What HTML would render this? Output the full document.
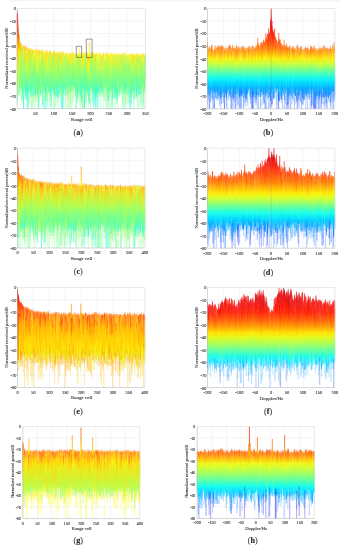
<!DOCTYPE html><html><head><meta charset="utf-8"><style>html,body{margin:0;padding:0;background:#fff;}body{width:343px;height:550px;overflow:hidden;}svg{display:block;}text{font-family:"Liberation Serif",serif;fill:#404040;stroke:#404040;stroke-width:0.12px;}</style></head><body>
<svg width="343" height="550" viewBox="0 0 343 550">
<defs><filter id="bl" x="-5%" y="-5%" width="110%" height="110%"><feGaussianBlur stdDeviation="0.3"/></filter>
<linearGradient id="ga" gradientUnits="userSpaceOnUse" x1="0" y1="0" x2="0" y2="320"><stop offset="0%" stop-color="#d10000"/><stop offset="5%" stop-color="#ea0000"/><stop offset="10%" stop-color="#ff0300"/><stop offset="15%" stop-color="#ff1c00"/><stop offset="20%" stop-color="#ff3400"/><stop offset="25%" stop-color="#ff4c00"/><stop offset="30%" stop-color="#ff7900"/><stop offset="35%" stop-color="#ffa600"/><stop offset="40%" stop-color="#ffcc00"/><stop offset="45%" stop-color="#ffeb00"/><stop offset="50%" stop-color="#ffff00"/><stop offset="55%" stop-color="#ecff13"/><stop offset="60%" stop-color="#daff25"/><stop offset="65%" stop-color="#c7ff38"/><stop offset="70%" stop-color="#b3ff4c"/><stop offset="75%" stop-color="#9eff61"/><stop offset="80%" stop-color="#8aff75"/><stop offset="85%" stop-color="#75ff8a"/><stop offset="90%" stop-color="#65ff9a"/><stop offset="95%" stop-color="#59ffa6"/><stop offset="100%" stop-color="#4dffb2"/></linearGradient>
<linearGradient id="wa" gradientUnits="userSpaceOnUse" x1="0" y1="0" x2="0" y2="320"><stop offset="0%" stop-color="#a80000"/><stop offset="5%" stop-color="#c10000"/><stop offset="10%" stop-color="#d90000"/><stop offset="15%" stop-color="#f20000"/><stop offset="20%" stop-color="#ff0b00"/><stop offset="25%" stop-color="#ff2400"/><stop offset="30%" stop-color="#ff5100"/><stop offset="35%" stop-color="#ff7d00"/><stop offset="40%" stop-color="#ffa300"/><stop offset="45%" stop-color="#ffc200"/><stop offset="50%" stop-color="#ffd600"/><stop offset="55%" stop-color="#ffe900"/><stop offset="60%" stop-color="#fffb00"/><stop offset="65%" stop-color="#f0ff0f"/><stop offset="70%" stop-color="#dbff24"/><stop offset="75%" stop-color="#c7ff38"/><stop offset="80%" stop-color="#b3ff4c"/><stop offset="85%" stop-color="#9eff61"/><stop offset="90%" stop-color="#8eff71"/><stop offset="95%" stop-color="#82ff7d"/><stop offset="100%" stop-color="#75ff8a"/></linearGradient>
<linearGradient id="ca" gradientUnits="userSpaceOnUse" x1="0" y1="0" x2="0" y2="320"><stop offset="0%" stop-color="#ff3800"/><stop offset="5%" stop-color="#ff5100"/><stop offset="10%" stop-color="#ff6900"/><stop offset="15%" stop-color="#ff8200"/><stop offset="20%" stop-color="#ff9a00"/><stop offset="25%" stop-color="#ffb200"/><stop offset="30%" stop-color="#ffdf00"/><stop offset="35%" stop-color="#f2ff0d"/><stop offset="40%" stop-color="#ccff33"/><stop offset="45%" stop-color="#adff52"/><stop offset="50%" stop-color="#99ff66"/><stop offset="55%" stop-color="#86ff79"/><stop offset="60%" stop-color="#74ff8b"/><stop offset="65%" stop-color="#61ff9e"/><stop offset="70%" stop-color="#4dffb2"/><stop offset="75%" stop-color="#38ffc7"/><stop offset="80%" stop-color="#24ffdb"/><stop offset="85%" stop-color="#0ffff0"/><stop offset="90%" stop-color="#00feff"/><stop offset="95%" stop-color="#00f2ff"/><stop offset="100%" stop-color="#00e5ff"/></linearGradient>
<linearGradient id="da" gradientUnits="userSpaceOnUse" x1="0" y1="0" x2="0" y2="320"><stop offset="0%" stop-color="#b20000"/><stop offset="5%" stop-color="#cb0000"/><stop offset="10%" stop-color="#e30000"/><stop offset="15%" stop-color="#fc0000"/><stop offset="20%" stop-color="#ff1500"/><stop offset="25%" stop-color="#ff2e00"/><stop offset="30%" stop-color="#ff5b00"/><stop offset="35%" stop-color="#ff8800"/><stop offset="40%" stop-color="#ffad00"/><stop offset="45%" stop-color="#ffcc00"/><stop offset="50%" stop-color="#ffe000"/><stop offset="55%" stop-color="#fff400"/><stop offset="60%" stop-color="#f9ff06"/><stop offset="65%" stop-color="#e5ff1a"/><stop offset="70%" stop-color="#d1ff2e"/><stop offset="75%" stop-color="#bdff42"/><stop offset="80%" stop-color="#a8ff57"/><stop offset="85%" stop-color="#94ff6b"/><stop offset="90%" stop-color="#84ff7b"/><stop offset="95%" stop-color="#77ff88"/><stop offset="100%" stop-color="#6bff94"/></linearGradient>
<linearGradient id="sa" gradientUnits="userSpaceOnUse" x1="0" y1="0" x2="0" y2="320"><stop offset="0%" stop-color="#f00000"/><stop offset="5%" stop-color="#ff0900"/><stop offset="10%" stop-color="#ff2200"/><stop offset="15%" stop-color="#ff3a00"/><stop offset="20%" stop-color="#ff5300"/><stop offset="25%" stop-color="#ff6b00"/><stop offset="30%" stop-color="#ff9800"/><stop offset="35%" stop-color="#ffc500"/><stop offset="40%" stop-color="#ffeb00"/><stop offset="45%" stop-color="#f5ff0a"/><stop offset="50%" stop-color="#e0ff1f"/><stop offset="55%" stop-color="#cdff32"/><stop offset="60%" stop-color="#bbff44"/><stop offset="65%" stop-color="#a8ff57"/><stop offset="70%" stop-color="#94ff6b"/><stop offset="75%" stop-color="#80ff80"/><stop offset="80%" stop-color="#6bff94"/><stop offset="85%" stop-color="#57ffa8"/><stop offset="90%" stop-color="#46ffb9"/><stop offset="95%" stop-color="#3affc5"/><stop offset="100%" stop-color="#2effd1"/></linearGradient>
<linearGradient id="gb" gradientUnits="userSpaceOnUse" x1="0" y1="0" x2="0" y2="320"><stop offset="0%" stop-color="#9e0000"/><stop offset="5%" stop-color="#b10000"/><stop offset="10%" stop-color="#c40000"/><stop offset="15%" stop-color="#d70000"/><stop offset="20%" stop-color="#ee0000"/><stop offset="25%" stop-color="#ff0f00"/><stop offset="30%" stop-color="#ff3000"/><stop offset="35%" stop-color="#ff5300"/><stop offset="40%" stop-color="#ff7700"/><stop offset="45%" stop-color="#ffaf00"/><stop offset="50%" stop-color="#ffef00"/><stop offset="55%" stop-color="#cfff30"/><stop offset="60%" stop-color="#8fff70"/><stop offset="65%" stop-color="#50ffaf"/><stop offset="70%" stop-color="#10ffef"/><stop offset="75%" stop-color="#00deff"/><stop offset="80%" stop-color="#00b3ff"/><stop offset="85%" stop-color="#008eff"/><stop offset="90%" stop-color="#006aff"/><stop offset="95%" stop-color="#004fff"/><stop offset="100%" stop-color="#0038ff"/></linearGradient>
<linearGradient id="wb" gradientUnits="userSpaceOnUse" x1="0" y1="0" x2="0" y2="320"><stop offset="0%" stop-color="#800000"/><stop offset="5%" stop-color="#930000"/><stop offset="10%" stop-color="#a60000"/><stop offset="15%" stop-color="#b90000"/><stop offset="20%" stop-color="#cf0000"/><stop offset="25%" stop-color="#f00000"/><stop offset="30%" stop-color="#ff1100"/><stop offset="35%" stop-color="#ff3400"/><stop offset="40%" stop-color="#ff5800"/><stop offset="45%" stop-color="#ff9100"/><stop offset="50%" stop-color="#ffd000"/><stop offset="55%" stop-color="#eeff11"/><stop offset="60%" stop-color="#aeff51"/><stop offset="65%" stop-color="#6eff91"/><stop offset="70%" stop-color="#2fffd0"/><stop offset="75%" stop-color="#00fdff"/><stop offset="80%" stop-color="#00d2ff"/><stop offset="85%" stop-color="#00acff"/><stop offset="90%" stop-color="#0088ff"/><stop offset="95%" stop-color="#006eff"/><stop offset="100%" stop-color="#0057ff"/></linearGradient>
<linearGradient id="cb" gradientUnits="userSpaceOnUse" x1="0" y1="0" x2="0" y2="320"><stop offset="0%" stop-color="#bd0000"/><stop offset="5%" stop-color="#d00000"/><stop offset="10%" stop-color="#e30000"/><stop offset="15%" stop-color="#f60000"/><stop offset="20%" stop-color="#ff0d00"/><stop offset="25%" stop-color="#ff2e00"/><stop offset="30%" stop-color="#ff4f00"/><stop offset="35%" stop-color="#ff7100"/><stop offset="40%" stop-color="#ff9500"/><stop offset="45%" stop-color="#ffce00"/><stop offset="50%" stop-color="#f0ff0f"/><stop offset="55%" stop-color="#b1ff4e"/><stop offset="60%" stop-color="#71ff8e"/><stop offset="65%" stop-color="#31ffce"/><stop offset="70%" stop-color="#00f0ff"/><stop offset="75%" stop-color="#00c0ff"/><stop offset="80%" stop-color="#0095ff"/><stop offset="85%" stop-color="#006fff"/><stop offset="90%" stop-color="#004bff"/><stop offset="95%" stop-color="#0031ff"/><stop offset="100%" stop-color="#001aff"/></linearGradient>
<linearGradient id="sb" gradientUnits="userSpaceOnUse" x1="0" y1="0" x2="0" y2="320"><stop offset="0%" stop-color="#bd0000"/><stop offset="5%" stop-color="#d00000"/><stop offset="10%" stop-color="#e30000"/><stop offset="15%" stop-color="#f60000"/><stop offset="20%" stop-color="#ff0d00"/><stop offset="25%" stop-color="#ff2e00"/><stop offset="30%" stop-color="#ff4f00"/><stop offset="35%" stop-color="#ff7100"/><stop offset="40%" stop-color="#ff9500"/><stop offset="45%" stop-color="#ffce00"/><stop offset="50%" stop-color="#f0ff0f"/><stop offset="55%" stop-color="#b1ff4e"/><stop offset="60%" stop-color="#71ff8e"/><stop offset="65%" stop-color="#31ffce"/><stop offset="70%" stop-color="#00f0ff"/><stop offset="75%" stop-color="#00c0ff"/><stop offset="80%" stop-color="#0095ff"/><stop offset="85%" stop-color="#006fff"/><stop offset="90%" stop-color="#004bff"/><stop offset="95%" stop-color="#0031ff"/><stop offset="100%" stop-color="#001aff"/></linearGradient>
<linearGradient id="gc" gradientUnits="userSpaceOnUse" x1="0" y1="0" x2="0" y2="320"><stop offset="0%" stop-color="#d10000"/><stop offset="5%" stop-color="#f20000"/><stop offset="10%" stop-color="#ff1300"/><stop offset="15%" stop-color="#ff3400"/><stop offset="20%" stop-color="#ff5300"/><stop offset="25%" stop-color="#ff6e00"/><stop offset="30%" stop-color="#ff8a00"/><stop offset="35%" stop-color="#ffa500"/><stop offset="40%" stop-color="#ffc300"/><stop offset="45%" stop-color="#ffe000"/><stop offset="50%" stop-color="#fff500"/><stop offset="55%" stop-color="#f1ff0e"/><stop offset="60%" stop-color="#d5ff2a"/><stop offset="65%" stop-color="#bdff42"/><stop offset="70%" stop-color="#a8ff57"/><stop offset="75%" stop-color="#94ff6b"/><stop offset="80%" stop-color="#84ff7b"/><stop offset="85%" stop-color="#73ff8c"/><stop offset="90%" stop-color="#65ff9a"/><stop offset="95%" stop-color="#59ffa6"/><stop offset="100%" stop-color="#4dffb2"/></linearGradient>
<linearGradient id="wc" gradientUnits="userSpaceOnUse" x1="0" y1="0" x2="0" y2="320"><stop offset="0%" stop-color="#a80000"/><stop offset="5%" stop-color="#c90000"/><stop offset="10%" stop-color="#ea0000"/><stop offset="15%" stop-color="#ff0b00"/><stop offset="20%" stop-color="#ff2a00"/><stop offset="25%" stop-color="#ff4600"/><stop offset="30%" stop-color="#ff6100"/><stop offset="35%" stop-color="#ff7c00"/><stop offset="40%" stop-color="#ff9a00"/><stop offset="45%" stop-color="#ffb800"/><stop offset="50%" stop-color="#ffcc00"/><stop offset="55%" stop-color="#ffe400"/><stop offset="60%" stop-color="#feff01"/><stop offset="65%" stop-color="#e5ff1a"/><stop offset="70%" stop-color="#d1ff2e"/><stop offset="75%" stop-color="#bdff42"/><stop offset="80%" stop-color="#acff53"/><stop offset="85%" stop-color="#9cff63"/><stop offset="90%" stop-color="#8eff71"/><stop offset="95%" stop-color="#82ff7d"/><stop offset="100%" stop-color="#75ff8a"/></linearGradient>
<linearGradient id="cc" gradientUnits="userSpaceOnUse" x1="0" y1="0" x2="0" y2="320"><stop offset="0%" stop-color="#ff2e00"/><stop offset="5%" stop-color="#ff4f00"/><stop offset="10%" stop-color="#ff6f00"/><stop offset="15%" stop-color="#ff9000"/><stop offset="20%" stop-color="#ffaf00"/><stop offset="25%" stop-color="#ffca00"/><stop offset="30%" stop-color="#ffe500"/><stop offset="35%" stop-color="#fdff02"/><stop offset="40%" stop-color="#dfff20"/><stop offset="45%" stop-color="#c2ff3d"/><stop offset="50%" stop-color="#adff52"/><stop offset="55%" stop-color="#95ff6a"/><stop offset="60%" stop-color="#79ff86"/><stop offset="65%" stop-color="#61ff9e"/><stop offset="70%" stop-color="#4dffb2"/><stop offset="75%" stop-color="#38ffc7"/><stop offset="80%" stop-color="#28ffd7"/><stop offset="85%" stop-color="#17ffe8"/><stop offset="90%" stop-color="#09fff6"/><stop offset="95%" stop-color="#00fcff"/><stop offset="100%" stop-color="#00f0ff"/></linearGradient>
<linearGradient id="dc" gradientUnits="userSpaceOnUse" x1="0" y1="0" x2="0" y2="320"><stop offset="0%" stop-color="#b20000"/><stop offset="5%" stop-color="#d30000"/><stop offset="10%" stop-color="#f40000"/><stop offset="15%" stop-color="#ff1500"/><stop offset="20%" stop-color="#ff3500"/><stop offset="25%" stop-color="#ff5000"/><stop offset="30%" stop-color="#ff6b00"/><stop offset="35%" stop-color="#ff8600"/><stop offset="40%" stop-color="#ffa400"/><stop offset="45%" stop-color="#ffc200"/><stop offset="50%" stop-color="#ffd600"/><stop offset="55%" stop-color="#ffee00"/><stop offset="60%" stop-color="#f4ff0b"/><stop offset="65%" stop-color="#dbff24"/><stop offset="70%" stop-color="#c7ff38"/><stop offset="75%" stop-color="#b3ff4c"/><stop offset="80%" stop-color="#a2ff5d"/><stop offset="85%" stop-color="#92ff6d"/><stop offset="90%" stop-color="#84ff7b"/><stop offset="95%" stop-color="#77ff88"/><stop offset="100%" stop-color="#6bff94"/></linearGradient>
<linearGradient id="sc" gradientUnits="userSpaceOnUse" x1="0" y1="0" x2="0" y2="320"><stop offset="0%" stop-color="#ff0f00"/><stop offset="5%" stop-color="#ff3000"/><stop offset="10%" stop-color="#ff5100"/><stop offset="15%" stop-color="#ff7100"/><stop offset="20%" stop-color="#ff9000"/><stop offset="25%" stop-color="#ffac00"/><stop offset="30%" stop-color="#ffc700"/><stop offset="35%" stop-color="#ffe200"/><stop offset="40%" stop-color="#feff01"/><stop offset="45%" stop-color="#e0ff1f"/><stop offset="50%" stop-color="#ccff33"/><stop offset="55%" stop-color="#b4ff4b"/><stop offset="60%" stop-color="#98ff67"/><stop offset="65%" stop-color="#7fff80"/><stop offset="70%" stop-color="#6bff94"/><stop offset="75%" stop-color="#57ffa8"/><stop offset="80%" stop-color="#46ffb9"/><stop offset="85%" stop-color="#36ffc9"/><stop offset="90%" stop-color="#28ffd7"/><stop offset="95%" stop-color="#1cffe3"/><stop offset="100%" stop-color="#0ffff0"/></linearGradient>
<linearGradient id="gd" gradientUnits="userSpaceOnUse" x1="0" y1="0" x2="0" y2="320"><stop offset="0%" stop-color="#9e0000"/><stop offset="5%" stop-color="#bd0000"/><stop offset="10%" stop-color="#db0000"/><stop offset="15%" stop-color="#fa0000"/><stop offset="20%" stop-color="#ff1c00"/><stop offset="25%" stop-color="#ff3c00"/><stop offset="30%" stop-color="#ff5e00"/><stop offset="35%" stop-color="#ff8000"/><stop offset="40%" stop-color="#ffb300"/><stop offset="45%" stop-color="#ffe500"/><stop offset="50%" stop-color="#dfff20"/><stop offset="55%" stop-color="#9fff60"/><stop offset="60%" stop-color="#60ff9f"/><stop offset="65%" stop-color="#20ffdf"/><stop offset="70%" stop-color="#00e9ff"/><stop offset="75%" stop-color="#00beff"/><stop offset="80%" stop-color="#009aff"/><stop offset="85%" stop-color="#007dff"/><stop offset="90%" stop-color="#006aff"/><stop offset="95%" stop-color="#005bff"/><stop offset="100%" stop-color="#004dff"/></linearGradient>
<linearGradient id="wd" gradientUnits="userSpaceOnUse" x1="0" y1="0" x2="0" y2="320"><stop offset="0%" stop-color="#800000"/><stop offset="5%" stop-color="#9e0000"/><stop offset="10%" stop-color="#bd0000"/><stop offset="15%" stop-color="#db0000"/><stop offset="20%" stop-color="#fc0000"/><stop offset="25%" stop-color="#ff1e00"/><stop offset="30%" stop-color="#ff3f00"/><stop offset="35%" stop-color="#ff6100"/><stop offset="40%" stop-color="#ff9400"/><stop offset="45%" stop-color="#ffc700"/><stop offset="50%" stop-color="#feff01"/><stop offset="55%" stop-color="#beff41"/><stop offset="60%" stop-color="#7eff81"/><stop offset="65%" stop-color="#3effc1"/><stop offset="70%" stop-color="#09fff6"/><stop offset="75%" stop-color="#00ddff"/><stop offset="80%" stop-color="#00b8ff"/><stop offset="85%" stop-color="#009bff"/><stop offset="90%" stop-color="#0089ff"/><stop offset="95%" stop-color="#007aff"/><stop offset="100%" stop-color="#006bff"/></linearGradient>
<linearGradient id="cd" gradientUnits="userSpaceOnUse" x1="0" y1="0" x2="0" y2="320"><stop offset="0%" stop-color="#bd0000"/><stop offset="5%" stop-color="#db0000"/><stop offset="10%" stop-color="#fa0000"/><stop offset="15%" stop-color="#ff1a00"/><stop offset="20%" stop-color="#ff3a00"/><stop offset="25%" stop-color="#ff5b00"/><stop offset="30%" stop-color="#ff7c00"/><stop offset="35%" stop-color="#ff9e00"/><stop offset="40%" stop-color="#ffd100"/><stop offset="45%" stop-color="#faff05"/><stop offset="50%" stop-color="#c1ff3e"/><stop offset="55%" stop-color="#81ff7e"/><stop offset="60%" stop-color="#41ffbe"/><stop offset="65%" stop-color="#01fffe"/><stop offset="70%" stop-color="#00cbff"/><stop offset="75%" stop-color="#009fff"/><stop offset="80%" stop-color="#007bff"/><stop offset="85%" stop-color="#005eff"/><stop offset="90%" stop-color="#004cff"/><stop offset="95%" stop-color="#003dff"/><stop offset="100%" stop-color="#002eff"/></linearGradient>
<linearGradient id="sd" gradientUnits="userSpaceOnUse" x1="0" y1="0" x2="0" y2="320"><stop offset="0%" stop-color="#bd0000"/><stop offset="5%" stop-color="#db0000"/><stop offset="10%" stop-color="#fa0000"/><stop offset="15%" stop-color="#ff1a00"/><stop offset="20%" stop-color="#ff3a00"/><stop offset="25%" stop-color="#ff5b00"/><stop offset="30%" stop-color="#ff7c00"/><stop offset="35%" stop-color="#ff9e00"/><stop offset="40%" stop-color="#ffd100"/><stop offset="45%" stop-color="#faff05"/><stop offset="50%" stop-color="#c1ff3e"/><stop offset="55%" stop-color="#81ff7e"/><stop offset="60%" stop-color="#41ffbe"/><stop offset="65%" stop-color="#01fffe"/><stop offset="70%" stop-color="#00cbff"/><stop offset="75%" stop-color="#009fff"/><stop offset="80%" stop-color="#007bff"/><stop offset="85%" stop-color="#005eff"/><stop offset="90%" stop-color="#004cff"/><stop offset="95%" stop-color="#003dff"/><stop offset="100%" stop-color="#002eff"/></linearGradient>
<linearGradient id="ge" gradientUnits="userSpaceOnUse" x1="0" y1="0" x2="0" y2="320"><stop offset="0%" stop-color="#db0000"/><stop offset="5%" stop-color="#f80000"/><stop offset="10%" stop-color="#ff1500"/><stop offset="15%" stop-color="#ff3300"/><stop offset="20%" stop-color="#ff5200"/><stop offset="25%" stop-color="#ff7000"/><stop offset="30%" stop-color="#ff8b00"/><stop offset="35%" stop-color="#ffa200"/><stop offset="40%" stop-color="#ffb300"/><stop offset="45%" stop-color="#ffbd00"/><stop offset="50%" stop-color="#ffc700"/><stop offset="55%" stop-color="#ffd000"/><stop offset="60%" stop-color="#ffd900"/><stop offset="65%" stop-color="#ffe300"/><stop offset="70%" stop-color="#ffee00"/><stop offset="75%" stop-color="#fffa00"/><stop offset="80%" stop-color="#feff01"/><stop offset="85%" stop-color="#f8ff07"/><stop offset="90%" stop-color="#f2ff0d"/><stop offset="95%" stop-color="#ecff13"/><stop offset="100%" stop-color="#e5ff1a"/></linearGradient>
<linearGradient id="we" gradientUnits="userSpaceOnUse" x1="0" y1="0" x2="0" y2="320"><stop offset="0%" stop-color="#800000"/><stop offset="5%" stop-color="#9c0000"/><stop offset="10%" stop-color="#b90000"/><stop offset="15%" stop-color="#d60000"/><stop offset="20%" stop-color="#f50000"/><stop offset="25%" stop-color="#ff1400"/><stop offset="30%" stop-color="#ff3000"/><stop offset="35%" stop-color="#ff4600"/><stop offset="40%" stop-color="#ff5700"/><stop offset="45%" stop-color="#ff6100"/><stop offset="50%" stop-color="#ff6b00"/><stop offset="55%" stop-color="#ff7400"/><stop offset="60%" stop-color="#ff7d00"/><stop offset="65%" stop-color="#ff8700"/><stop offset="70%" stop-color="#ff9200"/><stop offset="75%" stop-color="#ff9e00"/><stop offset="80%" stop-color="#ffa400"/><stop offset="85%" stop-color="#ffaa00"/><stop offset="90%" stop-color="#ffb000"/><stop offset="95%" stop-color="#ffb700"/><stop offset="100%" stop-color="#ffbd00"/></linearGradient>
<linearGradient id="ce" gradientUnits="userSpaceOnUse" x1="0" y1="0" x2="0" y2="320"><stop offset="0%" stop-color="#ff0500"/><stop offset="5%" stop-color="#ff2200"/><stop offset="10%" stop-color="#ff3e00"/><stop offset="15%" stop-color="#ff5c00"/><stop offset="20%" stop-color="#ff7a00"/><stop offset="25%" stop-color="#ff9900"/><stop offset="30%" stop-color="#ffb400"/><stop offset="35%" stop-color="#ffca00"/><stop offset="40%" stop-color="#ffdb00"/><stop offset="45%" stop-color="#ffe600"/><stop offset="50%" stop-color="#fff000"/><stop offset="55%" stop-color="#fff800"/><stop offset="60%" stop-color="#fcff03"/><stop offset="65%" stop-color="#f2ff0d"/><stop offset="70%" stop-color="#e7ff18"/><stop offset="75%" stop-color="#dbff24"/><stop offset="80%" stop-color="#d5ff2a"/><stop offset="85%" stop-color="#cfff30"/><stop offset="90%" stop-color="#c9ff36"/><stop offset="95%" stop-color="#c3ff3c"/><stop offset="100%" stop-color="#bdff42"/></linearGradient>
<linearGradient id="de" gradientUnits="userSpaceOnUse" x1="0" y1="0" x2="0" y2="320"><stop offset="0%" stop-color="#8a0000"/><stop offset="5%" stop-color="#a60000"/><stop offset="10%" stop-color="#c30000"/><stop offset="15%" stop-color="#e00000"/><stop offset="20%" stop-color="#ff0000"/><stop offset="25%" stop-color="#ff1f00"/><stop offset="30%" stop-color="#ff3a00"/><stop offset="35%" stop-color="#ff5000"/><stop offset="40%" stop-color="#ff6100"/><stop offset="45%" stop-color="#ff6b00"/><stop offset="50%" stop-color="#ff7500"/><stop offset="55%" stop-color="#ff7e00"/><stop offset="60%" stop-color="#ff8700"/><stop offset="65%" stop-color="#ff9100"/><stop offset="70%" stop-color="#ff9d00"/><stop offset="75%" stop-color="#ffa800"/><stop offset="80%" stop-color="#ffae00"/><stop offset="85%" stop-color="#ffb500"/><stop offset="90%" stop-color="#ffbb00"/><stop offset="95%" stop-color="#ffc100"/><stop offset="100%" stop-color="#ffc700"/></linearGradient>
<linearGradient id="se" gradientUnits="userSpaceOnUse" x1="0" y1="0" x2="0" y2="320"><stop offset="0%" stop-color="#ff1900"/><stop offset="5%" stop-color="#ff3600"/><stop offset="10%" stop-color="#ff5300"/><stop offset="15%" stop-color="#ff7000"/><stop offset="20%" stop-color="#ff8f00"/><stop offset="25%" stop-color="#ffad00"/><stop offset="30%" stop-color="#ffc900"/><stop offset="35%" stop-color="#ffdf00"/><stop offset="40%" stop-color="#fff000"/><stop offset="45%" stop-color="#fffa00"/><stop offset="50%" stop-color="#faff05"/><stop offset="55%" stop-color="#f1ff0e"/><stop offset="60%" stop-color="#e8ff17"/><stop offset="65%" stop-color="#deff21"/><stop offset="70%" stop-color="#d3ff2c"/><stop offset="75%" stop-color="#c7ff38"/><stop offset="80%" stop-color="#c1ff3e"/><stop offset="85%" stop-color="#bbff44"/><stop offset="90%" stop-color="#b5ff4a"/><stop offset="95%" stop-color="#aeff51"/><stop offset="100%" stop-color="#a8ff57"/></linearGradient>
<linearGradient id="gf" gradientUnits="userSpaceOnUse" x1="0" y1="0" x2="0" y2="320"><stop offset="0%" stop-color="#c70000"/><stop offset="5%" stop-color="#d70000"/><stop offset="10%" stop-color="#e80000"/><stop offset="15%" stop-color="#f60000"/><stop offset="20%" stop-color="#ff0500"/><stop offset="25%" stop-color="#ff1a00"/><stop offset="30%" stop-color="#ff4200"/><stop offset="35%" stop-color="#ff6b00"/><stop offset="40%" stop-color="#ff9c00"/><stop offset="45%" stop-color="#ffd500"/><stop offset="50%" stop-color="#f2ff0d"/><stop offset="55%" stop-color="#bfff40"/><stop offset="60%" stop-color="#8cff73"/><stop offset="65%" stop-color="#50ffaf"/><stop offset="70%" stop-color="#10ffef"/><stop offset="75%" stop-color="#00deff"/><stop offset="80%" stop-color="#00b2ff"/><stop offset="85%" stop-color="#0099ff"/><stop offset="90%" stop-color="#0080ff"/><stop offset="95%" stop-color="#0066ff"/><stop offset="100%" stop-color="#004dff"/></linearGradient>
<linearGradient id="wf" gradientUnits="userSpaceOnUse" x1="0" y1="0" x2="0" y2="320"><stop offset="0%" stop-color="#a80000"/><stop offset="5%" stop-color="#b90000"/><stop offset="10%" stop-color="#c90000"/><stop offset="15%" stop-color="#d70000"/><stop offset="20%" stop-color="#e50000"/><stop offset="25%" stop-color="#fa0000"/><stop offset="30%" stop-color="#ff2400"/><stop offset="35%" stop-color="#ff4c00"/><stop offset="40%" stop-color="#ff7d00"/><stop offset="45%" stop-color="#ffb600"/><stop offset="50%" stop-color="#ffed00"/><stop offset="55%" stop-color="#deff21"/><stop offset="60%" stop-color="#abff54"/><stop offset="65%" stop-color="#6eff91"/><stop offset="70%" stop-color="#2fffd0"/><stop offset="75%" stop-color="#00fdff"/><stop offset="80%" stop-color="#00d1ff"/><stop offset="85%" stop-color="#00b8ff"/><stop offset="90%" stop-color="#009eff"/><stop offset="95%" stop-color="#0085ff"/><stop offset="100%" stop-color="#006bff"/></linearGradient>
<linearGradient id="cf" gradientUnits="userSpaceOnUse" x1="0" y1="0" x2="0" y2="320"><stop offset="0%" stop-color="#e50000"/><stop offset="5%" stop-color="#f60000"/><stop offset="10%" stop-color="#ff0700"/><stop offset="15%" stop-color="#ff1500"/><stop offset="20%" stop-color="#ff2400"/><stop offset="25%" stop-color="#ff3800"/><stop offset="30%" stop-color="#ff6100"/><stop offset="35%" stop-color="#ff8a00"/><stop offset="40%" stop-color="#ffba00"/><stop offset="45%" stop-color="#fff300"/><stop offset="50%" stop-color="#d4ff2b"/><stop offset="55%" stop-color="#a1ff5e"/><stop offset="60%" stop-color="#6eff91"/><stop offset="65%" stop-color="#31ffce"/><stop offset="70%" stop-color="#00f0ff"/><stop offset="75%" stop-color="#00c0ff"/><stop offset="80%" stop-color="#0094ff"/><stop offset="85%" stop-color="#007aff"/><stop offset="90%" stop-color="#0061ff"/><stop offset="95%" stop-color="#0047ff"/><stop offset="100%" stop-color="#002eff"/></linearGradient>
<linearGradient id="sf" gradientUnits="userSpaceOnUse" x1="0" y1="0" x2="0" y2="320"><stop offset="0%" stop-color="#e50000"/><stop offset="5%" stop-color="#f60000"/><stop offset="10%" stop-color="#ff0700"/><stop offset="15%" stop-color="#ff1500"/><stop offset="20%" stop-color="#ff2400"/><stop offset="25%" stop-color="#ff3800"/><stop offset="30%" stop-color="#ff6100"/><stop offset="35%" stop-color="#ff8a00"/><stop offset="40%" stop-color="#ffba00"/><stop offset="45%" stop-color="#fff300"/><stop offset="50%" stop-color="#d4ff2b"/><stop offset="55%" stop-color="#a1ff5e"/><stop offset="60%" stop-color="#6eff91"/><stop offset="65%" stop-color="#31ffce"/><stop offset="70%" stop-color="#00f0ff"/><stop offset="75%" stop-color="#00c0ff"/><stop offset="80%" stop-color="#0094ff"/><stop offset="85%" stop-color="#007aff"/><stop offset="90%" stop-color="#0061ff"/><stop offset="95%" stop-color="#0047ff"/><stop offset="100%" stop-color="#002eff"/></linearGradient>
<linearGradient id="gg" gradientUnits="userSpaceOnUse" x1="0" y1="0" x2="0" y2="320"><stop offset="0%" stop-color="#c70000"/><stop offset="5%" stop-color="#e80000"/><stop offset="10%" stop-color="#ff0900"/><stop offset="15%" stop-color="#ff2c00"/><stop offset="20%" stop-color="#ff5100"/><stop offset="25%" stop-color="#ff7600"/><stop offset="30%" stop-color="#ff9a00"/><stop offset="35%" stop-color="#ffbd00"/><stop offset="40%" stop-color="#ffd400"/><stop offset="45%" stop-color="#ffe900"/><stop offset="50%" stop-color="#fff700"/><stop offset="55%" stop-color="#faff05"/><stop offset="60%" stop-color="#e5ff1a"/><stop offset="65%" stop-color="#d1ff2e"/><stop offset="70%" stop-color="#bdff42"/><stop offset="75%" stop-color="#b9ff46"/><stop offset="80%" stop-color="#b6ff49"/><stop offset="85%" stop-color="#b3ff4c"/><stop offset="90%" stop-color="#afff50"/><stop offset="95%" stop-color="#acff53"/><stop offset="100%" stop-color="#a8ff57"/></linearGradient>
<linearGradient id="wg" gradientUnits="userSpaceOnUse" x1="0" y1="0" x2="0" y2="320"><stop offset="0%" stop-color="#8a0000"/><stop offset="5%" stop-color="#aa0000"/><stop offset="10%" stop-color="#cb0000"/><stop offset="15%" stop-color="#ee0000"/><stop offset="20%" stop-color="#ff1400"/><stop offset="25%" stop-color="#ff3900"/><stop offset="30%" stop-color="#ff5d00"/><stop offset="35%" stop-color="#ff8000"/><stop offset="40%" stop-color="#ff9700"/><stop offset="45%" stop-color="#ffac00"/><stop offset="50%" stop-color="#ffb900"/><stop offset="55%" stop-color="#ffc700"/><stop offset="60%" stop-color="#ffdb00"/><stop offset="65%" stop-color="#fff000"/><stop offset="70%" stop-color="#faff05"/><stop offset="75%" stop-color="#f7ff08"/><stop offset="80%" stop-color="#f3ff0c"/><stop offset="85%" stop-color="#f0ff0f"/><stop offset="90%" stop-color="#ecff13"/><stop offset="95%" stop-color="#e9ff16"/><stop offset="100%" stop-color="#e6ff19"/></linearGradient>
<linearGradient id="cg" gradientUnits="userSpaceOnUse" x1="0" y1="0" x2="0" y2="320"><stop offset="0%" stop-color="#fa0000"/><stop offset="5%" stop-color="#ff1c00"/><stop offset="10%" stop-color="#ff3c00"/><stop offset="15%" stop-color="#ff5f00"/><stop offset="20%" stop-color="#ff8400"/><stop offset="25%" stop-color="#ffa900"/><stop offset="30%" stop-color="#ffcd00"/><stop offset="35%" stop-color="#fff000"/><stop offset="40%" stop-color="#f7ff08"/><stop offset="45%" stop-color="#e2ff1d"/><stop offset="50%" stop-color="#d4ff2b"/><stop offset="55%" stop-color="#c7ff38"/><stop offset="60%" stop-color="#b2ff4d"/><stop offset="65%" stop-color="#9eff61"/><stop offset="70%" stop-color="#8aff75"/><stop offset="75%" stop-color="#86ff79"/><stop offset="80%" stop-color="#83ff7c"/><stop offset="85%" stop-color="#80ff80"/><stop offset="90%" stop-color="#7cff83"/><stop offset="95%" stop-color="#79ff86"/><stop offset="100%" stop-color="#75ff8a"/></linearGradient>
<linearGradient id="dg" gradientUnits="userSpaceOnUse" x1="0" y1="0" x2="0" y2="320"><stop offset="0%" stop-color="#800000"/><stop offset="5%" stop-color="#960000"/><stop offset="10%" stop-color="#b70000"/><stop offset="15%" stop-color="#d90000"/><stop offset="20%" stop-color="#ff0000"/><stop offset="25%" stop-color="#ff2500"/><stop offset="30%" stop-color="#ff4800"/><stop offset="35%" stop-color="#ff6b00"/><stop offset="40%" stop-color="#ff8200"/><stop offset="45%" stop-color="#ff9700"/><stop offset="50%" stop-color="#ffa500"/><stop offset="55%" stop-color="#ffb300"/><stop offset="60%" stop-color="#ffc700"/><stop offset="65%" stop-color="#ffdb00"/><stop offset="70%" stop-color="#fff000"/><stop offset="75%" stop-color="#fff300"/><stop offset="80%" stop-color="#fff700"/><stop offset="85%" stop-color="#fffa00"/><stop offset="90%" stop-color="#fffd00"/><stop offset="95%" stop-color="#fdff02"/><stop offset="100%" stop-color="#faff05"/></linearGradient>
<linearGradient id="sg" gradientUnits="userSpaceOnUse" x1="0" y1="0" x2="0" y2="320"><stop offset="0%" stop-color="#ff2e00"/><stop offset="5%" stop-color="#ff4f00"/><stop offset="10%" stop-color="#ff6f00"/><stop offset="15%" stop-color="#ff9200"/><stop offset="20%" stop-color="#ffb700"/><stop offset="25%" stop-color="#ffdc00"/><stop offset="30%" stop-color="#feff01"/><stop offset="35%" stop-color="#dbff24"/><stop offset="40%" stop-color="#c4ff3b"/><stop offset="45%" stop-color="#afff50"/><stop offset="50%" stop-color="#a2ff5e"/><stop offset="55%" stop-color="#94ff6b"/><stop offset="60%" stop-color="#80ff80"/><stop offset="65%" stop-color="#6bff94"/><stop offset="70%" stop-color="#57ffa8"/><stop offset="75%" stop-color="#53ffac"/><stop offset="80%" stop-color="#50ffaf"/><stop offset="85%" stop-color="#4dffb2"/><stop offset="90%" stop-color="#49ffb6"/><stop offset="95%" stop-color="#46ffb9"/><stop offset="100%" stop-color="#42ffbd"/></linearGradient>
<linearGradient id="gh" gradientUnits="userSpaceOnUse" x1="0" y1="0" x2="0" y2="320"><stop offset="0%" stop-color="#b30000"/><stop offset="5%" stop-color="#d30000"/><stop offset="10%" stop-color="#f40000"/><stop offset="15%" stop-color="#ff1600"/><stop offset="20%" stop-color="#ff3700"/><stop offset="25%" stop-color="#ff5900"/><stop offset="30%" stop-color="#ff7800"/><stop offset="35%" stop-color="#ffb600"/><stop offset="40%" stop-color="#ffff00"/><stop offset="45%" stop-color="#d8ff27"/><stop offset="50%" stop-color="#b1ff4e"/><stop offset="55%" stop-color="#89ff76"/><stop offset="60%" stop-color="#55ffaa"/><stop offset="65%" stop-color="#1cffe3"/><stop offset="70%" stop-color="#00e9ff"/><stop offset="75%" stop-color="#00bdff"/><stop offset="80%" stop-color="#0097ff"/><stop offset="85%" stop-color="#0073ff"/><stop offset="90%" stop-color="#0057ff"/><stop offset="95%" stop-color="#0042ff"/><stop offset="100%" stop-color="#002eff"/></linearGradient>
<linearGradient id="wh" gradientUnits="userSpaceOnUse" x1="0" y1="0" x2="0" y2="320"><stop offset="0%" stop-color="#940000"/><stop offset="5%" stop-color="#b50000"/><stop offset="10%" stop-color="#d50000"/><stop offset="15%" stop-color="#f60000"/><stop offset="20%" stop-color="#ff1900"/><stop offset="25%" stop-color="#ff3a00"/><stop offset="30%" stop-color="#ff5900"/><stop offset="35%" stop-color="#ff9800"/><stop offset="40%" stop-color="#ffe000"/><stop offset="45%" stop-color="#f6ff09"/><stop offset="50%" stop-color="#cfff30"/><stop offset="55%" stop-color="#a8ff57"/><stop offset="60%" stop-color="#74ff8b"/><stop offset="65%" stop-color="#3bffc4"/><stop offset="70%" stop-color="#09fff6"/><stop offset="75%" stop-color="#00dcff"/><stop offset="80%" stop-color="#00b6ff"/><stop offset="85%" stop-color="#0092ff"/><stop offset="90%" stop-color="#0075ff"/><stop offset="95%" stop-color="#0061ff"/><stop offset="100%" stop-color="#004dff"/></linearGradient>
<linearGradient id="ch" gradientUnits="userSpaceOnUse" x1="0" y1="0" x2="0" y2="320"><stop offset="0%" stop-color="#d10000"/><stop offset="5%" stop-color="#f20000"/><stop offset="10%" stop-color="#ff1300"/><stop offset="15%" stop-color="#ff3400"/><stop offset="20%" stop-color="#ff5600"/><stop offset="25%" stop-color="#ff7700"/><stop offset="30%" stop-color="#ff9600"/><stop offset="35%" stop-color="#ffd500"/><stop offset="40%" stop-color="#e0ff1f"/><stop offset="45%" stop-color="#b9ff46"/><stop offset="50%" stop-color="#92ff6d"/><stop offset="55%" stop-color="#6bff94"/><stop offset="60%" stop-color="#36ffc9"/><stop offset="65%" stop-color="#00fdff"/><stop offset="70%" stop-color="#00cbff"/><stop offset="75%" stop-color="#009fff"/><stop offset="80%" stop-color="#0079ff"/><stop offset="85%" stop-color="#0054ff"/><stop offset="90%" stop-color="#0038ff"/><stop offset="95%" stop-color="#0024ff"/><stop offset="100%" stop-color="#000fff"/></linearGradient>
<linearGradient id="sh" gradientUnits="userSpaceOnUse" x1="0" y1="0" x2="0" y2="320"><stop offset="0%" stop-color="#f00000"/><stop offset="5%" stop-color="#ff1100"/><stop offset="10%" stop-color="#ff3200"/><stop offset="15%" stop-color="#ff5300"/><stop offset="20%" stop-color="#ff7400"/><stop offset="25%" stop-color="#ff9600"/><stop offset="30%" stop-color="#ffb500"/><stop offset="35%" stop-color="#fff300"/><stop offset="40%" stop-color="#c2ff3d"/><stop offset="45%" stop-color="#9bff64"/><stop offset="50%" stop-color="#73ff8c"/><stop offset="55%" stop-color="#4cffb3"/><stop offset="60%" stop-color="#18ffe7"/><stop offset="65%" stop-color="#00deff"/><stop offset="70%" stop-color="#00acff"/><stop offset="75%" stop-color="#0080ff"/><stop offset="80%" stop-color="#005aff"/><stop offset="85%" stop-color="#0036ff"/><stop offset="90%" stop-color="#001aff"/><stop offset="95%" stop-color="#0005ff"/><stop offset="100%" stop-color="#0000f0"/></linearGradient>
</defs>
<path d="M35.51 8.4V108.6M53.83 8.4V108.6M72.14 8.4V108.6M90.46 8.4V108.6M108.77 8.4V108.6M127.09 8.4V108.6M17.2 96.08H145.4M17.2 83.55H145.4M17.2 71.03H145.4M17.2 58.5H145.4M17.2 45.97H145.4M17.2 33.45H145.4M17.2 20.92H145.4" stroke="#ebebeb" stroke-width="0.5" fill="none"/>
<g filter="url(#bl)"><g transform="translate(17.2 8.4) scale(0.62843 0.31312)">
<path d="M0 11L1 56L2 78L3 81L4 98L5 111L6 108L7 110L8 119L9 117L10 116L11 118L12 121L13 119L14 118L15 124L16 124L17 124L18 127L19 126L20 131L21 125L22 129L23 129L24 129L25 131L26 128L27 133L28 134L29 127L30 131L31 130L32 127L33 135L34 132L35 130L36 134L37 131L38 137L39 132L40 128L41 132L42 134L43 135L44 139L45 137L46 135L47 130L48 134L49 142L50 137L51 139L52 132L53 132L54 141L55 140L56 138L57 138L58 135L59 137L60 133L61 142L62 140L63 136L64 142L65 137L66 135L67 141L68 143L69 134L70 143L71 138L72 136L73 134L74 140L75 143L76 141L77 144L78 139L79 140L80 140L81 146L82 145L83 141L84 142L85 141L86 144L87 136L88 137L89 142L90 140L91 145L92 144L93 143L94 144L95 144L96 145L97 146L98 139L99 144L100 139L101 142L102 145L103 146L104 145L105 136L106 142L107 140L108 148L109 139L110 141L111 142L112 137L113 146L114 144L115 140L116 143L117 138L118 144L119 141L120 136L121 139L122 144L123 144L124 142L125 144L126 142L127 139L128 142L129 143L130 146L131 139L132 138L133 144L134 147L135 146L136 145L137 138L138 145L139 145L140 140L141 143L142 137L143 146L144 145L145 146L146 145L147 142L148 146L149 141L150 140L151 143L152 144L153 142L154 144L155 144L156 142L157 145L158 143L159 145L160 142L161 146L162 143L163 144L164 145L165 144L166 142L167 148L168 139L169 143L170 144L171 137L172 141L173 146L174 146L175 145L176 147L177 146L178 143L179 145L180 143L181 146L182 143L183 141L184 147L185 145L186 146L187 145L188 146L189 144L190 145L191 139L192 145L193 147L194 146L195 146L196 144L197 147L198 140L199 147L200 144L201 140L202 145L203 144L204 144L204 252L0 252Z" fill="url(#ga)" opacity="0.5"/>
<path d="M0 279v26m1-46v22m1-9v12m1-15v8m1-23v24m1-13v9m1-20v54m1-48v31m1-29v14m1-6v21m1-18v33m1-42v51m1-50v7m1 10v9m1-26v3m2 3v49m1-47v40m1-37v23m1-34v38m1-41v46m1-37v7m1 5v37m1-71v71m1-39v39m1-63v59m1-34v6m1-7v39m1-48v4m1 3v20m1-27v5m1-20v46m1-25v19m1-32v15m1 12v21m1-49v56m1-60v25m1-10v9m1-18v15m1-15v11m1-13v56m1-50v45m1-50v43m1-41v29m1-34v58m1-46v23m1-14v2m1-26v22m1-23v38m1-26v50m1-50v4m1-5v30m1-23v36m1-43v11m1 11v6m1-42v18m1-10v1m1 2v3m1 7v44m1-40v40m1-58v58m1-51v42m1-32v4m1-21v49m1-55v5m1 23v34m1-49v12m1-25v26m1-9v6m1-11v12m1-20v45m1-13v26m1-50v52m1-63v11m1 7v25m1-44v5m1 2v17m1-2v42m1-57v57m1-40v2m1-22v28m1-17v49m1-60v36m1-19v43m1-54v2m1 14v21m1-37v54m1-64v11m1-4v5m1 0v25m1-22v16m1-26v8m1-10v13m1 9v39m1-45v45m1-48v2m1 11v19m1-36v17m1-23v30m1-32v48m1-30v21m1-39v60m1-21v6m1-31v46m1-62v62m1-55v55m1-57v6m1 10v41m1-46v20m1-33v3m1 4v38m1-35v2m1 0v7m1-17v9m1 31v17m1-54v40m1-43v42m1-51v66m1-64v4m1 19v27m1-40v4m1 2v48m1-52v4m1 13v8m1-19v21m1-1v26m1-61v20m1-3v22m1-25v47m1-53v13m1 0v37m1-48v12m1-14v10m1-21v22m1-9v14m1-16v9m1-1v2m1-2v45m1-53v31m1-29v28m1-41v2m1-4v66m1-51v10m1-11v26m1-33v26m1 9v24m1-50v19m1-30v61m1-55v20m1-9v44m1-55v9m1-13v45m1-19v33m1-58v19m1-18v25m1 1v1m1-3v33m1-44v33m1-29v18m1-4v15m1-35v46m1-54v7m1 0v12m1-17v9m1-16v16m1-9v8m1-10v6m1-14v62m1-58v43m1-33v4m1-13v57m1-50v48m1-62v64m1-44v31m1-49v17m1-12v14m1 2v23m1-26v25m1-49v18m1 7v43m1-61v30m1-11v8m1-19v14m1-10v7m1-18v23m1-5v42m1-29v29m1-55v10m1-28v13m1 23v11m1-11v1m1-19v55m1-52v52m1-59v20m1-25v10m1 6v10m1-7v31m1-44v13m1-1v46m1-65v45m1-43v61m1-46v45m1-65v17m1 0v7m1-15v1" stroke="url(#da)" stroke-width="0.45" fill="none" vector-effect="non-scaling-stroke" opacity="0.8"/>
<path d="M0 15v264m4-176v151m1-138v149m5-144v152m1-150v141m3-141v142m3-136v144m5-139v149m3-148v122m2-120v144m3-145v136m2-140v146m13-136v132m3-136v120m1-111v123m3-133v139m12-129v109m9-117v118m1-113v131m2-129v117m3-118v135m3-130v110m3-114v136m1-133v117m1-125v115m4-106v111m2-113v133m1-132v126m6-131v134m3-128v124m1-125v109m2-111v116m8-114v154m7-159v128m3-125v127m5-127v120m1-116v129m2-137v124m7-118v120m1-124v111m3-106v118m8-120v113m6-112v127m1-129v133m3-129v115m3-116v111m14-114v105m6-100v108m2-109v140m2-140v96m1-98v134m3-133v118m3-117v121m1-123v126m3-123v103" stroke="url(#ga)" stroke-width="0.62" fill="none" vector-effect="non-scaling-stroke" opacity="0.75"/>
<path d="M3 86v183m3-156v141m10-125v142m3-140v134m2-135v141m3-138v148m5-149v147m2-144v122m2-117v125m3-126v121m1-124v139m1-133v124m3-129v133m1-131v126m4-125v143m9-139v111m2-112v123m3-128v124m2-118v135m27-132v121m6-119v123m4-124v112m6-119v124m4-121v117m1-115v122m6-120v115m4-122v125m6-119v112m1-115v132m1-129v126m10-123v117m4-125v127m2-119v111m2-111v120m1-124v113m1-109v115m1-119v130m1-131v120m2-117v139m4-141v141m4-140v127m12-129v111m1-105v125m6-126v127m1-129v111m2-111v119m16-122v129m2-126v109m1-112v127" stroke="url(#ga)" stroke-width="0.62" fill="none" vector-effect="non-scaling-stroke" opacity="0.95"/>
<path d="M1 61v198m1-176v189m6-148v138m5-139v159m5-150v144m2-140v126m14-125v155m1-158v130m4-127v129m5-123v119m3-127v124m4-115v125m2-133v133m1-123v145m4-151v136m1-135v139m2-133v122m4-127v142m3-136v125m1-134v129m1-120v112m1-117v149m4-144v108m3-112v119m2-118v115m3-114v131m1-130v119m6-121v126m12-121v149m10-157v131m1-123v113m2-118v121m3-117v107m4-108v120m1-119v136m10-136v107m3-106v125m1-132v132m25-127v125m3-124v119m2-115v105m2-111v125m12-121v127m2-132v125m2-121v128m2-129v116m6-114v110m1-110v105m3-104v110m7-113v112" stroke="url(#wa)" stroke-width="0.62" fill="none" vector-effect="non-scaling-stroke" opacity="0.85"/>
<path d="M7 115v145m2-138v148m3-145v140m3-136v160m8-155v115m3-116v149m2-144v134m12-139v131m3-124v127m7-125v128m6-128v121m7-122v121m3-123v130m1-123v110m5-115v127m5-119v129m4-127v120m7-129v121m4-114v110m4-110v136m1-134v117m1-124v118m3-115v113m6-116v135m1-126v121m3-127v124m6-128v111m2-108v133m6-130v145m6-150v125m3-117v117m1-118v116m6-119v106m4-104v146m8-149v115m1-113v114m1-114v140m4-139v144m4-145v119m3-121v119m2-122v118m2-113v114m1-121v128m3-119v107m1-108v113m1-111v127m1-128v125m13-126v133m1-140v122m11-115v102m1-103v120" stroke="url(#ca)" stroke-width="0.62" fill="none" vector-effect="non-scaling-stroke" opacity="0.85"/>
<path d="M0 253l1-24 1-54 1 28 1-5 1 65 1-139 1 51 1 20 1 52 1-5 1-44 1-71 1 112 1-43 1-35 1 69 1-21 1-17 1-10 1 32 1-34 1 29 1 35 1-24 1-12 1 18 1 46 1 6 1-36 1 20 1 7 1-27 1 71 1-139 1 64 1-12 1 49 1-80 1 59 1-49 1 59 1 1 1-58 1-12 1 79 1 5 1-52 1-63 1-18 1 71 1 47 1-8 1-49 1 58 1-18 1-55 1 63 1-64 1 11 1-54 1 29 1 55 1-87 1 71 1-36 1 64 1-76 1 18 1 1 1 48 1 36 1-27 1-10 1 9 1-26 1-18 1-15 1 67 1-36 1 14 1-64 1 37 1-34 1 34 1 52 1-53 1 27 1-55 1 34 1 3 1 7 1-32 1 65 1 14 1-9 1-98 1 63 1-22 1 24 1-58 1 73 1-9 1 41 1-117 1 54 1 9 1 47 1-10 1-76 1 51 1 19 1-35 1-19 1 103 1-44 1-50 1 13 1 36 1-62 1 70 1 3 1-18 1 40 1-35 1-6 1-20 1-39 1 46 1 8 1 21 1-20 1-25 1 27 1 4 1-75 1 84 1-58 1-28 1 6 1 19 1 104 1-98 1-12 1 65 1-30 1 38 1-74 1 52 1-30 1 45 1-22 1 23 1-88 1 77 1-28 1 46 1 2 1-88 1-21 1 105 1 5 1 0 1-50 1 34 1-94 1 6 1 64 1-5 1 74 1-105 1 27 1 41 1-53 1 3 1 23 1 51 1-94 1 42 1-11 1-12 1-7 1 19 1 13 1-23 1 22 1 24 1 0 1-38 1 1 1 65 1-105 1-16 1 95 1-65 1-9 1 32 1-10 1 3 1 38 1-52 1-19 1 10 1 83 1-56M0 121l1 123 1-51 1 65 1-68 1 69 1-13 1-35 1 29 1-59 1-30 1 106 1-97 1 55 1 8 1 38 1-1 1-87 1 89 1-51 1 14 1-2 1 43 1-85 1-47 1 108 1 61 1-53 1-84 1 11 1 56 1 1 1 6 1-15 1 26 1-86 1 41 1-8 1 60 1-42 1 20 1 3 1 18 1-4 1-99 1 86 1-31 1-53 1 52 1 47 1-5 1-84 1 13 1 59 1 82 1-161 1 2 1 77 1-2 1 24 1-85 1 44 1 40 1-59 1 2 1-51 1 98 1-43 1 3 1 44 1-5 1 29 1-79 1 23 1-11 1 33 1 2 1-1 1 3 1-20 1-6 1 99 1-84 1-27 1 16 1-82 1 65 1 14 1 6 1-2 1-36 1 41 1-1 1 8 1-28 1-32 1 60 1-71 1 88 1-55 1-3 1 13 1-34 1 88 1 26 1-41 1-25 1 49 1-67 1 5 1-33 1 35 1 53 1-32 1 14 1-27 1 9 1-10 1-12 1 19 1-65 1 52 1 24 1-45 1 3 1 76 1-101 1 12 1 73 1-85 1 33 1 57 1-53 1 33 1 7 1-94 1 36 1 76 1-65 1 10 1 39 1-83 1 100 1-31 1-7 1-82 1 89 1 8 1-31 1-50 1 7 1-7 1 58 1 25 1-85 1 60 1-3 1-4 1 16 1 12 1-56 1 62 1-23 1-21 1 68 1-31 1-64 1 78 1-32 1-19 1-16 1-31 1 26 1 126 1-110 1 63 1-23 1-32 1-10 1 21 1-55 1 60 1-2 1 42 1-53 1 38 1 9 1-77 1 34 1 9 1-39 1-36 1 120 1-100 1 79 1-38 1-42 1 92 1-19 1-36 1 63 1-23 1-41 1 40 1-4M0 150l1-50 1 135 1-28 1 46 1-138 1 93 1-15 1 6 1 79 1-104 1 21 1-39 1 72 1-20 1-66 1 35 1 25 1 37 1-86 1 72 1 27 1-52 1-53 1 21 1 68 1-9 1-58 1 4 1 87 1-21 1-10 1-54 1 89 1-71 1 1 1-14 1 90 1-39 1-11 1-19 1 40 1-30 1 1 1-40 1 85 1-100 1 93 1 60 1-87 1-32 1-7 1-16 1 71 1-20 1 35 1-57 1 0 1 45 1 25 1-51 1-45 1 9 1 56 1 0 1 47 1-57 1 12 1 4 1-20 1 22 1-55 1-17 1 16 1 21 1 43 1-4 1 5 1 18 1-59 1 47 1 3 1-81 1 29 1-14 1-11 1 76 1-63 1 110 1-78 1-71 1 51 1 31 1-36 1-6 1-31 1 60 1 35 1-116 1 104 1-15 1-45 1 97 1-20 1-12 1-44 1-5 1 108 1-51 1-66 1 2 1 11 1-65 1 104 1-14 1-22 1 16 1 8 1-7 1-26 1-13 1 9 1 23 1 42 1-120 1 103 1-3 1-13 1-24 1 8 1 13 1 3 1-74 1 80 1-12 1-31 1 71 1-57 1 37 1-30 1-1 1-38 1 13 1 11 1-27 1 111 1-69 1-19 1 29 1-20 1 3 1 12 1 24 1-38 1 33 1 34 1 8 1-51 1 44 1 12 1-48 1-65 1 63 1-15 1 13 1-42 1 72 1-66 1 62 1-67 1 20 1 23 1-53 1 30 1 15 1 12 1 29 1-39 1 17 1-50 1 26 1 29 1-79 1 76 1-6 1-11 1 49 1-45 1-42 1 94 1-58 1 7 1 28 1-31 1 2 1 17 1-68 1-28 1 3 1 48 1 45 1-40 1 102 1-120 1-23M0 33l1 135 1 1 1 30 1-22 1-47 1 0 1 54 1 34 1-56 1 1 1 8 1 67 1 16 1-39 1-69 1 118 1-5 1-68 1-60 1 80 1-44 1 40 1-14 1 3 1 54 1-42 1-43 1 63 1 39 1-85 1 27 1-6 1 31 1-31 1-22 1 75 1 1 1-19 1-6 1 38 1-119 1 57 1 22 1-62 1 106 1-26 1-12 1 58 1-65 1 33 1-58 1 64 1-51 1 49 1-80 1 54 1-17 1 1 1 48 1-64 1 50 1-88 1 8 1-2 1 6 1 45 1-63 1 77 1 27 1-14 1-96 1 28 1 17 1-56 1 82 1-18 1 7 1-45 1-11 1 88 1 16 1-66 1 65 1-96 1 46 1-51 1 74 1 14 1-51 1 53 1 3 1-72 1 93 1-73 1 40 1 32 1-73 1 21 1-81 1 81 1-10 1 42 1-5 1 6 1-11 1 5 1-42 1-36 1 55 1-74 1 112 1-25 1-51 1-33 1 93 1 1 1-86 1 71 1-71 1 71 1-12 1 10 1-56 1 75 1 16 1-24 1-20 1-33 1 32 1 25 1-4 1-34 1 11 1 14 1-7 1 18 1-50 1-8 1 7 1 41 1 14 1-56 1 41 1-6 1 52 1-131 1 74 1 30 1 17 1-65 1 87 1-25 1-14 1-68 1 89 1-102 1-14 1-6 1 15 1-2 1 21 1 8 1 68 1-20 1-55 1 22 1 21 1-8 1-3 1-12 1 35 1-34 1 38 1-98 1 18 1 19 1 48 1-19 1 47 1-15 1 51 1-99 1-42 1 92 1 21 1-115 1-10 1 29 1 36 1 41 1-42 1 26 1 9 1-67 1 23 1 71 1-51 1 0 1-4 1 0 1 27 1-3 1-8 1-5M0 109l1 55 1 39 1 37 1 8 1-94 1-28 1 56 1 38 1-57 1 44 1-14 1 68 1-15 1 16 1-34 1-15 1 58 1-64 1 11 1-77 1 26 1 26 1-19 1 40 1 33 1-67 1-30 1 76 1-24 1-54 1 87 1 36 1-30 1 28 1-29 1 18 1-91 1 88 1-19 1 23 1-4 1-34 1 13 1-49 1 16 1-27 1 24 1 45 1-41 1 57 1-78 1 57 1-57 1 69 1-13 1 15 1-8 1-73 1 75 1-58 1 33 1-22 1 8 1 20 1-58 1 58 1 20 1-21 1-31 1-13 1 46 1-18 1 19 1 20 1-18 1 11 1 16 1-20 1-45 1 29 1-11 1-37 1 65 1-65 1 75 1-26 1-68 1 51 1 19 1-3 1 33 1 0 1-84 1 76 1-32 1 53 1 2 1-55 1 13 1-20 1 23 1 67 1-93 1-51 1 166 1-168 1 95 1-13 1-30 1 58 1-91 1 16 1 62 1-100 1 64 1-35 1 23 1 33 1 41 1-90 1-39 1 99 1 31 1-127 1 113 1-31 1 21 1-16 1-42 1 76 1-86 1 96 1-28 1 2 1-45 1 61 1-86 1 36 1 2 1-53 1 84 1-76 1 42 1-53 1 41 1 48 1-24 1-27 1 37 1-65 1 55 1 45 1-128 1 47 1 5 1-32 1 100 1-20 1 3 1-15 1 1 1-40 1-13 1-20 1 14 1 4 1 60 1-47 1 14 1 31 1 27 1-103 1 72 1-29 1-26 1 28 1 47 1-70 1 47 1-23 1-5 1 50 1 3 1-11 1-27 1 6 1 10 1 10 1-17 1-25 1 9 1 22 1-5 1 21 1-19 1 27 1-44 1 6 1 27 1-57 1 69 1-45 1-44 1 6M0 215l1-116 1 75 1 2 1 32 1-10 1-25 1-16 1 69 1-37 1-21 1 87 1-60 1-8 1-42 1 83 1-35 1 46 1-46 1 15 1-46 1-16 1 130 1-50 1-14 1-40 1 71 1-6 1-4 1 43 1-77 1 52 1-40 1 52 1 26 1-87 1 9 1 54 1 0 1-107 1 54 1-53 1 92 1-63 1 7 1 4 1 53 1-64 1 16 1 54 1-46 1 50 1 6 1-57 1-16 1 55 1-29 1-21 1-46 1 66 1-75 1 88 1-20 1-24 1-8 1 77 1 1 1-114 1 81 1-70 1-2 1 136 1-95 1 18 1 53 1-40 1-21 1 44 1-5 1-1 1-41 1 46 1-45 1 5 1-15 1 127 1-148 1-21 1 39 1-19 1 34 1 51 1-1 1-63 1 7 1 13 1 68 1-86 1 47 1-12 1 37 1-76 1 101 1-17 1-70 1 56 1-21 1-50 1 76 1-80 1 135 1-132 1 73 1-68 1 98 1-44 1 15 1-78 1 48 1 9 1-43 1 73 1-7 1-15 1 16 1-51 1-38 1 27 1 27 1 29 1 6 1-78 1 63 1-3 1-12 1-15 1 1 1-39 1 11 1 29 1-10 1 3 1-3 1 99 1-133 1 12 1 74 1-42 1 41 1-42 1-12 1-9 1 36 1 11 1-89 1 125 1-96 1 37 1 39 1-81 1 58 1-10 1-1 1 24 1-80 1 14 1 71 1-4 1-86 1 73 1-62 1 85 1-13 1-5 1 16 1-30 1 3 1 25 1-21 1 25 1-19 1-53 1-8 1 58 1-20 1 53 1-110 1 43 1 30 1-15 1-44 1 17 1 69 1-23 1 1 1-48 1 62 1-107 1 50 1 25 1 3 1-12 1 33 1-42 1-3" stroke="url(#wa)" stroke-width="0.3" fill="none" vector-effect="non-scaling-stroke" stroke-linejoin="round" opacity="0.8"/>
<path d="M0 139l1 29 1 35 1 49 1-60 1 22 1 9 1 16 1 20 1-18 1 79 1-86 1-40 1 57 1-82 1 106 1-18 1-25 1 37 1-125 1 9 1 61 1-35 1-41 1 139 1-77 1 64 1-70 1 40 1-83 1 81 1-2 1 4 1-21 1 48 1-84 1 98 1-84 1-28 1 36 1 40 1-68 1 73 1-45 1 15 1-56 1 19 1 50 1 24 1-47 1 48 1 6 1 2 1 4 1-91 1 54 1-36 1-39 1 70 1 53 1-81 1-2 1 86 1-47 1-58 1-26 1 11 1 3 1 101 1-24 1-60 1 46 1-13 1 34 1 28 1-126 1 4 1 88 1-84 1 61 1 11 1-3 1-43 1 17 1 25 1-44 1 81 1-33 1 22 1-67 1 39 1 25 1-16 1-53 1 17 1 16 1 22 1 33 1-67 1 3 1 28 1-45 1 96 1-134 1 91 1 21 1-60 1 57 1-6 1-8 1-5 1-9 1-33 1 16 1-31 1 52 1-12 1-64 1 13 1 36 1-26 1 4 1 66 1-39 1-48 1 124 1-30 1 4 1-42 1 47 1 7 1-36 1 3 1-5 1-6 1 30 1 5 1-12 1-9 1-23 1-24 1 58 1 2 1 9 1-51 1-24 1 58 1-16 1-20 1 37 1 12 1-26 1 5 1-47 1-12 1 39 1-13 1 43 1 31 1 1 1-83 1 1 1 36 1 20 1-58 1-1 1 21 1 23 1-21 1-69 1 86 1 24 1-30 1-71 1 33 1 29 1 8 1-60 1 20 1 27 1 0 1 61 1-34 1-18 1-73 1 6 1 110 1-42 1 9 1-57 1 104 1-63 1 11 1 5 1-8 1 26 1-64 1-24 1 49 1 25 1-1 1-29 1 24 1 17 1-5M0 188l1 53 1-88 1 81 1-23 1-28 1 38 1-89 1 42 1 21 1 36 1-98 1 3 1 138 1-62 1 65 1 17 1-127 1 35 1 61 1-128 1 134 1 14 1-55 1-21 1 20 1-56 1 35 1-59 1 64 1 28 1-101 1 128 1-107 1 32 1 8 1-37 1 87 1-13 1-12 1-21 1 25 1-28 1 34 1 86 1-69 1-43 1 40 1-59 1 50 1 5 1-35 1 53 1 4 1-91 1-22 1 38 1-43 1 127 1-81 1-26 1 118 1-11 1-25 1-4 1-62 1 4 1-26 1 82 1-45 1 32 1-79 1 106 1-75 1 91 1-86 1 27 1 46 1-27 1-70 1 90 1-8 1-6 1 6 1-69 1 69 1-21 1 17 1-47 1 42 1-12 1-49 1 56 1 46 1-116 1 135 1-49 1 6 1-60 1 52 1 8 1-75 1 91 1-51 1-37 1 2 1 14 1 54 1-70 1 46 1 23 1-28 1 41 1-25 1 5 1 19 1-41 1-54 1 14 1 80 1-9 1-45 1-4 1-13 1 69 1 60 1-46 1-57 1 46 1-80 1-16 1 59 1-27 1 12 1-45 1 16 1 41 1 0 1 19 1 3 1-46 1 8 1-15 1 7 1 7 1 42 1 22 1-33 1 12 1 10 1 0 1-4 1-69 1 10 1-5 1 77 1-38 1 41 1-36 1-25 1-19 1 18 1-34 1 52 1-68 1 31 1-43 1 67 1 22 1-13 1 36 1-90 1 106 1-111 1 18 1 13 1 25 1-25 1-21 1 38 1-55 1 146 1-76 1-5 1-9 1 20 1 57 1-84 1 8 1-24 1 47 1-72 1 92 1-23 1 43 1-27 1-74 1 55 1-56 1 49 1-53 1 5 1-6 1 55 1-55M0 234l1-130 1 106 1 1 1-50 1-16 1 41 1-22 1 28 1-36 1 43 1 57 1-75 1 48 1-32 1 74 1-25 1-36 1-25 1 76 1-16 1 14 1-102 1 35 1 26 1-33 1-3 1 18 1-26 1 100 1-12 1-41 1 8 1 35 1-34 1 11 1-95 1 64 1-9 1-45 1 93 1-6 1-45 1-33 1 79 1-41 1 56 1-39 1 13 1-2 1 35 1-79 1 76 1-33 1 27 1-3 1-27 1-38 1 59 1 10 1-76 1 35 1 48 1-5 1 28 1-102 1 17 1 2 1 16 1 33 1-40 1-11 1 29 1 88 1-85 1 15 1 11 1-8 1 0 1-87 1 56 1-67 1 36 1 50 1-3 1 27 1-13 1-68 1 24 1 39 1-63 1 67 1-97 1 59 1-55 1 39 1 72 1-3 1-59 1-21 1 16 1 45 1-53 1 59 1-59 1-9 1 69 1-66 1 81 1-61 1 60 1-22 1 11 1-35 1 78 1-61 1-29 1-56 1 25 1 87 1-5 1-110 1 59 1 14 1-45 1-21 1 89 1 13 1 2 1-66 1 73 1-2 1-19 1-51 1 11 1 13 1 46 1-45 1-9 1-51 1 31 1-12 1 34 1 14 1-47 1-10 1 64 1-51 1 50 1-3 1 22 1-65 1 95 1-35 1-32 1-4 1-23 1 43 1-48 1 33 1-57 1 75 1-2 1 4 1 10 1-23 1-21 1-14 1 27 1-2 1-4 1-21 1-13 1 80 1-1 1-22 1 6 1-56 1 21 1 66 1-15 1-89 1 86 1-67 1 70 1-64 1 75 1-6 1-103 1-3 1 79 1-25 1 54 1 13 1-123 1 107 1-24 1-17 1 18 1 10 1-59 1 2 1 61 1-28 1-68M0 296l1-86 1-42 1 58 1-39 1-53 1 110 1-103 1 154 1-95 1 19 1-13 1-1 1 59 1 24 1-1 1-63 1 31 1-21 1-65 1 20 1 76 1-54 1 21 1 13 1-76 1 53 1-54 1 52 1-50 1 68 1-34 1 27 1-22 1 111 1-117 1-9 1 77 1-51 1-53 1 26 1 54 1-27 1-6 1 8 1 24 1 74 1-157 1 90 1-27 1 6 1-22 1 6 1-13 1 113 1-107 1 33 1-45 1-51 1 43 1-9 1 11 1 28 1 12 1 17 1 35 1-50 1 15 1-23 1 18 1 8 1 6 1-51 1 35 1 12 1 1 1-7 1-11 1-53 1-38 1 38 1 61 1-68 1 72 1-57 1-10 1 73 1-90 1 85 1-18 1-39 1-5 1 67 1-57 1 38 1 0 1-80 1 39 1 44 1-65 1 80 1-12 1 38 1-15 1-55 1 52 1-37 1-65 1 76 1-78 1 64 1-3 1 24 1-31 1 6 1 17 1 27 1-81 1-19 1 18 1 79 1-12 1-100 1 46 1 60 1-69 1 30 1-1 1 107 1-99 1 7 1 29 1-40 1 36 1-28 1-7 1-18 1 9 1 74 1-56 1-51 1-5 1 64 1-8 1-9 1 35 1-86 1-7 1 36 1 2 1 42 1 78 1-76 1 3 1 1 1-25 1 39 1-1 1 17 1-1 1-60 1-45 1 23 1 31 1-39 1 60 1-53 1 18 1-5 1 67 1-62 1 29 1 27 1-13 1-17 1 14 1-32 1-23 1-13 1 62 1-57 1 134 1-59 1-6 1-68 1-28 1 104 1-39 1-8 1 1 1 24 1 0 1-11 1-19 1-3 1-49 1 66 1-19 1-15 1 40 1 10 1-32 1 35 1-21 1-28M0 59l1 38 1 51 1-51 1 43 1 52 1-74 1 140 1-8 1-10 1-63 1 47 1-60 1 117 1-47 1-22 1-3 1-8 1 60 1-35 1-68 1-5 1 107 1-80 1 43 1-3 1-27 1 79 1-30 1 43 1-57 1 23 1-11 1 6 1-50 1 54 1-10 1-52 1 29 1-22 1 111 1-153 1 24 1 90 1-85 1 5 1 79 1-17 1-29 1-39 1 5 1-7 1-45 1 8 1 84 1-7 1-50 1-22 1 32 1-13 1-10 1 35 1 3 1-31 1 51 1-63 1 63 1-55 1 79 1 21 1-77 1 9 1 129 1-106 1-57 1 94 1-98 1 80 1-53 1 75 1-84 1 55 1-12 1 1 1 31 1-25 1 21 1-36 1-37 1 4 1 55 1-15 1 10 1 8 1 4 1-7 1 55 1-90 1-7 1 5 1-38 1 107 1 22 1 19 1-91 1 40 1-5 1-58 1 43 1-74 1 94 1-46 1 53 1 11 1-17 1 3 1-9 1-68 1-6 1 32 1 94 1-52 1-80 1 112 1-92 1 106 1-54 1 38 1-110 1 64 1-2 1-47 1 64 1-34 1 47 1 7 1-72 1 9 1-8 1 53 1-4 1-4 1-100 1 94 1-76 1 139 1-34 1-57 1-1 1-33 1 52 1 8 1 28 1-85 1 49 1 35 1 11 1-116 1 73 1-15 1 19 1-5 1-13 1 53 1-35 1-22 1 54 1-38 1 20 1 5 1-74 1 27 1-19 1 90 1-64 1 45 1-12 1 13 1-72 1 30 1 32 1 5 1 14 1-13 1 17 1-21 1-41 1-30 1 41 1 24 1 30 1-83 1 4 1 64 1-43 1 63 1-34 1-90 1 30 1 67 1-78 1 95 1-19 1-84 1 56M0 145l1-34 1 111 1 46 1-37 1-96 1 21 1 36 1 69 1-94 1 17 1-48 1 48 1 81 1-27 1 20 1 62 1-160 1 25 1 11 1-57 1 0 1 135 1-26 1-33 1 35 1-70 1 31 1 28 1-48 1 46 1-18 1 55 1-26 1-41 1 15 1-12 1 12 1-1 1-11 1-69 1 27 1 15 1 80 1-8 1-15 1 33 1-35 1-11 1-34 1-15 1-27 1 119 1-76 1 95 1-139 1 80 1 32 1-110 1 128 1-40 1-45 1 82 1-33 1-56 1 88 1-92 1 87 1-13 1-23 1-17 1-12 1-32 1 28 1-27 1 41 1 10 1 26 1-17 1-17 1 55 1-65 1-40 1 98 1-91 1-15 1 29 1 54 1-3 1-70 1 66 1 14 1 4 1-22 1 30 1-55 1-51 1 23 1 9 1-32 1 119 1-15 1 27 1-24 1-55 1-13 1 28 1 97 1-67 1-56 1 53 1-82 1 24 1 57 1 30 1-45 1-9 1 28 1-25 1-25 1-25 1 35 1 103 1-131 1 77 1 5 1-91 1-30 1 15 1 61 1-25 1 45 1 18 1-59 1 27 1 15 1 4 1-74 1 19 1-7 1 36 1 30 1-36 1-53 1 43 1 4 1 8 1 40 1 5 1-31 1 9 1-89 1 90 1-13 1 21 1-24 1-4 1 41 1-85 1 113 1-45 1 10 1 25 1-71 1 46 1-12 1-12 1-57 1 41 1 22 1-61 1 23 1 10 1-18 1-3 1 19 1-28 1 24 1-3 1-4 1-13 1 99 1-45 1-46 1 72 1-63 1 46 1-78 1 54 1 55 1-41 1-10 1-47 1-26 1 12 1-5 1 49 1-19 1 80 1-111 1-14 1 18 1-14 1 71 1-14" stroke="url(#ca)" stroke-width="0.3" fill="none" vector-effect="non-scaling-stroke" stroke-linejoin="round" opacity="0.8"/>
<path d="M10 255v65M179 276v35M197 248v64M122 253v54M194 247v69M115 255v50M109 243v58M94 272v48M143 252v68M71 284v29M41 264v52M168 261v56M66 261v41M18 260v60M99 256v16M152 278v12M179 262v57M201 266v35M70 248v70M107 266v53M133 242v78M107 263v44M125 288v24" stroke="#2effd1" stroke-width="0.45" fill="none" vector-effect="non-scaling-stroke" opacity="0.75"/>
<path d="M0 16L1.27 65.18L2.55 248L0 248Z" fill="url(#wa)" opacity="0.85"/>
<path d="M0 0L1.11 20L1.75 48L2.39 76L3.18 100L4.14 116L4.14 148L0 148Z" fill="url(#ga)"/>
<path d="M98.29 156.2L99.09 144L99.88 156.2ZM114.03 156.47L114.82 124L115.62 156.47Z" fill="url(#sa)"/>
<path d="M99.09 128V156.2M114.82 108V156.47" stroke="url(#sa)" stroke-width="0.7" vector-effect="non-scaling-stroke" fill="none"/>
</g></g>
<path d="M17.2 8.4H145.4V108.6" stroke="#d2d2d6" stroke-width="0.5" fill="none"/>
<path d="M17.2 8.4V108.6H145.4" stroke="#b4b4bc" stroke-width="0.55" fill="none"/>
<text x="16" y="10.3" font-size="4.3" text-anchor="end">0</text>
<text x="16" y="22.82" font-size="4.3" text-anchor="end">-10</text>
<text x="16" y="35.35" font-size="4.3" text-anchor="end">-20</text>
<text x="16" y="47.87" font-size="4.3" text-anchor="end">-30</text>
<text x="16" y="60.4" font-size="4.3" text-anchor="end">-40</text>
<text x="16" y="72.93" font-size="4.3" text-anchor="end">-50</text>
<text x="16" y="85.45" font-size="4.3" text-anchor="end">-60</text>
<text x="16" y="97.98" font-size="4.3" text-anchor="end">-70</text>
<text x="16" y="110.5" font-size="4.3" text-anchor="end">-80</text>
<text x="35.51" y="115" font-size="4.4" text-anchor="middle">50</text>
<text x="53.83" y="115" font-size="4.4" text-anchor="middle">100</text>
<text x="72.14" y="115" font-size="4.4" text-anchor="middle">150</text>
<text x="90.46" y="115" font-size="4.4" text-anchor="middle">200</text>
<text x="108.77" y="115" font-size="4.4" text-anchor="middle">250</text>
<text x="127.09" y="115" font-size="4.4" text-anchor="middle">300</text>
<text x="145.4" y="115" font-size="4.4" text-anchor="middle">350</text>
<text x="81.7" y="120.5" font-size="5" text-anchor="middle">Range cell</text>
<text transform="translate(7.8 58.5) rotate(-90)" font-size="4.85" text-anchor="middle">Normalized received power/dB</text>
<text x="78.3" y="134.9" font-size="8.2" text-anchor="middle" fill="#555">(<tspan font-weight="bold" fill="#222">a</tspan>)</text>
<path d="M223.41 8.5V108.8M239.32 8.5V108.8M255.24 8.5V108.8M271.15 8.5V108.8M287.06 8.5V108.8M302.98 8.5V108.8M318.89 8.5V108.8M207.5 96.26H334.8M207.5 83.72H334.8M207.5 71.19H334.8M207.5 58.65H334.8M207.5 46.11H334.8M207.5 33.58H334.8M207.5 21.04H334.8" stroke="#ebebeb" stroke-width="0.5" fill="none"/>
<g filter="url(#bl)"><g transform="translate(207.5 8.5) scale(0.63020 0.31344)">
<path d="M0 118L1 132L2 123L3 118L4 129L5 127L6 117L7 113L8 131L9 132L10 131L11 129L12 114L13 131L14 122L15 123L16 120L17 122L18 113L19 131L20 115L21 134L22 114L23 121L24 116L25 131L26 118L27 128L28 128L29 128L30 120L31 129L32 122L33 130L34 114L35 114L36 117L37 120L38 131L39 122L40 113L41 126L42 125L43 121L44 128L45 124L46 113L47 123L48 123L49 122L50 119L51 125L52 130L53 120L54 130L55 116L56 126L57 117L58 127L59 122L60 127L61 129L62 122L63 129L64 121L65 124L66 116L67 124L68 131L69 119L70 125L71 114L72 126L73 119L74 125L75 122L76 127L77 114L78 120L79 118L80 106L81 115L82 120L83 116L84 108L85 110L86 104L87 109L88 106L89 96L90 104L91 105L92 97L93 96L94 87L95 77L96 85L97 82L98 75L99 74L100 58L101 59L102 56L103 73L104 69L105 71L106 86L107 86L108 91L109 96L110 99L111 106L112 105L113 107L114 98L115 95L116 112L117 107L118 114L119 116L120 116L121 114L122 118L123 117L124 120L125 109L126 117L127 121L128 123L129 120L130 121L131 115L132 130L133 131L134 121L135 122L136 117L137 127L138 127L139 123L140 129L141 129L142 114L143 114L144 127L145 122L146 130L147 119L148 122L149 118L150 130L151 130L152 127L153 133L154 127L155 120L156 123L157 130L158 122L159 122L160 128L161 129L162 131L163 127L164 117L165 120L166 129L167 122L168 128L169 116L170 124L171 128L172 127L173 128L174 128L175 127L176 132L177 127L178 122L179 127L180 124L181 123L182 128L183 127L184 114L185 131L186 116L187 128L188 122L189 126L190 126L191 124L192 128L193 130L194 126L195 118L196 126L197 131L198 124L199 113L200 124L201 121L202 126L202 256L0 256Z" fill="url(#gb)" opacity="0.5"/>
<path d="M0 275v31m1-38v9m1 13v5m1-17v42m2-46v8m1-17v25m1-22v7m1 10v9m1-29v24m1-25v10m1-5v51m1-50v11m1 3v6m1-23v1m1 2v24m1-27v22m1-2v7m1-32v4m1 20v24m1-52v3m1 29v30m1-46v10m1-11v9m2-13v22m1-32v18m1-9v52m1-39v3m1-14v6m1 17v21m1-41v47m1-56v5m1-5v22m1-9v16m1-18v5m1-20v5m1 31v22m1-59v61m1-56v2m1 12v8m1 0v30m1-50v9m1 8v16m1-25v16m1-12v42m1-54v26m1-20v40m1-48v16m1-17v2m1 22v33m1-33v28m1-56v9m1 12v40m1-41v38m1-42v8m1-15v12m1-11v28m1-10v24m1-52v15m1 20v7m1-27v40m1-25v5m1-19v24m1-28v39m1-49v3m1-8v15m1-12v22m1 7v14m1-41v44m1-32v7m1-17v57m1-41v2m1 2v37m1-47v11m1-7v23m1-41v26m1 6v18m1-29v8m1-14v46m1-55v16m1-8v47m1-50v10m1-16v17m1 2v37m1-41v35m1-55v8m1-2v9m1 5v28m1-32v19m1-18v28m1-36v52m1-43v5m1-10v9m1-15v54m1-46v13m1-24v24m1-25v58m1-46v4m1-15v53m1-21v25m1-61v5m1 4v3m1-13v18m1-19v16m1 15v2m1-28v21m1-12v17m1-21v5m1-7v42m1-40v53m1-64v3m1 19v9m1-9v15m1 1v2m1-41v20m1-2v7m1 11v11m1-32v17m1-16v49m1-47v7m1-6v5m1 14v27m1-57v29m1-19v31m1-42v58m1-56v56m1-41v5m1-4v8m1-19v11m1-1v14m1-23v50m1-45v45m1-46v5m1 10v17m1-38v19m1-23v26m1-18v25m1-28v51m1-42v28m2-47v37m1-1v25m1-39v39m1-45v14m1-11v13m1-26v11m1-14v15m1-12v32m1-17v20m1-32v38m1-20v19m1-35v38m1-21v5m1-3v4m1-19v1m1 3v42m1-40v3m1-14v23m1-18v46m1-43v9m1-16v15m1-13v4m1-14v58m1-59v10m1 40v9m1-49v32m1-40v45m1-33v45m1-42v8m1 2v4m1 2v26m1-43v23m1-17v37m1-40v11m1-28v43m1-32v46m1-39v4m1-5v3m1-10v47m1-48v10m1-1v23m1-49v8m1 23v18m1-23v5m1-8v6m1 1v20m1-28v43m1-48v27m1 4v11m1-32v38m1-39v1m1 5v9m1-28v7m1 6v18m1-32v48m1-41v46m1-57v32m1-11v17m1-35v51m1-50v53m1-52v13m1-5v7" stroke="url(#gb)" stroke-width="0.45" fill="none" vector-effect="non-scaling-stroke" opacity="0.65"/>
<path d="M1 137v131m7-132v149m2-150v129m2-145v151m4-146v143m1-141v161m9-164v136m9-140v156m4-149v138m3-134v136m4-149v149m1-138v144m3-148v163m1-158v158m2-162v155m5-149v156m1-160v132m2-125v140m6-145v130m2-135v137m2-142v144m1-132v148m3-152v150m1-146v128m1-140v172m1-166v155m2-169v154m2-140v145m1-149v143m3-155v150m2-148v168m1-178v174m1-166v167m1-166v158m2-167v171m2-190v192m6-210v195m2-181v180m3-167v171m5-151v145m6-144v179m4-172v155m4-160v148m8-127v139m3-152v142m5-130v125m1-140v176m3-168v151m2-154v138m6-124v149m1-155v157m9-157v130m5-129v142m1-154v157m3-146v145m3-146v132m2-132v150m3-152v143m4-153v162m13-145v127m3-134v138" stroke="url(#gb)" stroke-width="0.62" fill="none" vector-effect="non-scaling-stroke" opacity="0.85"/>
<path d="M0 123v152m4-141v134m1-136v142m4-137v128m2-131v135m3-142v140m6-147v138m4-137v145m1-130v133m2-136v135m5-141v137m2-145v158m2-155v138m7-134v157m5-155v136m7-143v154m2-153v147m8-140v132m1-140v135m4-126v143m4-143v143m5-150v151m2-154v153m6-160v152m12-186v184m1-200v232m2-234v207m5-178v181m2-170v164m3-156v169m1-166v166m11-153v148m4-145v152m2-154v153m1-159v150m3-144v163m3-157v140m2-144v150m4-159v162m8-146v151m7-159v142m4-133v136m2-150v139m1-136v186m5-183v160m6-151v137m2-147v153m1-148v141m2-145v153m2-149v154m3-165v164m2-159v146m1-141v172" stroke="url(#gb)" stroke-width="0.62" fill="none" vector-effect="non-scaling-stroke" opacity="1.0"/>
<path d="M2 128v162m5-173v151m6-133v149m6-148v150m3-167v155m1-148v147m5-140v148m5-146v129m4-139v171m1-160v123m6-127v142m1-145v149m11-147v137m4-136v162m4-168v145m21-156v164m11-189v173m1-176v175m1-182v194m6-200v183m4-161v171m6-165v192m2-178v157m2-154v151m1-149v150m4-149v141m3-141v142m1-138v153m2-154v144m6-143v142m3-136v137m8-134v130m3-143v158m6-155v149m1-146v150m3-151v147m2-140v136m5-136v137m1-144v136m4-130v161m11-161v122m3-119v142m6-149v152m3-151v151m1-158v144m1-136v143" stroke="url(#wb)" stroke-width="0.62" fill="none" vector-effect="non-scaling-stroke" opacity="0.9"/>
<path d="M3 123v155m3-156v143m9-137v142m3-153v145m3-123v151m8-158v138m1-145v168m1-159v139m9-156v161m1-147v155m8-160v137m3-128v124m2-124v144m8-153v163m1-155v141m5-139v152m5-165v160m11-170v170m8-181v175m2-185v174m11-190v212m5-185v164m5-167v155m5-134v152m2-150v170m10-158v140m8-142v146m4-147v143m4-148v138m2-131v134m2-137v139m5-136v146m3-148v145m13-144v150m1-150v147m13-147v144m3-146v151m2-149v154m1-152v133m5-140v156m1-167v149m2-140v142m1-138v146" stroke="url(#cb)" stroke-width="0.62" fill="none" vector-effect="non-scaling-stroke" opacity="0.9"/>
<path d="M0 213l1-52 1 10 1 32 1 52 1-111 1 84 1 24 1-88 1 81 1-15 1 14 1-114 1 75 1 34 1-67 1 42 1 37 1-53 1 32 1-107 1 43 1 34 1-13 1 94 1-48 1 4 1-55 1 76 1 9 1-103 1 89 1-74 1-44 1 74 1 62 1-23 1-33 1-49 1 30 1 53 1-93 1 51 1-42 1 73 1-9 1 13 1-62 1 28 1-76 1 116 1-37 1-41 1 23 1 77 1-108 1 57 1-53 1 116 1-131 1-13 1 24 1 124 1-86 1 51 1-97 1 17 1 84 1-36 1-67 1 94 1-5 1 7 1-59 1 70 1-114 1 89 1 9 1-28 1-7 1 16 1 57 1-48 1 27 1 6 1-9 1 2 1-120 1 109 1-34 1 55 1-95 1 63 1-19 1-43 1 68 1-1 1-15 1-2 1-93 1 65 1 17 1 16 1 16 1-173 1 111 1 61 1-49 1-60 1-18 1 105 1-76 1 56 1-2 1-3 1-15 1 42 1 31 1 0 1-44 1 54 1-136 1 23 1-26 1 52 1 71 1 11 1-72 1-33 1 11 1-17 1 13 1 18 1-1 1 38 1-81 1 30 1-36 1 106 1 13 1 28 1-34 1 29 1-95 1 81 1-68 1 42 1-35 1 18 1 45 1-93 1 108 1-3 1-106 1 58 1 44 1-111 1 1 1-18 1 110 1-65 1 43 1-10 1-29 1-26 1 75 1-7 1-52 1 76 1-35 1-60 1 92 1-52 1 39 1 16 1-117 1 70 1 2 1-35 1 0 1 13 1-24 1-18 1 44 1-8 1 58 1 16 1-55 1 28 1-36 1 29 1-26 1-14 1 12 1 69 1-30 1-63 1 83 1-5 1 13 1-92 1 52 1 18M0 128l1 62 1 65 1-21 1-64 1 70 1-21 1-63 1 100 1-1 1-3 1-11 1-19 1 61 1-116 1 65 1-29 1-77 1 153 1-40 1-88 1 94 1-85 1 95 1-77 1 123 1-79 1-29 1-9 1 77 1-96 1 98 1-39 1 7 1-14 1-9 1 52 1-98 1 89 1-111 1-13 1 145 1-76 1 23 1-62 1 84 1-105 1 71 1-36 1 88 1 22 1-48 1-31 1 77 1-10 1-48 1-76 1 30 1 76 1-11 1 33 1-3 1-92 1 98 1-75 1 8 1-75 1 71 1 30 1-11 1-11 1-60 1 114 1-92 1 95 1-81 1 48 1-53 1 68 1-48 1-63 1 78 1-73 1 93 1-77 1 104 1-102 1-24 1 98 1-69 1 53 1 37 1-61 1 71 1-51 1 5 1-123 1 147 1 10 1-160 1 138 1-131 1 150 1-29 1-145 1 178 1-52 1 15 1-82 1 122 1-50 1 19 1-23 1 15 1-17 1-107 1 88 1 104 1-61 1-102 1 143 1-29 1 9 1-92 1 103 1-107 1 108 1-134 1 177 1-125 1 61 1 28 1-46 1 22 1-64 1 69 1-87 1 53 1-46 1 0 1-12 1 23 1-15 1-17 1 114 1-47 1 37 1-15 1-70 1 84 1-1 1-90 1 105 1-103 1 98 1-9 1-19 1 6 1-6 1 27 1-45 1-27 1 8 1-42 1-14 1 52 1 23 1 42 1-21 1 17 1 3 1-22 1-34 1-31 1 4 1 28 1 37 1 82 1-88 1-80 1 110 1-64 1-24 1-21 1 111 1-50 1-36 1 14 1 58 1 30 1-7 1-70 1 13 1-43 1 18 1 66 1 2 1-14 1 22 1-59 1-19 1-53 1 113M0 184l1 56 1-40 1 10 1 40 1-2 1-5 1-25 1-51 1-11 1 95 1 66 1-89 1-20 1-38 1 7 1 80 1-54 1 27 1 49 1-30 1 29 1-89 1-4 1 50 1-80 1 27 1 8 1 72 1 7 1-14 1-20 1-62 1 28 1 19 1 0 1 16 1-5 1 17 1 13 1-97 1 75 1 13 1-79 1 38 1 32 1-95 1 4 1 70 1-22 1 64 1-103 1 16 1 41 1 38 1-42 1 19 1-55 1 48 1-34 1 93 1-55 1-1 1 40 1-109 1 32 1 58 1 6 1-51 1 39 1 76 1-135 1-31 1 24 1 95 1-17 1-104 1 122 1-91 1 31 1 13 1-51 1 28 1-52 1 22 1 15 1 58 1-54 1-74 1 150 1-104 1 23 1 2 1 43 1 37 1-67 1 41 1-89 1 78 1-31 1-66 1 118 1-114 1 163 1-115 1 97 1-50 1-63 1-14 1 52 1-9 1 45 1-101 1 121 1-45 1-55 1-11 1 14 1 16 1 74 1-23 1-17 1-6 1-54 1 11 1-31 1 67 1 14 1-55 1-13 1 28 1 38 1 28 1-21 1-24 1-5 1 55 1-32 1 18 1-66 1 22 1-11 1-7 1 104 1-84 1 66 1-103 1-13 1 108 1 67 1-79 1 2 1-72 1 73 1-60 1 42 1 25 1-82 1 60 1 15 1-48 1-5 1 33 1 6 1 44 1-10 1-81 1 65 1-117 1 28 1 79 1 39 1-119 1 41 1-37 1 11 1 16 1 99 1-40 1-27 1 17 1 17 1-32 1-1 1-63 1 116 1-114 1 115 1-88 1-49 1 64 1-20 1 72 1-1 1-26 1-44 1 84 1-83 1 25 1 46 1-1 1 13 1 29M0 136l1 62 1 23 1-51 1 31 1-8 1-66 1 140 1-37 1-7 1-10 1 47 1-35 1-15 1-28 1-5 1 73 1 26 1-32 1-87 1 97 1-3 1-71 1 18 1 29 1 13 1-77 1 13 1 71 1-69 1 29 1-3 1 41 1-31 1 21 1-49 1 30 1 66 1-79 1 8 1-7 1-23 1 82 1-10 1 4 1-26 1-54 1-45 1 174 1-46 1-81 1 59 1-69 1 86 1-34 1-1 1-29 1-42 1 119 1-12 1 0 1-39 1-34 1 66 1-8 1-20 1-80 1 64 1 49 1-23 1-70 1 6 1 57 1 27 1-24 1 49 1-65 1 78 1-113 1 63 1-86 1 14 1 95 1-11 1-110 1 25 1-14 1-14 1 133 1-48 1-42 1 38 1 101 1-79 1-5 1-135 1 114 1-44 1-29 1 83 1-72 1-10 1 24 1-49 1 130 1-160 1 135 1 8 1-4 1-4 1-20 1-28 1 145 1-106 1-48 1 22 1 18 1-57 1 74 1 41 1-25 1-3 1-79 1 77 1 22 1-33 1-14 1 32 1-63 1-21 1-3 1-14 1 120 1 0 1-44 1-25 1-9 1-11 1 60 1-32 1-47 1 34 1 83 1-88 1 68 1-62 1 30 1-12 1-18 1 76 1-7 1 13 1-107 1 56 1-45 1 48 1-24 1 75 1-82 1-54 1 117 1 8 1-12 1-18 1 22 1 0 1-73 1 42 1 41 1-72 1 41 1 25 1-104 1 81 1-72 1-13 1 109 1 5 1-122 1 72 1-79 1 80 1-42 1 30 1 7 1 54 1-60 1 59 1-66 1 7 1 34 1-107 1 37 1-10 1 81 1-14 1-51 1 25 1 15 1-45 1 34 1 42 1-64M0 205l1-17 1-29 1 60 1-16 1 50 1-17 1-37 1-54 1 119 1-29 1 15 1-9 1-13 1 10 1 8 1-11 1 33 1-29 1-103 1 80 1-61 1 32 1 72 1-29 1-53 1 45 1 44 1-33 1-41 1-23 1-7 1-16 1 117 1-67 1 0 1 26 1-47 1 46 1-40 1 12 1 93 1-60 1-58 1-25 1 132 1-98 1 77 1-116 1 90 1 13 1-30 1 39 1-31 1 49 1-88 1 52 1 88 1-64 1-121 1 78 1 66 1-118 1 40 1 35 1 8 1-9 1-3 1 46 1-116 1 17 1-40 1 56 1 6 1 47 1-50 1-70 1 174 1-50 1-86 1-54 1 139 1-107 1-15 1 144 1-28 1-45 1-66 1 76 1-39 1 41 1-103 1 115 1 3 1-15 1 6 1-8 1 30 1 35 1-121 1 135 1-69 1-150 1 107 1 25 1 53 1-77 1 15 1-17 1-21 1 88 1-68 1 74 1 22 1 23 1-43 1-125 1 130 1 6 1-15 1-9 1-38 1 11 1-34 1 67 1-124 1 75 1 23 1-32 1 10 1 41 1-59 1 40 1 24 1-92 1 115 1-20 1-87 1 39 1 64 1-22 1-92 1 3 1 71 1-86 1 100 1 13 1 3 1-9 1-105 1 92 1-19 1 54 1-2 1-33 1-63 1 64 1-32 1-3 1 75 1-74 1 15 1-10 1-29 1-42 1 65 1-18 1-7 1 7 1 62 1-29 1 2 1-73 1 2 1 137 1-26 1 9 1-43 1 44 1-27 1-72 1 67 1-16 1-23 1 43 1 79 1-150 1-2 1 70 1 41 1-30 1-11 1 14 1-28 1-11 1-54 1 68 1 43 1-12 1-101 1 78 1-60 1 65M0 134l1 112 1 4 1-104 1 41 1 3 1 4 1-67 1 50 1 86 1-25 1 13 1 13 1-47 1-13 1 28 1-74 1 60 1 31 1-31 1-88 1 50 1 62 1 29 1-86 1 46 1 28 1-18 1-104 1 16 1 93 1-24 1-3 1-75 1 59 1 16 1-45 1 49 1-14 1-10 1-35 1 115 1-21 1-47 1-13 1 48 1-14 1 24 1-95 1 28 1 78 1-49 1-27 1 49 1 7 1-79 1 0 1-18 1 33 1-24 1 72 1-64 1-16 1 118 1-57 1-26 1-53 1 71 1 37 1-6 1 23 1 62 1-178 1 16 1 47 1 34 1 18 1 27 1-12 1-22 1-39 1-39 1 82 1-74 1 56 1 13 1-45 1 7 1 40 1-90 1 100 1-25 1-5 1 35 1-36 1 19 1-79 1-16 1-56 1 145 1 31 1-92 1 74 1-99 1 95 1-57 1-2 1-74 1 7 1 118 1-89 1-29 1 24 1 122 1-20 1-91 1 60 1-20 1 47 1 18 1-104 1-13 1 41 1 62 1-71 1 3 1 45 1 39 1-79 1-12 1 65 1 20 1-28 1-33 1 69 1-25 1-81 1 44 1-53 1 70 1-2 1-3 1 68 1-95 1 62 1-92 1-7 1 99 1-123 1 103 1 32 1-53 1-43 1-16 1 24 1 14 1 42 1-16 1-92 1 52 1 78 1-10 1-32 1-47 1-47 1 63 1 37 1-24 1-41 1 81 1 83 1-82 1 9 1-60 1 47 1 16 1-89 1 100 1-127 1 10 1 74 1 9 1-33 1 65 1-63 1-3 1-12 1-34 1 75 1 43 1-35 1-20 1 59 1-73 1 83 1-23 1-92 1 90 1-1 1-27 1-67 1 94 1-58" stroke="url(#wb)" stroke-width="0.3" fill="none" vector-effect="non-scaling-stroke" stroke-linejoin="round" opacity="0.8"/>
<path d="M0 182l1 87 1-55 1 1 1 0 1-5 1-52 1 47 1-8 1 66 1-95 1 51 1 10 1 13 1 4 1-79 1 35 1 11 1-91 1 150 1-22 1 36 1-82 1-25 1 60 1-47 1 53 1 39 1-127 1 40 1 68 1-34 1-41 1 58 1-118 1 143 1-53 1-35 1 38 1-67 1 98 1 38 1-49 1-2 1 79 1-112 1 45 1-59 1 0 1 5 1 39 1-29 1 7 1 3 1 57 1-54 1 29 1-72 1 12 1-28 1 68 1 22 1-29 1 18 1-103 1 44 1 69 1-10 1-39 1 42 1 3 1 7 1-37 1 17 1-87 1 28 1 58 1 24 1-109 1-15 1 74 1-1 1 26 1-100 1 40 1-10 1 34 1 32 1 36 1-130 1-27 1 152 1-163 1 155 1-143 1 160 1-38 1-20 1-22 1 16 1-118 1 97 1 121 1-119 1-23 1 47 1-92 1 25 1 65 1 14 1-44 1 38 1 19 1-22 1-37 1-26 1 2 1-1 1 24 1 84 1-30 1-9 1 40 1-120 1-12 1 51 1 27 1 9 1 44 1 9 1-58 1-31 1 74 1-44 1-29 1-31 1 22 1 79 1 16 1-5 1-35 1 14 1-30 1 30 1-38 1 70 1-107 1-10 1 96 1 9 1-59 1 42 1-63 1-10 1 44 1 28 1 16 1-87 1 96 1-103 1 26 1 63 1-14 1-9 1-22 1-36 1 90 1-112 1 67 1-31 1-59 1 87 1 49 1 14 1-5 1-90 1 62 1 34 1-68 1 23 1-30 1 17 1-31 1 95 1-82 1 39 1-8 1-68 1 20 1 34 1 19 1 16 1-30 1 9 1 39 1-17 1-78 1 86 1-47 1-23 1 53 1 46 1-69M0 136l1 115 1-5 1-69 1 86 1-49 1-58 1 53 1-46 1 98 1-41 1 50 1-41 1 27 1-57 1-72 1 58 1 33 1-93 1 80 1 25 1 43 1-58 1-5 1 36 1-82 1 39 1 117 1-111 1 26 1-19 1 52 1-22 1-80 1 90 1-96 1 40 1 57 1-62 1 55 1-80 1 59 1 28 1 14 1-112 1 82 1-26 1 15 1-1 1 12 1-17 1-70 1 28 1 92 1-120 1-20 1 72 1 18 1 32 1-19 1 26 1 7 1 2 1-69 1-42 1 27 1-50 1 88 1 30 1-1 1-25 1-38 1 63 1 6 1-56 1-67 1 65 1 31 1 42 1-152 1 108 1-50 1 18 1-32 1-24 1 122 1-39 1 8 1-97 1 84 1-19 1-10 1 28 1-90 1 101 1 10 1-40 1-20 1 101 1-82 1 54 1-152 1 75 1-6 1-44 1 48 1 44 1 17 1-72 1-30 1 50 1 59 1-29 1 51 1-112 1 82 1-80 1 105 1-124 1 98 1-20 1-72 1 104 1-91 1 94 1-47 1 29 1 36 1-64 1-26 1 87 1-70 1-62 1 115 1-91 1 55 1-11 1-9 1 50 1-85 1 71 1 19 1 13 1-16 1-75 1-31 1 99 1 15 1-102 1 36 1 82 1-92 1 8 1 17 1 7 1 52 1-28 1-57 1 25 1 57 1-52 1 9 1 77 1-47 1-32 1 51 1-53 1-14 1 36 1-34 1-34 1 72 1-36 1 61 1-33 1-5 1-51 1 63 1 21 1-49 1-12 1-8 1 20 1-6 1-73 1 77 1 66 1-28 1-44 1-27 1 93 1-14 1 9 1-3 1-52 1-79 1 147 1-60 1 3 1 8 1-52 1 67 1 6M0 222l1 11 1-39 1-68 1 86 1 11 1-53 1 88 1-90 1 27 1 61 1-48 1 4 1 41 1-30 1 39 1-33 1 26 1-96 1 84 1-48 1 80 1-50 1-38 1-15 1 67 1-71 1 59 1 44 1-9 1-98 1-6 1 67 1 5 1-28 1 23 1-13 1 72 1-115 1 67 1-5 1-32 1-25 1 41 1 34 1-7 1-52 1 82 1-11 1-5 1-81 1 58 1-33 1-18 1 72 1 14 1-97 1 46 1 40 1 0 1 12 1-19 1-90 1 84 1 24 1-94 1 3 1-6 1-8 1 42 1 43 1-12 1-28 1 23 1-23 1-21 1 4 1 60 1 24 1-82 1 60 1-2 1 4 1-28 1-30 1 70 1-67 1 22 1-94 1 35 1 27 1 60 1 25 1-147 1 12 1 107 1-26 1-77 1 15 1-52 1 186 1-73 1-132 1 167 1-105 1 27 1 37 1 37 1-94 1 66 1-110 1 122 1 22 1-79 1 40 1-3 1-7 1 82 1-33 1-47 1-2 1-24 1 24 1 33 1-12 1-10 1-69 1 56 1-74 1 53 1 53 1-14 1-58 1 76 1-78 1 31 1 53 1 24 1-47 1 52 1-67 1-34 1-25 1 72 1-76 1 14 1 100 1-26 1-47 1 42 1 16 1-66 1 113 1-11 1-76 1 52 1 19 1-43 1 23 1-46 1 40 1-34 1-58 1 21 1 24 1-18 1 66 1 5 1-77 1-2 1 41 1 55 1-51 1 11 1-71 1-10 1 42 1-33 1 88 1 17 1-73 1 72 1-51 1-42 1 56 1 35 1-84 1 35 1-32 1 74 1-64 1 19 1 13 1 11 1 41 1-17 1-61 1 12 1-72 1 49 1 13 1 39 1 22M0 200l1 77 1-36 1-86 1-11 1 76 1 20 1-59 1 47 1 92 1-142 1 61 1 24 1-68 1 10 1 83 1-25 1-47 1-13 1-32 1 78 1 12 1-56 1 43 1-36 1 58 1-28 1 2 1-79 1 52 1 64 1-99 1 51 1-21 1 49 1-134 1 153 1-58 1-53 1 17 1 1 1-38 1 17 1 94 1-9 1-31 1 14 1-30 1-33 1 38 1-2 1 69 1-108 1 73 1-4 1-58 1 86 1-3 1 9 1-22 1-57 1 74 1-49 1-46 1-10 1 29 1-15 1 12 1 88 1-104 1 17 1 73 1 14 1-22 1-35 1-38 1 87 1-49 1-83 1 9 1 13 1 57 1-20 1 4 1 23 1-7 1-38 1 0 1 10 1 46 1-85 1 33 1 36 1-3 1 26 1-47 1-14 1-32 1 17 1-27 1 129 1-130 1 104 1-21 1 11 1 14 1-154 1 81 1 82 1-143 1 61 1 24 1 61 1-89 1 78 1-56 1 25 1 31 1-81 1 100 1-53 1-63 1 48 1 49 1-58 1-57 1 28 1 69 1 94 1-71 1 27 1-39 1-36 1 48 1-77 1 7 1-5 1 59 1-25 1-16 1 86 1-111 1 68 1 27 1-89 1 92 1-12 1-24 1-47 1 55 1-92 1 57 1 8 1 52 1-74 1 84 1-62 1-77 1 66 1 60 1-96 1 23 1 5 1 28 1-76 1 125 1-58 1-38 1 0 1 51 1 97 1-47 1-11 1-102 1 112 1 1 1-11 1 4 1 28 1-33 1-23 1-2 1-73 1 93 1-24 1-69 1-16 1 134 1-142 1 135 1-37 1-62 1 2 1 86 1-21 1 59 1-55 1-37 1-47 1 103 1-78 1 52 1-49M0 231l1 27 1-101 1 163 1-57 1 0 1-97 1-3 1 7 1-11 1 76 1 16 1-41 1-2 1-28 1 43 1 43 1-12 1-38 1-42 1 56 1 55 1 19 1-57 1-46 1 6 1 37 1-23 1 29 1-24 1-54 1 1 1-22 1 31 1 51 1-12 1-19 1-22 1-25 1 62 1-10 1 50 1-7 1-81 1 42 1 58 1-91 1 73 1-48 1 24 1 36 1 9 1-26 1 11 1-22 1 37 1-96 1-19 1 91 1-75 1 17 1 83 1 0 1-39 1 29 1-25 1 3 1-51 1 62 1-12 1-74 1 88 1-68 1 64 1-53 1 4 1-50 1 61 1 44 1 1 1-33 1 28 1-99 1 81 1 6 1 36 1-101 1 45 1 2 1 47 1 33 1-185 1 24 1 125 1-126 1 38 1 28 1 79 1-45 1-90 1 44 1 61 1-136 1 9 1 35 1 121 1-151 1 104 1-89 1 20 1 84 1-26 1 25 1-45 1 34 1-37 1 52 1 25 1-102 1 67 1-69 1 57 1-22 1-41 1 1 1 9 1 49 1 80 1-102 1 26 1-44 1 41 1-64 1-11 1-26 1 102 1 18 1 7 1-34 1 42 1-57 1-19 1 2 1 11 1 29 1 7 1-52 1 110 1-58 1-100 1 94 1 50 1-130 1 120 1-113 1 54 1-15 1-13 1 57 1 16 1-98 1 107 1-97 1 47 1-54 1 121 1-119 1 73 1 79 1-138 1 49 1 93 1-51 1-71 1 49 1 10 1-4 1-38 1 15 1 5 1-89 1 78 1-2 1-26 1 82 1-73 1 26 1-70 1 5 1 15 1 18 1-20 1 96 1-47 1-20 1 25 1-45 1 33 1 27 1 17 1-14 1-9 1-88M0 193l1-50 1 113 1-9 1-86 1 139 1-100 1 6 1-69 1 49 1 50 1-27 1 60 1-102 1 51 1 20 1-59 1 98 1-60 1-60 1 25 1 51 1-30 1-10 1 52 1 2 1-25 1 1 1-77 1 49 1 82 1-86 1 4 1-7 1 13 1-50 1 31 1-16 1 76 1 12 1-81 1 57 1-25 1 17 1 51 1-35 1 12 1-19 1-70 1 91 1-29 1 57 1-70 1 52 1-28 1-90 1 41 1-16 1 23 1 46 1 43 1-87 1 39 1-60 1 76 1-94 1 89 1-54 1 20 1-46 1 54 1-32 1 5 1-37 1 48 1 28 1 20 1-17 1-71 1-15 1 44 1-64 1 84 1-13 1-47 1 44 1 18 1-12 1 73 1-77 1 22 1-67 1 70 1 31 1-36 1-35 1 80 1-51 1-130 1 152 1-52 1-78 1 210 1-97 1 15 1-105 1 91 1 24 1-4 1-54 1 70 1-127 1 85 1 25 1-39 1 53 1-62 1-17 1-6 1 98 1-38 1-32 1 40 1 0 1 36 1-72 1 2 1 49 1-30 1-39 1 50 1 37 1-28 1 24 1 18 1-69 1-16 1 64 1-85 1-19 1 28 1 71 1-74 1-8 1 76 1 30 1-111 1-17 1 60 1-45 1 88 1 32 1-70 1 30 1-102 1 125 1-17 1-16 1-50 1 86 1-94 1 32 1 25 1-60 1 85 1 3 1-72 1-51 1 129 1-136 1 5 1 107 1-90 1 83 1-11 1-16 1 9 1-25 1 82 1-49 1-14 1 19 1-4 1 7 1-2 1-48 1-55 1 145 1-68 1-32 1 78 1 23 1 9 1-91 1 32 1-27 1 0 1 22 1 19 1 20 1-62 1-51 1 17" stroke="url(#cb)" stroke-width="0.3" fill="none" vector-effect="non-scaling-stroke" stroke-linejoin="round" opacity="0.8"/>
<path d="M72 264v56M113 266v54M145 270v46M181 266v52M113 274v24M52 259v60M142 279v22M81 268v6M39 261v59M71 255v35" stroke="#001aff" stroke-width="0.45" fill="none" vector-effect="non-scaling-stroke" opacity="0.75"/>
<path d="M99.57 72L101 16L102.43 72ZM98.72 77L99.99 52L101.26 77ZM101.25 79.5L102.51 56L103.78 79.5ZM105.29 97L106.55 80L107.82 97ZM111.85 115.2L113.12 94.8L114.39 115.2ZM91.15 107L92.42 94.8L93.68 107ZM95.69 92L96.96 80L98.23 92ZM78.68 129L79.79 110.4L80.9 129ZM120.59 128.5L121.71 116L122.82 128.5ZM-.79 138L0 124L.79 138ZM200.2 138L200.99 124L201.78 138Z" fill="url(#sb)"/>
<path d="M101 0V72M99.99 36V77M102.51 40V79.5M106.55 64V97M113.12 78.8V115.2M92.42 78.8V107M96.96 64V92M79.79 94.4V129M121.71 100V128.5M0 108V138M200.99 108V138" stroke="url(#sb)" stroke-width="0.7" vector-effect="non-scaling-stroke" fill="none"/>
</g></g>
<path d="M271.15 11.01V108.8" stroke="#7a6a70" stroke-width="0.35" opacity="0.55"/>
<path d="M207.5 8.5H334.8V108.8" stroke="#d2d2d6" stroke-width="0.5" fill="none"/>
<path d="M207.5 8.5V108.8H334.8" stroke="#b4b4bc" stroke-width="0.55" fill="none"/>
<text x="206.3" y="10.4" font-size="4.3" text-anchor="end">0</text>
<text x="206.3" y="22.94" font-size="4.3" text-anchor="end">-10</text>
<text x="206.3" y="35.48" font-size="4.3" text-anchor="end">-20</text>
<text x="206.3" y="48.01" font-size="4.3" text-anchor="end">-30</text>
<text x="206.3" y="60.55" font-size="4.3" text-anchor="end">-40</text>
<text x="206.3" y="73.09" font-size="4.3" text-anchor="end">-50</text>
<text x="206.3" y="85.62" font-size="4.3" text-anchor="end">-60</text>
<text x="206.3" y="98.16" font-size="4.3" text-anchor="end">-70</text>
<text x="206.3" y="110.7" font-size="4.3" text-anchor="end">-80</text>
<text x="207.5" y="115.2" font-size="4.4" text-anchor="middle">-200</text>
<text x="223.41" y="115.2" font-size="4.4" text-anchor="middle">-150</text>
<text x="239.32" y="115.2" font-size="4.4" text-anchor="middle">-100</text>
<text x="255.24" y="115.2" font-size="4.4" text-anchor="middle">-50</text>
<text x="271.15" y="115.2" font-size="4.4" text-anchor="middle">0</text>
<text x="287.06" y="115.2" font-size="4.4" text-anchor="middle">50</text>
<text x="302.98" y="115.2" font-size="4.4" text-anchor="middle">100</text>
<text x="318.89" y="115.2" font-size="4.4" text-anchor="middle">150</text>
<text x="334.8" y="115.2" font-size="4.4" text-anchor="middle">200</text>
<text x="271.55" y="120.7" font-size="5" text-anchor="middle">Doppler/Hz</text>
<text transform="translate(198.1 58.65) rotate(-90)" font-size="4.85" text-anchor="middle">Normalized received power/dB</text>
<text x="268.15" y="135.1" font-size="8.2" text-anchor="middle" fill="#555">(<tspan font-weight="bold" fill="#222">b</tspan>)</text>
<path d="M33.44 148.2V248M49.38 148.2V248M65.31 148.2V248M81.25 148.2V248M97.19 148.2V248M113.12 148.2V248M129.06 148.2V248M17.5 235.52H145M17.5 223.05H145M17.5 210.57H145M17.5 198.1H145M17.5 185.62H145M17.5 173.15H145M17.5 160.67H145" stroke="#ebebeb" stroke-width="0.5" fill="none"/>
<g filter="url(#bl)"><g transform="translate(17.5 148.2) scale(0.62808 0.31188)">
<path d="M0 16L1 54L2 74L3 78L4 82L5 86L6 81L7 89L8 88L9 84L10 92L11 89L12 93L13 96L14 95L15 93L16 97L17 97L18 101L19 97L20 96L21 100L22 102L23 98L24 98L25 100L26 102L27 99L28 104L29 105L30 105L31 108L32 105L33 103L34 109L35 104L36 105L37 106L38 106L39 105L40 105L41 111L42 106L43 109L44 105L45 108L46 111L47 111L48 106L49 111L50 109L51 111L52 107L53 110L54 112L55 108L56 110L57 112L58 112L59 111L60 113L61 110L62 112L63 111L64 112L65 111L66 110L67 110L68 115L69 108L70 111L71 108L72 111L73 116L74 115L75 115L76 115L77 113L78 116L79 114L80 114L81 110L82 114L83 113L84 113L85 115L86 117L87 115L88 114L89 115L90 110L91 112L92 116L93 114L94 112L95 114L96 119L97 110L98 112L99 118L100 118L101 116L102 111L103 116L104 117L105 113L106 111L107 111L108 117L109 115L110 111L111 116L112 118L113 117L114 118L115 112L116 118L117 113L118 119L119 120L120 115L121 120L122 117L123 120L124 120L125 119L126 118L127 119L128 115L129 116L130 120L131 119L132 120L133 113L134 120L135 121L136 122L137 120L138 118L139 115L140 116L141 115L142 118L143 122L144 121L145 119L146 118L147 121L148 114L149 121L150 117L151 116L152 118L153 119L154 122L155 118L156 122L157 122L158 122L159 116L160 120L161 120L162 120L163 118L164 114L165 121L166 121L167 120L168 120L169 122L170 120L171 119L172 119L173 122L174 121L175 120L176 121L177 120L178 123L179 119L180 118L181 123L182 120L183 120L184 116L185 122L186 114L187 119L188 120L189 117L190 119L191 122L192 123L193 116L194 120L195 121L196 119L197 122L198 120L199 121L200 120L201 122L202 119L203 114L203 244L0 244Z" fill="url(#gc)" opacity="0.5"/>
<path d="M0 240v23m1 33v24m1-47v47m1-56v24m1-40v69m1-38v6m1-22v4m1 1v48m1-59v36m1-18v14m1-31v34m1-12v19m1-34v21m1-33v67m1-57v43m1-52v30m1-22v27m1-31v62m1-56v56m1-65v13m1-18v70m1-47v8m1-32v9m1 6v12m1-9v6m1-18v27m1-27v38m1-38v48m1-49v66m1-40v13m1-32v29m1-38v36m1-28v47m1-50v11m1-6v16m1-21v13m1 0v4m1-11v2m1 3v24m1-15v6m1-29v41m1-32v53m1-58v13m1 1v16m1-36v14m1-10v64m1-58v11m1-20v25m1-20v57m1-50v6m1-4v53m1-67v28m1-8v22m1-22v10m1-9v3m1-9v12m1-18v58m1-46v17m1-33v4m1 13v45m1-69v11m1-7v24m1-23v64m1-47v27m1-38v58m1-55v3m1-17v69m1-69v69m1-74v6m1 7v19m1-12v48m1-35v37m1-49v10m1-21v18m1 6v12m1-32v2m1-7v4m1-4v28m1-32v32m1-15v10m1-15v24m1-36v16m1 3v8m1-28v70m1-59v5m1-9v63m1-28v5m1-36v2m1-9v25m1 1v23m1-43v44m2-49v45m1-20v30m1-58v68m1-64v36m1-29v7m1-4v54m1-69v33m1-25v36m1-29v18m1-17v12m1-27v62m1-65v4m2-3v1m1 32v22m1-44v45m1-53v25m1-11v16m2-23v26m1-12v34m1-25v37m1-56v14m1-25v1m1 6v8m1-6v5m1-13v66m1-60v60m1-64v30m1-23v10m1-5v18m1-29v22m1-19v31m1-35v21m1-11v54m1-62v62m1-57v57m1-55v1m1-14v65m1-64v30m1-18v55m1-73v25m1-25v6m1-15v17m1-2v1m1-1v1m1 17v17m1-41v19m1 0v31m1-35v8m1-8v24m1-26v2m1-10v56m1-39v51m1-57v57m1-62v62m1-55v24m1-17v20m1-28v11m1-4v23m1-20v22m1-37v23m1-38v14m1 13v10m1-11v8m1-11v53m1-61v61m1-60v20m1-8v5m1-17v60m1-59v8m1 3v11m1-23v60m1-60v60m1-69v56m1-54v35m1-29v5m1 0v6m1-12v62m1-59v26m1-29v19m1-13v19m1-24v61m1-53v31m1-35v30m1-27v26m1-36v64m1-62v62m1-61v26m1-24v11m1-3v10m1-12v6m1-17v64m1-60v60m1-51v8m1-9v52m1-39v12m1-29v16m1-29v36m1-25v16m1-8v50m1-60v19m1-25v32m1-31v61m1-44v11m1-21v58m1-55v6m1-1v18m1-27v44m1-29v1m1 11v18m1-40v29" stroke="url(#dc)" stroke-width="0.45" fill="none" vector-effect="non-scaling-stroke" opacity="0.8"/>
<path d="M7 94v174m4-174v186m12-177v161m1-161v164m2-160v148m1-151v151m1-147v146m2-144v151m9-151v167m1-167v144m6-138v146m1-146v137m1-142v147m1-142v149m4-150v158m1-156v157m3-157v157m2-159v160m4-159v157m4-158v136m2-139v147m15-141v143m3-141v141m5-141v135m2-138v135m8-136v136m3-134v132m4-130v147m3-144v151m1-152v161m6-158v135m3-138v146m11-150v129m3-120v126m1-129v129m4-133v142m3-136v126m3-126v132m3-136v142m1-143v150m6-144v140m4-142v135m2-137v149m7-148v134m15-131v133m11-136v148m2-147v140m4-141v164" stroke="url(#gc)" stroke-width="0.62" fill="none" vector-effect="non-scaling-stroke" opacity="0.75"/>
<path d="M2 79v194m1-190v181m6-175v186m1-178v161m2-160v167m2-165v163m1-165v156m1-153v161m1-160v156m1-152v158m2-163v149m11-137v139m2-144v149m2-148v148m1-147v160m5-155v148m9-149v153m2-156v162m4-158v147m2-145v141m6-141v145m2-147v136m2-131v126m7-126v140m1-141v136m2-135v131m8-129v170m4-177v145m1-143v150m4-148v137m13-134v131m2-137v148m4-141v141m2-141v137m13-139v144m3-140v140m6-142v148m15-147v135m3-132v143m3-149v139m6-134v134m2-136v129m2-126v137m2-140v137m1-137v134m1-131v137m2-140v143m2-142v141m3-143v136m1-132v134m6-138v145m1-143v156" stroke="url(#gc)" stroke-width="0.62" fill="none" vector-effect="non-scaling-stroke" opacity="0.95"/>
<path d="M1 59v237m3-209v161m1-157v188m1-193v177m2-170v164m14-151v143m3-144v150m4-145v170m5-166v148m3-151v152m1-152v157m4-157v147m2-148v142m7-136v137m9-135v133m1-136v140m1-138v139m3-140v149m5-150v151m4-146v160m3-162v137m6-137v132m5-131v135m1-134v160m4-161v161m3-156v139m3-140v136m1-137v144m1-145v146m2-147v129m1-127v131m3-137v145m8-145v137m2-135v144m3-142v136m3-131v132m1-132v135m1-136v132m1-134v144m2-146v143m2-138v127m4-127v122m6-126v145m2-144v140m1-135v133m2-136v145m3-150v146m4-142v151m6-147v132m2-134v147m4-153v141m2-134v125m2-126v134m8-134v138m6-138v144m1-144v142m14-140v135m2-136v144m1-145v136m1-135v150" stroke="url(#wc)" stroke-width="0.62" fill="none" vector-effect="non-scaling-stroke" opacity="0.85"/>
<path d="M0 21v219m13-140v153m6-152v154m2-150v168m11-164v151m11-146v158m2-159v143m10-143v155m16-155v166m1-163v151m1-146v135m6-137v149m1-149v144m1-148v136m1-132v151m3-150v137m12-142v151m1-149v134m8-135v167m5-162v139m7-136v130m3-129v138m6-139v134m4-134v129m4-127v112m4-118v127m7-124v140m3-137v146m5-146v118m1-121v148m7-146v136m12-135v133m4-132v129m1-132v134m5-137v135m2-137v150m3-147v142m1-140v127m1-124v135m1-135v143m1-150v140m1-135v129m1-129v130m8-136v147" stroke="url(#cc)" stroke-width="0.62" fill="none" vector-effect="non-scaling-stroke" opacity="0.85"/>
<path d="M0 123l1 110 1 24 1-132 1 1 1 2 1 112 1-119 1-18 1 160 1-89 1 83 1-120 1 44 1-39 1 66 1-88 1 125 1-71 1 41 1-90 1 117 1-45 1 18 1 49 1-76 1-30 1 59 1 56 1-61 1 27 1 26 1-132 1 86 1-66 1 25 1-67 1 143 1-2 1 18 1-24 1-2 1-81 1 92 1-30 1-11 1 24 1-28 1-17 1 14 1-65 1 46 1 22 1-12 1 36 1-65 1 56 1-63 1 11 1 87 1-20 1-56 1-18 1 82 1-10 1-35 1-30 1 63 1 6 1 2 1-87 1 16 1 22 1 59 1-99 1 52 1 35 1-37 1 35 1-112 1 64 1 2 1-51 1 165 1-166 1 63 1 57 1-80 1-12 1 81 1-33 1 27 1-35 1-18 1-16 1 63 1 15 1-5 1-86 1 39 1-26 1-47 1 20 1 62 1-91 1 121 1 0 1-30 1 0 1 48 1-77 1-13 1 92 1-39 1-3 1-59 1 97 1-52 1 16 1 25 1-57 1-54 1 74 1-46 1 39 1 13 1-29 1 5 1 60 1-109 1 68 1 10 1-8 1 6 1-59 1-21 1 46 1 57 1-49 1 8 1-12 1-66 1 109 1-14 1 4 1-35 1-1 1-34 1 28 1 93 1 48 1-101 1-24 1 61 1-45 1-76 1 32 1 91 1-8 1-74 1 2 1 2 1-18 1 72 1-105 1 42 1 4 1 11 1-21 1-24 1 142 1-56 1-30 1-29 1-17 1 62 1-36 1 79 1-56 1 33 1-34 1 58 1-3 1-28 1 14 1 0 1-85 1 33 1 57 1-55 1 1 1 30 1 7 1 20 1 0 1-4 1-10 1-3 1-29 1-25 1 67 1 19 1-8 1-64M0 88l1 153 1-43 1 56 1-73 1-81 1 94 1-67 1 123 1-83 1 25 1 82 1-60 1 59 1-40 1-35 1 15 1 107 1-122 1-53 1 75 1 38 1-121 1 69 1 44 1-109 1 104 1-99 1 71 1 21 1-129 1 172 1-30 1-10 1 13 1-58 1-53 1 7 1 41 1-79 1 57 1 79 1-9 1 32 1-111 1 27 1 71 1-23 1-19 1-93 1 75 1-31 1 87 1-1 1-59 1-7 1 35 1 38 1-60 1-69 1 32 1 43 1-52 1 12 1 72 1-36 1-66 1-8 1 131 1-14 1-52 1-27 1-36 1 99 1 91 1-88 1-20 1-27 1 19 1-61 1 102 1-5 1 6 1-7 1-22 1-20 1 50 1-106 1 99 1-45 1-35 1 72 1-44 1 55 1-97 1-13 1 45 1-53 1 121 1-109 1 38 1-48 1 112 1-84 1 37 1 5 1-21 1 37 1 27 1-61 1 26 1 34 1-100 1 140 1-85 1 4 1 11 1 2 1 19 1 12 1 0 1-50 1-49 1 42 1 10 1-44 1 22 1-42 1 10 1 68 1 31 1-69 1 75 1-49 1-34 1 70 1-36 1 26 1-85 1 98 1-77 1 32 1-6 1 55 1-4 1 16 1-70 1-3 1 70 1-11 1-53 1-13 1 27 1 23 1 20 1-9 1 31 1-39 1 9 1 9 1-101 1 7 1 96 1 9 1-70 1 50 1 34 1-34 1-28 1-12 1-58 1 45 1-24 1 62 1 1 1-19 1-2 1 34 1-2 1-56 1-49 1 102 1 3 1-9 1-58 1 42 1 47 1 14 1-44 1-70 1-11 1 103 1-37 1-8 1-63 1 21 1 54 1-8 1-46 1-9 1 65 1-49 1 60 1-27M0 228l1-109 1 65 1 75 1-100 1 79 1-36 1-63 1 55 1 66 1-56 1 60 1-135 1 59 1 2 1-51 1 91 1-89 1-12 1 47 1 28 1 23 1 5 1-71 1 39 1 6 1 19 1 25 1-17 1 33 1-41 1-11 1 41 1-3 1-19 1-76 1 100 1-19 1-109 1-11 1 17 1 128 1-60 1-51 1 16 1 75 1-48 1 16 1-43 1 22 1 12 1-49 1 114 1-28 1-15 1-25 1-75 1 134 1-99 1-38 1 36 1-14 1 105 1-129 1 141 1 1 1-26 1 8 1-20 1 93 1-52 1-44 1-89 1 104 1 20 1-118 1-3 1 74 1-5 1 49 1-8 1-59 1-69 1 105 1 36 1-4 1-125 1 46 1-29 1 104 1-32 1 31 1-114 1 10 1 90 1-83 1 110 1-53 1-36 1 9 1 85 1-85 1 42 1-75 1 70 1-36 1 92 1-16 1-83 1 84 1-92 1-21 1 128 1-133 1 77 1-76 1 45 1 74 1-72 1 45 1-8 1 90 1-99 1 18 1-95 1 15 1 10 1 50 1-69 1 13 1-29 1 132 1-66 1 19 1 105 1-96 1-54 1 49 1-27 1-38 1 104 1-26 1-12 1 16 1-63 1 23 1 6 1-39 1 14 1 83 1 1 1 40 1-42 1-11 1-88 1 67 1-57 1 80 1 70 1-62 1-109 1 47 1-31 1-26 1 90 1-74 1 14 1 57 1 30 1-83 1-9 1 39 1 45 1 72 1-81 1 28 1-14 1-50 1-35 1 80 1-98 1 21 1 9 1 16 1 60 1-19 1-45 1 128 1-167 1 22 1-2 1 44 1-46 1-25 1 100 1-55 1-28 1 63 1-27 1 47 1-60 1 79 1-43 1-23M0 157l1 80 1-60 1-9 1-34 1 9 1-4 1 104 1-49 1-51 1 82 1 85 1-47 1-47 1-52 1 74 1-49 1 19 1 47 1-81 1-29 1 75 1-70 1 103 1-3 1-57 1 12 1 5 1-31 1 46 1-11 1-65 1 59 1-4 1-15 1 21 1 53 1-3 1 60 1-81 1-29 1 43 1-103 1 92 1-6 1 61 1-64 1-30 1-44 1 59 1-67 1 44 1 48 1-56 1 0 1-67 1 46 1 31 1-41 1 25 1 52 1-52 1 15 1-28 1-46 1 92 1-4 1-18 1 9 1 19 1-94 1 54 1 84 1-21 1-98 1 21 1 73 1 20 1-66 1 32 1 23 1-18 1-46 1-34 1 37 1 41 1-73 1 60 1 13 1-25 1-27 1 29 1 18 1-62 1 14 1-11 1 34 1 28 1-15 1-39 1 61 1-69 1 70 1 11 1-4 1-19 1 56 1-63 1 35 1-53 1-4 1-19 1 50 1-70 1-17 1 49 1-27 1 40 1-55 1 28 1 75 1-34 1 38 1-47 1-16 1-34 1 58 1 43 1-7 1-73 1 52 1 93 1-98 1-61 1 42 1-44 1 55 1-66 1 50 1 46 1-16 1-59 1 21 1 21 1-39 1-32 1 68 1-12 1 66 1-112 1 101 1-38 1 36 1 0 1-80 1 45 1 106 1-70 1-54 1 21 1-18 1-29 1 47 1-9 1 4 1-7 1 9 1 6 1-16 1 38 1 6 1-122 1 21 1 110 1-30 1 25 1 25 1-34 1 11 1-6 1-47 1 54 1-122 1 132 1-80 1 45 1-90 1 116 1-10 1-32 1 9 1-32 1 61 1-22 1 12 1-109 1 133 1-57 1 9 1-30 1 60 1 33 1-69 1 16M0 84l1 152 1-121 1 144 1-39 1-33 1 13 1-58 1-11 1 71 1 2 1-35 1 69 1-126 1 63 1 48 1 25 1-50 1 52 1-22 1-61 1 10 1-33 1 107 1-17 1-3 1-3 1-38 1 2 1-17 1 54 1 19 1-8 1-49 1 47 1 2 1 26 1-3 1-9 1 17 1-99 1 89 1-37 1 35 1-80 1 64 1-109 1 58 1-40 1-30 1 68 1-48 1 56 1-1 1 51 1-7 1 19 1-73 1 29 1-21 1-18 1 20 1 25 1-98 1 15 1 71 1 40 1-33 1-4 1-21 1 42 1-59 1 18 1-53 1 50 1 62 1-111 1 101 1-81 1-26 1 115 1-91 1-3 1 75 1-11 1 12 1-3 1-45 1 24 1 28 1-46 1 56 1-84 1-3 1 18 1 1 1 37 1 12 1 2 1-63 1 57 1 12 1-58 1 71 1-107 1 97 1 21 1-54 1-25 1 64 1-26 1 3 1-69 1-21 1 81 1 7 1-37 1-14 1 30 1 46 1-13 1-23 1 23 1 18 1-32 1 32 1-17 1-50 1 23 1 2 1-34 1 49 1 4 1-3 1 18 1-101 1 16 1 41 1 22 1 3 1-86 1 70 1 5 1-12 1 46 1-53 1 57 1-56 1 2 1 38 1 33 1-108 1 48 1-33 1 8 1 12 1 44 1-37 1-42 1 14 1 9 1 23 1 51 1-18 1 21 1-99 1 84 1-71 1-23 1 85 1-4 1-30 1 38 1 23 1-66 1-21 1 67 1 47 1-106 1 71 1-9 1-3 1-37 1 55 1-95 1 54 1-32 1 51 1 10 1-24 1-31 1 40 1-10 1 13 1-21 1 26 1 12 1 3 1-24 1-6 1 95 1-84 1-109 1 125M0 219l1 64 1-51 1-96 1 42 1 39 1-23 1 26 1-65 1 85 1-67 1 30 1 42 1-131 1 68 1 68 1-43 1-62 1 52 1 6 1-27 1-37 1 25 1 2 1 92 1-40 1 2 1 17 1 33 1-120 1 72 1-98 1 124 1 9 1-22 1-52 1-5 1-63 1 110 1-111 1 132 1 14 1-106 1 107 1-78 1 72 1-106 1-29 1 21 1 20 1-11 1 89 1-47 1-29 1 18 1 72 1-49 1 62 1-26 1-7 1-71 1-36 1 109 1-8 1 18 1-27 1 31 1-4 1-5 1-112 1 83 1-23 1-50 1 97 1-6 1-26 1 109 1-129 1-63 1 46 1 67 1-63 1-1 1 42 1 45 1-18 1-49 1 41 1-4 1-67 1-21 1 77 1-38 1 60 1-39 1 56 1-67 1-21 1 23 1 79 1-128 1 127 1-134 1 185 1-70 1-82 1 80 1-44 1 10 1 12 1-105 1 21 1 98 1-65 1-9 1-30 1 38 1-10 1 36 1 56 1-15 1-58 1 15 1 50 1 25 1-139 1 47 1-51 1 99 1-18 1 13 1 24 1-23 1-19 1-38 1 44 1 26 1-70 1 85 1-18 1-69 1 63 1 50 1-93 1-12 1-34 1 48 1-7 1 26 1 16 1 31 1 15 1-69 1 22 1 12 1 24 1-87 1 42 1-19 1-2 1 15 1-22 1-7 1 18 1-32 1-1 1 16 1 63 1 11 1-88 1 43 1 21 1 25 1-47 1 17 1 12 1-1 1-69 1 39 1-82 1 94 1 11 1-90 1 122 1-49 1 32 1-70 1 86 1-70 1-11 1 64 1-50 1-32 1-31 1 52 1 23 1-69 1 34 1 59 1 14 1 5 1-52 1 44 1-22" stroke="url(#wc)" stroke-width="0.3" fill="none" vector-effect="non-scaling-stroke" stroke-linejoin="round" opacity="0.8"/>
<path d="M0 64l1 224 1-104 1 0 1-15 1-57 1 64 1 38 1 45 1-102 1 11 1 116 1-72 1-24 1 41 1 7 1-47 1-41 1 18 1 32 1-65 1 54 1 52 1-90 1 78 1-52 1-53 1 66 1-23 1 4 1 41 1-75 1 167 1-98 1-85 1 81 1 22 1-96 1 194 1-47 1-44 1 14 1-5 1 11 1-110 1 75 1-62 1 41 1 57 1-89 1 48 1-73 1 120 1-43 1-57 1 61 1-11 1-49 1 81 1 0 1-47 1 6 1-72 1 108 1-84 1 102 1-20 1-38 1 29 1-49 1 25 1 49 1-88 1 68 1 28 1-11 1-87 1 66 1-28 1-17 1-29 1 82 1 17 1-11 1 14 1-98 1 106 1-23 1-98 1 162 1-95 1 53 1-79 1 96 1-101 1-16 1 42 1-58 1 11 1 67 1 21 1-41 1 44 1-78 1-15 1 78 1 50 1-79 1-30 1-29 1 86 1 19 1-90 1-4 1 77 1-16 1 19 1 24 1-54 1-76 1 75 1 26 1-23 1-67 1 103 1-11 1-103 1 47 1 59 1-63 1 70 1-18 1 40 1-99 1-22 1 94 1-6 1 0 1-99 1 96 1-27 1 58 1-71 1-29 1 79 1-21 1-21 1 58 1-121 1 111 1-22 1-48 1-41 1 125 1-19 1-78 1 83 1-14 1-5 1-84 1 128 1-87 1 69 1-102 1-9 1 130 1-106 1 72 1-10 1-74 1 10 1-29 1 12 1-6 1 105 1 24 1-8 1-117 1 46 1 24 1 4 1 24 1-55 1 15 1 34 1-93 1 61 1 5 1 49 1-107 1-9 1 42 1 67 1-106 1-12 1 67 1 75 1-126 1 79 1-35 1 57 1-42 1 11 1 47M0 221l1 66 1-122 1 30 1-96 1 140 1 17 1-38 1 37 1 8 1-115 1-43 1 144 1-60 1-73 1 112 1-28 1 2 1 17 1-33 1-23 1 28 1-9 1-9 1 88 1-26 1-83 1 75 1 7 1 37 1-102 1 23 1 6 1-11 1 2 1-43 1 58 1 5 1-34 1 7 1-5 1-6 1 60 1-8 1-73 1 49 1 7 1-19 1-15 1 62 1-120 1 88 1 5 1 0 1-4 1-62 1 120 1 18 1-33 1 5 1-32 1-70 1 69 1 8 1-35 1 13 1 13 1-99 1 19 1 4 1 97 1-37 1 30 1-99 1 93 1-58 1-11 1 31 1-36 1 2 1 40 1-47 1 39 1 48 1-22 1-46 1 21 1-59 1 52 1 88 1-43 1-74 1 47 1 73 1-20 1-88 1 21 1 30 1 2 1 17 1-101 1 58 1 48 1 23 1-118 1 101 1-126 1 124 1-14 1 7 1-82 1 106 1-115 1 19 1 48 1-91 1 111 1 29 1-114 1 95 1-106 1 37 1 28 1 33 1-31 1 53 1-123 1 16 1 62 1 78 1-90 1-19 1 41 1-9 1 12 1 11 1 9 1-42 1 71 1-108 1 13 1 51 1-1 1-23 1 48 1-61 1 24 1-17 1 33 1-17 1-14 1 42 1 6 1-85 1 16 1 85 1-16 1-39 1 21 1-76 1 39 1-13 1 7 1 21 1-59 1 0 1 80 1-97 1 93 1-92 1 35 1 19 1 19 1-35 1 42 1-63 1 82 1 10 1-30 1-49 1 23 1 4 1-18 1 45 1-69 1 50 1-18 1-17 1 118 1-20 1-32 1-18 1 46 1-31 1-23 1 14 1-88 1 42 1 69 1 15 1-3 1 5 1-59 1 20M0 189l1-130 1 125 1-94 1 107 1-26 1 79 1-49 1 6 1-23 1 73 1-117 1 114 1-99 1 50 1-78 1 23 1 78 1-64 1 25 1 0 1-31 1 68 1-10 1-40 1-46 1 53 1 36 1 15 1 45 1-153 1-18 1 145 1-5 1-122 1-12 1 113 1 5 1 33 1-1 1-82 1 4 1 45 1-28 1 7 1-32 1 80 1-111 1 54 1 29 1-100 1 39 1 98 1-144 1 117 1-93 1 38 1 81 1-73 1 3 1 40 1-69 1 36 1-79 1 126 1-36 1 20 1-94 1 28 1 35 1 61 1-22 1-37 1 31 1-5 1-32 1-43 1 19 1 47 1-44 1 5 1 62 1-23 1-65 1 59 1 39 1-14 1 17 1-20 1-52 1 27 1-56 1 63 1 46 1-111 1 3 1 76 1-8 1-36 1 38 1-33 1 60 1-60 1 24 1-71 1 2 1 69 1 14 1-41 1 45 1-41 1-23 1 70 1 25 1-85 1 36 1-6 1 41 1-112 1 77 1-41 1 76 1-18 1-64 1 146 1-157 1 11 1 7 1 75 1-65 1 34 1 8 1-88 1 99 1-84 1 26 1 63 1-54 1 21 1-4 1-50 1 44 1 116 1-110 1-33 1-45 1 37 1 22 1-49 1 42 1 51 1-14 1 45 1-66 1 63 1-112 1 47 1-71 1 20 1-10 1 108 1-73 1 81 1-91 1 67 1 27 1-62 1-3 1 32 1-50 1-15 1-2 1 48 1 0 1 11 1 39 1-44 1-26 1 59 1-56 1 86 1-20 1-43 1 17 1-15 1-24 1-15 1 105 1-65 1-5 1 31 1 16 1-15 1-11 1-73 1 15 1 71 1-2 1-99 1 128 1-57 1 52 1-11 1 12M0 141l1 106 1-128 1 104 1-51 1 95 1-33 1 17 1-17 1-63 1-19 1-36 1 135 1-108 1 60 1 50 1-8 1-58 1 44 1 21 1 46 1-137 1 69 1-68 1 89 1-136 1 96 1-33 1-70 1 68 1-30 1 47 1 41 1-13 1-6 1 8 1-92 1 16 1 62 1 38 1-10 1-30 1-49 1 20 1-69 1 40 1 82 1 13 1-16 1-2 1 11 1-6 1-102 1 4 1-4 1 88 1-31 1 54 1 8 1-8 1-63 1-30 1 85 1-15 1-31 1 51 1-1 1-16 1-93 1-18 1 69 1 14 1-53 1 55 1 56 1-5 1-13 1-47 1-30 1 78 1 2 1 13 1 13 1-140 1 30 1 37 1-2 1 33 1-53 1 10 1 1 1 90 1-51 1-37 1 65 1-6 1-39 1-62 1 8 1 24 1 1 1 72 1-13 1-56 1 27 1-5 1 24 1 2 1-10 1-53 1 71 1 28 1-44 1 66 1-44 1 14 1-118 1 159 1-65 1 21 1-121 1 110 1-29 1-72 1 105 1 4 1-79 1-35 1 21 1 64 1 27 1-41 1 57 1-87 1 24 1-50 1 48 1-47 1-5 1 35 1 76 1-119 1 59 1 129 1-142 1-21 1 44 1 48 1-62 1 88 1-28 1-60 1 50 1 7 1-69 1 76 1-53 1-23 1 84 1-15 1 9 1-13 1-102 1 82 1-84 1 111 1-14 1-64 1 65 1-99 1 50 1-12 1 81 1-66 1-26 1-17 1 77 1-5 1 5 1-82 1 83 1 13 1-45 1-36 1-21 1 74 1-73 1 116 1-87 1 95 1-123 1 68 1 80 1-30 1-51 1 36 1-27 1-31 1 34 1 7 1 61 1-117 1 16 1-43M0 109l1 87 1-93 1 91 1-19 1 83 1-43 1 5 1-28 1 60 1-91 1 50 1 38 1-12 1-68 1 63 1-15 1-68 1 39 1-3 1 8 1 52 1-83 1 42 1 61 1-44 1 65 1-39 1-97 1 54 1 36 1 3 1-131 1 116 1-37 1-22 1 0 1 33 1 3 1 16 1-61 1 7 1 8 1 60 1-108 1 47 1 56 1 3 1-57 1 80 1-5 1-55 1-32 1 30 1 14 1 2 1 33 1-35 1-7 1-25 1 73 1-5 1-62 1 53 1-14 1 42 1-46 1 22 1-53 1 66 1-100 1-29 1 48 1-22 1 88 1-91 1 75 1-83 1-7 1 130 1-68 1 39 1 28 1-50 1 30 1 65 1-41 1-58 1-48 1-30 1 106 1-14 1-14 1-23 1 37 1-21 1 37 1-20 1-30 1-40 1 63 1-15 1 6 1 43 1-7 1 8 1 76 1-84 1-13 1-24 1-67 1 97 1-83 1 137 1-21 1-108 1 59 1-6 1-28 1-37 1 152 1-153 1 48 1 59 1-62 1-17 1-36 1 81 1 33 1 73 1-92 1-23 1 32 1-65 1 4 1 12 1 33 1 1 1-53 1 9 1-26 1 40 1 27 1-72 1-4 1 44 1 60 1-66 1 20 1-29 1-26 1 48 1 43 1 17 1-63 1 109 1-86 1 5 1 1 1-62 1 111 1-140 1 51 1-25 1 98 1-55 1-11 1-36 1 43 1 52 1 0 1-66 1 33 1-32 1 27 1 47 1-40 1-38 1 50 1-27 1 32 1 3 1 5 1-52 1-33 1 22 1 10 1-6 1-5 1 72 1-21 1 31 1-33 1-10 1 60 1-96 1 93 1-67 1-23 1 11 1 87 1-36 1 5 1-27M0 230l1 3 1-85 1-59 1 59 1-43 1 97 1 54 1-14 1-95 1 91 1-68 1 65 1 7 1-61 1-42 1 70 1 37 1-112 1 37 1 79 1-42 1-27 1 73 1-34 1 28 1-144 1 139 1-30 1 0 1 27 1-61 1 41 1-19 1-30 1-15 1 44 1 36 1-38 1 54 1-48 1-50 1 28 1 123 1-115 1-7 1-57 1 9 1 48 1-28 1 80 1-40 1-18 1-9 1 9 1-9 1 4 1 27 1-56 1 57 1-55 1-27 1 137 1-29 1-47 1-51 1 70 1-9 1 6 1 43 1-103 1-8 1 98 1-11 1-13 1 39 1-19 1-89 1 91 1 17 1-22 1 21 1-107 1 37 1-41 1 98 1-94 1 14 1-23 1 142 1-88 1 78 1-30 1-101 1 114 1-39 1 50 1-41 1-16 1 25 1-77 1 84 1-45 1 2 1-15 1 36 1-74 1 27 1 46 1 84 1-77 1 37 1-4 1-58 1 59 1-60 1-54 1-8 1 85 1-27 1 27 1 2 1 8 1-17 1 16 1-50 1 103 1-23 1-104 1 63 1-61 1 32 1 55 1 18 1-23 1-5 1 5 1-13 1-39 1 8 1 48 1-39 1 62 1-123 1 27 1 98 1-69 1 29 1 19 1 21 1-6 1-97 1 4 1 29 1 10 1-21 1 74 1-30 1-69 1 71 1 43 1-107 1-18 1 17 1 51 1 6 1 15 1 17 1-24 1 40 1-56 1-17 1 15 1-70 1 58 1 68 1-36 1 38 1-66 1 60 1-100 1 47 1 40 1-64 1-23 1 30 1 133 1-141 1 23 1-37 1-40 1 50 1-15 1 47 1 25 1 16 1 21 1-50 1-38 1-48 1 123 1-71 1-31 1 79" stroke="url(#cc)" stroke-width="0.3" fill="none" vector-effect="non-scaling-stroke" stroke-linejoin="round" opacity="0.8"/>
<path d="M40 253v26M176 247v47M140 249v70M69 255v55M147 247v68M136 236v81M146 253v28M93 267v53M165 258v62M75 246v73M103 234v80M64 251v42M79 253v60M44 235v69M184 253v34M122 260v52" stroke="#4dffb2" stroke-width="0.45" fill="none" vector-effect="non-scaling-stroke" opacity="0.75"/>
<path d="M0 16L.96 63.41L1.91 240L0 240Z" fill="url(#wc)" opacity="0.85"/>
<path d="M0 0L.96 24L1.43 52L2.07 76L3.18 92L3.18 124L0 124Z" fill="url(#gc)"/>
<path d="M85.48 128.2L86.27 104L87.07 128.2ZM100.7 130L101.5 74.8L102.3 130Z" fill="url(#sc)"/>
<path d="M86.27 88V128.2M101.5 58.8V130" stroke="url(#sc)" stroke-width="0.7" vector-effect="non-scaling-stroke" fill="none"/>
</g></g>
<path d="M17.5 148.2H145V248" stroke="#d2d2d6" stroke-width="0.5" fill="none"/>
<path d="M17.5 148.2V248H145" stroke="#b4b4bc" stroke-width="0.55" fill="none"/>
<text x="16.3" y="150.1" font-size="4.3" text-anchor="end">0</text>
<text x="16.3" y="162.57" font-size="4.3" text-anchor="end">-10</text>
<text x="16.3" y="175.05" font-size="4.3" text-anchor="end">-20</text>
<text x="16.3" y="187.53" font-size="4.3" text-anchor="end">-30</text>
<text x="16.3" y="200" font-size="4.3" text-anchor="end">-40</text>
<text x="16.3" y="212.47" font-size="4.3" text-anchor="end">-50</text>
<text x="16.3" y="224.95" font-size="4.3" text-anchor="end">-60</text>
<text x="16.3" y="237.42" font-size="4.3" text-anchor="end">-70</text>
<text x="16.3" y="249.9" font-size="4.3" text-anchor="end">-80</text>
<text x="17.5" y="254.4" font-size="4.4" text-anchor="middle">0</text>
<text x="33.44" y="254.4" font-size="4.4" text-anchor="middle">50</text>
<text x="49.38" y="254.4" font-size="4.4" text-anchor="middle">100</text>
<text x="65.31" y="254.4" font-size="4.4" text-anchor="middle">150</text>
<text x="81.25" y="254.4" font-size="4.4" text-anchor="middle">200</text>
<text x="97.19" y="254.4" font-size="4.4" text-anchor="middle">250</text>
<text x="113.12" y="254.4" font-size="4.4" text-anchor="middle">300</text>
<text x="129.06" y="254.4" font-size="4.4" text-anchor="middle">350</text>
<text x="145" y="254.4" font-size="4.4" text-anchor="middle">400</text>
<text x="81.65" y="259.9" font-size="5" text-anchor="middle">Range cell</text>
<text transform="translate(8.1 198.1) rotate(-90)" font-size="4.85" text-anchor="middle">Normalized received power/dB</text>
<text x="78.25" y="274.3" font-size="8.2" text-anchor="middle" fill="#555">(<tspan font-weight="bold" fill="#222">c</tspan>)</text>
<path d="M223.41 148.2V248.2M239.32 148.2V248.2M255.24 148.2V248.2M271.15 148.2V248.2M287.06 148.2V248.2M302.98 148.2V248.2M318.89 148.2V248.2M207.5 235.7H334.8M207.5 223.2H334.8M207.5 210.7H334.8M207.5 198.2H334.8M207.5 185.7H334.8M207.5 173.2H334.8M207.5 160.7H334.8" stroke="#ebebeb" stroke-width="0.5" fill="none"/>
<g filter="url(#bl)"><g transform="translate(207.5 148.2) scale(0.63020 0.31250)">
<path d="M0 89L1 77L2 89L3 84L4 91L5 81L6 92L7 90L8 70L9 87L10 93L11 84L12 86L13 91L14 90L15 92L16 97L17 82L18 91L19 89L20 85L21 81L22 73L23 85L24 74L25 81L26 87L27 83L28 89L29 76L30 81L31 86L32 80L33 89L34 91L35 90L36 80L37 83L38 87L39 95L40 85L41 87L42 71L43 87L44 86L45 86L46 81L47 78L48 89L49 87L50 76L51 76L52 86L53 79L54 65L55 91L56 83L57 74L58 83L59 67L60 79L61 82L62 73L63 85L64 77L65 73L66 73L67 77L68 75L69 78L70 80L71 84L72 77L73 73L74 71L75 71L76 68L77 75L78 57L79 62L80 71L81 58L82 63L83 60L84 44L85 54L86 61L87 62L88 54L89 53L90 52L91 37L92 47L93 46L94 43L95 31L96 28L97 30L98 26L99 27L100 33L101 23L102 8L103 24L104 17L105 25L106 33L107 23L108 45L109 30L110 41L111 53L112 52L113 59L114 57L115 61L116 68L117 70L118 55L119 62L120 61L121 70L122 79L123 56L124 72L125 72L126 79L127 70L128 72L129 76L130 56L131 79L132 65L133 72L134 76L135 78L136 74L137 69L138 60L139 78L140 78L141 61L142 76L143 77L144 83L145 79L146 86L147 74L148 88L149 65L150 90L151 85L152 84L153 85L154 88L155 85L156 77L157 78L158 84L159 86L160 79L161 84L162 67L163 75L164 83L165 86L166 85L167 78L168 85L169 89L170 89L171 87L172 82L173 76L174 89L175 78L176 84L177 88L178 88L179 91L180 79L181 84L182 81L183 72L184 88L185 82L186 70L187 81L188 79L189 86L190 98L191 84L192 83L193 93L194 70L195 94L196 87L197 83L198 88L199 89L200 87L201 90L202 94L202 236L0 236Z" fill="url(#gd)" opacity="0.5"/>
<path d="M0 240v68m1-60v48m1-41v58m1-46v22m1-17v1m1-19v10m1-11v4m2 1v48m1-60v6m1 12v40m1-49v22m1-18v33m1-40v3m1-8v71m1-69v7m1-1v5m1-13v24m1-22v18m1-17v11m1-25v1m1 19v64m1-64v64m1-57v13m1-18v18m1-21v24m1-17v6m1-6v4m1 2v52m1-80v42m1-36v35m1-15v4m1-19v7m1-19v26m1-29v26m1-10v8m1-14v46m1-27v7m1-15v25m1-41v56m1-47v43m1-28v4m1 5v39m1-62v24m1-8v53m1-73v22m1-10v4m1-6v24m1-16v21m1-36v30m1-30v18m1-17v53m1-55v5m1-17v7m1 0v3m1 0v8m2 7v16m1-23v7m2-16v53m1-51v4m1 9v14m1-29v30m1-18v36m1-44v21m1-29v5m1 5v65m1-67v41m1-39v8m1 5v9m1-22v2m1 5v6m1-26v39m1-15v16m1-20v3m1-10v15m1-14v13m1-10v9m1-2v4m1-25v1m1-4v2m1 26v42m1-38v49m1-73v43m1-36v32m1-35v10m1-17v1m1 3v13m1 5v46m1-65v12m1 11v11m1-14v1m1-20v13m1-19v78m1-69v21m1-20v30m1-25v10m1-12v65m1-63v13m1-3v15m1-1v3m1-29v23m1-37v34m1-12v13m1-20v64m1-56v42m2-41v1m1 4v46m1-67v20m1-8v10m1-14v35m1-37v18m1-15v1m1-1v32m1-43v63m1-62v62m1-44v24m1-39v61m2-49v57m1-88v1m1 24v2m1-19v42m1-36v23m1-26v1m1 10v66m1-60v38m1-37v9m1-15v1m1-7v6m1-9v51m1-43v29m1-37v44m1-42v38m2-32v24m1-21v23m1-25v29m1-33v27m1-12v6m1-29v28m1-7v18m1-41v2m1 15v59m1-74v1m1 0v22m1-4v5m1-19v28m1-10v1m1-38v10m1 7v22m1-6v26m1-45v26m1-4v18m1-29v12m1 16v38m1-64v18m1-26v60m1-53v34m1-26v3m1-19v30m1-29v1m1 13v27m1-43v2m1 8v30m1-32v13m1-21v55m1-48v5m1 13v41m1-76v12m1 22v50m1-66v40m1-23v27m1-46v16m1-16v9m1-10v16m1-11v15m1-23v13m1 6v12m1-28v59m1-68v14m1 8v24m1-44v61m1-57v17m1-21v5m1-10v81m2-52v11m1-24v3m1-15v16m1-13v8m1 8v26m1-38v9m1-16v14m1 3v42m1-56v52m1-56v5m1 10v63m1-39v34m1-68v32m1-25v6" stroke="url(#gd)" stroke-width="0.45" fill="none" vector-effect="non-scaling-stroke" opacity="0.65"/>
<path d="M1 82v166m2-159v178m1-171v176m9-176v156m6-158v156m4-161v174m2-178v170m4-174v159m9-148v165m7-166v156m2-164v174m3-177v170m11-163v161m3-166v176m1-181v173m7-168v177m1-181v161m4-160v174m5-185v199m3-208v195m1-188v185m3-193v208m5-219v195m2-209v219m1-217v222m2-225v225m2-229v253m5-244v227m19-188v170m4-165v180m3-191v176m1-169v177m11-167v154m4-149v170m2-167v171m3-176v172m10-182v168m4-165v171m4-162v144m1-149v183m3-188v170m10-166v162m2-163v154m3-136v152m3-157v164m3-170v168" stroke="url(#gd)" stroke-width="0.62" fill="none" vector-effect="non-scaling-stroke" opacity="0.85"/>
<path d="M0 94v146m7-145v172m3-169v166m1-175v166m1-164v168m2-164v152m1-150v152m1-148v154m2-159v153m2-159v146m1-150v170m1-179v179m5-168v174m5-177v166m2-155v140m1-142v158m5-163v161m1-158v173m2-174v160m3-166v174m7-175v153m1-167v174m8-166v183m1-171v156m4-164v170m2-169v169m5-176v187m7-200v176m7-180v189m12-211v230m3-239v213m2-211v226m2-229v221m2-213v235m1-224v203m6-176v174m1-172v173m5-164v148m2-156v164m2-156v159m1-168v179m7-174v166m3-172v180m2-171v172m1-173v169m5-168v175m1-167v152m8-150v150m1-153v175m1-183v172m1-172v200m2-192v158m2-159v174m3-175v174m2-172v166m10-167v163m2-159v163m2-172v183m2-181v156m2-150v152m5-153v177m2-179v154m6-155v158m2-153v164" stroke="url(#gd)" stroke-width="0.62" fill="none" vector-effect="non-scaling-stroke" opacity="1.0"/>
<path d="M2 94v161m4-159v157m2-178v183m9-171v160m11-154v175m2-183v161m1-155v175m6-179v178m5-189v198m6-181v172m3-184v170m4-155v151m3-159v167m2-171v162m8-166v170m2-165v180m1-176v163m7-190v194m6-207v198m3-180v177m3-187v190m1-205v228m1-219v216m3-231v215m7-238v242m2-233v241m4-214v216m3-207v203m1-204v200m1-193v191m2-189v192m5-192v204m3-209v196m5-180v183m3-176v165m4-166v165m3-183v192m3-191v200m1-186v163m1-161v182m8-175v140m9-145v171m5-164v155m4-152v159m4-173v174m10-178v188m3-189v169m2-160v178m4-175v159m2-171v175m7-156v153" stroke="url(#wd)" stroke-width="0.62" fill="none" vector-effect="non-scaling-stroke" opacity="0.9"/>
<path d="M5 86v168m4-162v154m15-167v179m2-166v170m7-168v145m3-154v161m3-146v141m5-150v176m5-175v158m3-159v158m4-161v169m1-178v183m2-190v174m7-168v164m9-166v183m1-186v179m3-185v196m1-187v166m3-177v206m10-220v197m5-218v225m16-193v196m4-198v206m1-199v184m2-176v188m9-202v194m6-176v162m11-162v165m2-174v178m3-160v158m6-157v167m4-184v175m6-157v156m2-152v177m4-177v177m3-178v158m2-155v152m2-159v162m14-153v145m3-150v149m2-150v189m2-183v156" stroke="url(#cd)" stroke-width="0.62" fill="none" vector-effect="non-scaling-stroke" opacity="0.9"/>
<path d="M0 134l1 75 1 16 1 35 1-106 1 90 1 4 1-52 1-123 1 168 1-143 1 100 1-24 1 64 1-124 1 18 1 99 1 6 1-111 1 63 1 34 1-40 1-22 1 90 1-117 1-38 1 155 1-36 1-55 1-31 1-14 1 85 1-43 1 15 1 26 1-15 1 17 1 26 1-91 1 39 1 76 1-24 1-2 1-16 1-28 1 36 1-80 1 52 1 58 1-68 1 10 1-61 1 111 1-7 1-39 1 44 1-63 1 71 1-76 1 47 1-95 1 84 1-57 1 12 1-58 1 63 1-36 1 95 1-73 1-30 1 134 1-53 1-60 1 83 1 15 1-100 1 31 1 35 1-43 1 27 1-40 1-23 1 74 1-47 1 33 1 51 1 39 1-20 1-137 1 80 1-39 1 102 1-56 1-4 1-87 1 128 1-8 1-93 1 78 1-135 1 97 1-2 1 28 1-49 1 77 1-93 1 40 1 76 1-166 1 60 1 5 1-53 1 26 1 104 1-59 1 20 1-118 1 93 1-57 1 93 1 5 1 0 1-35 1 23 1-70 1 11 1 102 1-14 1-26 1 38 1-89 1-47 1-20 1 126 1-79 1 106 1-66 1-5 1 78 1-1 1 1 1-82 1 0 1-14 1 79 1 6 1 0 1-111 1 132 1-15 1-13 1-30 1-11 1-66 1 123 1-39 1-88 1 132 1-50 1-96 1 28 1 96 1-68 1 25 1-21 1 69 1-44 1-32 1 130 1-60 1 4 1-11 1 6 1 29 1 14 1-145 1 77 1 34 1-24 1-34 1 51 1-33 1 15 1-63 1-20 1 10 1 70 1-64 1-36 1 130 1-55 1 14 1-16 1 47 1 19 1-61 1 70 1-14 1-139 1 42 1 3 1 72 1 29M0 116l1 71 1-32 1-29 1 118 1-7 1-52 1 18 1-25 1 46 1 0 1 12 1-120 1-18 1 50 1 39 1 26 1-110 1 27 1 51 1 33 1 1 1-58 1 16 1 34 1 45 1-40 1 45 1-130 1-20 1-18 1 144 1-61 1 51 1-33 1 7 1 11 1-98 1 51 1 140 1-90 1 72 1-125 1 17 1 32 1-10 1 10 1-13 1 16 1-59 1 28 1 60 1-35 1-80 1 27 1 72 1 24 1-28 1-75 1 96 1-77 1-7 1-70 1 167 1-133 1 34 1-5 1 71 1-123 1 143 1 2 1-23 1-4 1 18 1-98 1 34 1-13 1-42 1 73 1-36 1 46 1 39 1-27 1-1 1-19 1-86 1 2 1 125 1-65 1-19 1-38 1-15 1 172 1-124 1 54 1 54 1-41 1 10 1-53 1-21 1 31 1 10 1 47 1-22 1-4 1 42 1-54 1 53 1 15 1-113 1 3 1 74 1-38 1 76 1-70 1-19 1 22 1-116 1 164 1 33 1-6 1-92 1 49 1-133 1 85 1 109 1-56 1-16 1-63 1 70 1-123 1 99 1-4 1 49 1-26 1-56 1 57 1-124 1 68 1 6 1 27 1-72 1 72 1 39 1-43 1-101 1 150 1-88 1 64 1-131 1 149 1-33 1-72 1 14 1-39 1-15 1 60 1 98 1 4 1-162 1 50 1 63 1-3 1-30 1 65 1-20 1 33 1-8 1-39 1 3 1-38 1 46 1-105 1 23 1 138 1-61 1 36 1-26 1-89 1 98 1 1 1 20 1-105 1-51 1 68 1-53 1 68 1-80 1 155 1-60 1-22 1 31 1 25 1-18 1-110 1 33 1-8 1 13 1 96 1 7 1 33 1-107 1 41M0 226l1 15 1-63 1 46 1-2 1 6 1 20 1-69 1 67 1-71 1 46 1-42 1-46 1 30 1 83 1-110 1 72 1-100 1 82 1-81 1 52 1-6 1 87 1-11 1 25 1-3 1-79 1 79 1-21 1 2 1-59 1-11 1-28 1 8 1-41 1 139 1-6 1-76 1 13 1-16 1 24 1 15 1 72 1-119 1 84 1-13 1-19 1-56 1-39 1 4 1 51 1 18 1-42 1 94 1-107 1 102 1-51 1-9 1-29 1 75 1 1 1 35 1-79 1-16 1 96 1-138 1 134 1-103 1 14 1 74 1 13 1-1 1-37 1-9 1 55 1-2 1-110 1 77 1 11 1-28 1-28 1 33 1 11 1 32 1-45 1 18 1 22 1-109 1-12 1 79 1-66 1-53 1 125 1-139 1 70 1 60 1-11 1 42 1-112 1 34 1 53 1 19 1-40 1-91 1 38 1 56 1-57 1-51 1 99 1 86 1-80 1-85 1 99 1-43 1-33 1 86 1 24 1-106 1 52 1-28 1 2 1 26 1 37 1 23 1 18 1-130 1 109 1-2 1 21 1-97 1 82 1-85 1-33 1 127 1-59 1-2 1-58 1 31 1 17 1 38 1 22 1-137 1 126 1-11 1 27 1-78 1 79 1-2 1-58 1-71 1 46 1-52 1 69 1 68 1-66 1 71 1-99 1 71 1-79 1 26 1-37 1 83 1-48 1-20 1 129 1-181 1 116 1-18 1-15 1 60 1-95 1 77 1 15 1 9 1-2 1-18 1-38 1 13 1 39 1-82 1 109 1-131 1 57 1-22 1 37 1-71 1-24 1 23 1 114 1-72 1 46 1-6 1-38 1 47 1 16 1-93 1 94 1-110 1 103 1 12 1-84 1 64 1-37M0 132l1 135 1-97 1-8 1 75 1 10 1-49 1 44 1-69 1-37 1 105 1-18 1 14 1-30 1-9 1 41 1-81 1 44 1 35 1 15 1-63 1 19 1-126 1 23 1 123 1-109 1 76 1 5 1-88 1 82 1-8 1 3 1 57 1-50 1 6 1-53 1 63 1 29 1 31 1 4 1-71 1-29 1-19 1 18 1 23 1-62 1 82 1-123 1 164 1-111 1 75 1-13 1-66 1-57 1 114 1-43 1 88 1 5 1-3 1-33 1-104 1 89 1 19 1-28 1-22 1 52 1-40 1 3 1 43 1-123 1 98 1 3 1-4 1-117 1 104 1 10 1-42 1 57 1 21 1-105 1 84 1-70 1-71 1 180 1-71 1-90 1 26 1 107 1-16 1-135 1 2 1 99 1-18 1-4 1 29 1-70 1-32 1 172 1-136 1 12 1 64 1-16 1 35 1-35 1-79 1 129 1-77 1-101 1 165 1 5 1-18 1 1 1-14 1-3 1-39 1 122 1-42 1-31 1-92 1 84 1-47 1 100 1-13 1-36 1-46 1 88 1-86 1 54 1 40 1-54 1-18 1 76 1-82 1 16 1 5 1 20 1-38 1-12 1-42 1 111 1-13 1 56 1-89 1-53 1 113 1-59 1 60 1-97 1 114 1-151 1 161 1-92 1 68 1-21 1 1 1-2 1-42 1-67 1 108 1-92 1 121 1 12 1-111 1-8 1 81 1-108 1 130 1-11 1-112 1-13 1 149 1-36 1 27 1-21 1 15 1 7 1-117 1 34 1 51 1-41 1 74 1-11 1-80 1-8 1-1 1 99 1-25 1 8 1-131 1 86 1 39 1-20 1 27 1-92 1 105 1-55 1-70 1-18 1 11 1 117 1 15 1-85 1 45M0 108l1 87 1 53 1-3 1-57 1-39 1-16 1 129 1-17 1-77 1 77 1-65 1 0 1 50 1-4 1-58 1 65 1-66 1-70 1 136 1-20 1-29 1-52 1 16 1 84 1 12 1-86 1 38 1 124 1-85 1-15 1-104 1 57 1-42 1 85 1 12 1 14 1 8 1-59 1-87 1 56 1 101 1-66 1 57 1-16 1 38 1-83 1 65 1-6 1-77 1 22 1 39 1 6 1-93 1-26 1 39 1 101 1-104 1-1 1-27 1 75 1-26 1-75 1 104 1 25 1 7 1-85 1 34 1 40 1 30 1 4 1-18 1-64 1 27 1-48 1-34 1 123 1-1 1-120 1 26 1 39 1-21 1 49 1 39 1-47 1-27 1-31 1 50 1-59 1 86 1-78 1 53 1-41 1-48 1 116 1 10 1-30 1-132 1 80 1-84 1-30 1 24 1 78 1-52 1 56 1 35 1-14 1-71 1 20 1 62 1 61 1 1 1-17 1-4 1-119 1 46 1 70 1-68 1-54 1 5 1 83 1-44 1 77 1-62 1-74 1 136 1-19 1 48 1-64 1-104 1-18 1 84 1 10 1-44 1 11 1 18 1-18 1 16 1 82 1-4 1-121 1 62 1-32 1 106 1-16 1 17 1-42 1-13 1 66 1-49 1 42 1-24 1-62 1 48 1 49 1-102 1 56 1-24 1 46 1-70 1-13 1 28 1-94 1 88 1-5 1 4 1-33 1 102 1-71 1-53 1 71 1-46 1 119 1-142 1 86 1-18 1 11 1-43 1 80 1 0 1-46 1-27 1 72 1-41 1-60 1 83 1-3 1-38 1-48 1 118 1-19 1 22 1-108 1-3 1 36 1 30 1 35 1-78 1 83 1-7 1-34 1 4 1 23M0 153l1-13 1 47 1 66 1-23 1-2 1 23 1-104 1 51 1 31 1-4 1 25 1-14 1 16 1-20 1-22 1-51 1-70 1 47 1 50 1-96 1 140 1 20 1-74 1 76 1-134 1 7 1 102 1 39 1-100 1 79 1-104 1-12 1 48 1-80 1 153 1-60 1 9 1-10 1-83 1-4 1 100 1 62 1-165 1 18 1 65 1-32 1 62 1 9 1-92 1 73 1-9 1-74 1 20 1 89 1-29 1-75 1 57 1 42 1-24 1-34 1 25 1-45 1 76 1 29 1-43 1-62 1 58 1 45 1-23 1 35 1-58 1-17 1-67 1 78 1 10 1 31 1-74 1 3 1-55 1 155 1-115 1-34 1 40 1-37 1 111 1-50 1-70 1 135 1-51 1 30 1 16 1-146 1 17 1-35 1 213 1-111 1-53 1-42 1 86 1 11 1-54 1-45 1 24 1 125 1-136 1 20 1 63 1-1 1-8 1 49 1 24 1-118 1 12 1 64 1 46 1-56 1 19 1-113 1 135 1-23 1-66 1 51 1-39 1 47 1 32 1-67 1-12 1 74 1-23 1-13 1-76 1 156 1-126 1-51 1 52 1-28 1 22 1-64 1 80 1-40 1 48 1-44 1 9 1 61 1 30 1-103 1 124 1-35 1-117 1 66 1 67 1-22 1 34 1 5 1-120 1 40 1 81 1-5 1-73 1 65 1-16 1-103 1 50 1 42 1-55 1 15 1 64 1-27 1 47 1 16 1-153 1 77 1-25 1-34 1 121 1-101 1-22 1 54 1-11 1 95 1-168 1 131 1-106 1 88 1-18 1-15 1 46 1-18 1 3 1 21 1 1 1-55 1 37 1-80 1 43 1 52 1 0 1-59 1 51 1 57 1-69 1-38" stroke="url(#wd)" stroke-width="0.3" fill="none" vector-effect="non-scaling-stroke" stroke-linejoin="round" opacity="0.8"/>
<path d="M0 154l1-15 1 23 1-51 1 58 1 38 1-38 1 79 1-168 1 154 1-36 1 22 1-89 1 48 1 28 1-13 1 52 1-82 1-1 1 47 1-4 1-55 1 36 1-11 1-17 1 29 1-35 1 4 1 45 1 22 1-79 1 49 1 42 1-72 1-62 1 26 1 83 1 13 1-51 1 13 1 6 1 43 1-50 1 23 1-31 1-36 1 60 1-72 1 105 1-47 1 17 1-67 1-6 1 80 1 14 1 10 1 25 1-111 1 38 1 56 1-51 1 40 1-113 1 33 1-39 1 132 1-94 1-19 1 100 1-82 1 52 1-31 1 3 1 18 1-66 1 124 1-60 1 61 1-83 1-5 1 69 1-105 1 8 1-58 1 145 1-105 1 19 1 19 1-54 1 107 1-98 1 93 1-112 1-20 1 101 1 103 1-81 1-134 1-20 1 81 1 11 1-59 1 179 1-120 1 128 1-163 1 119 1-159 1 45 1 61 1 49 1-31 1 10 1 38 1 24 1-13 1-60 1-41 1 79 1-109 1 156 1-27 1-40 1 21 1-49 1 64 1-54 1-45 1 57 1 64 1-147 1 70 1 64 1-113 1 113 1-92 1 54 1-81 1 26 1 85 1-58 1 83 1-103 1 94 1-96 1 77 1-2 1-128 1 135 1 1 1-28 1-9 1-19 1-56 1 5 1 47 1 58 1 19 1-76 1 68 1-19 1-15 1-61 1-38 1 89 1 8 1-67 1-38 1 68 1 48 1-73 1 46 1-1 1-79 1 133 1-13 1-133 1 30 1 69 1-58 1 86 1-49 1-8 1 141 1-138 1 2 1-89 1 46 1 89 1 43 1-68 1-65 1 38 1 82 1-81 1 51 1-39 1 8 1-69 1 35 1 131 1-114 1-3M0 198l1-43 1 90 1-109 1 78 1 35 1-129 1-5 1 128 1-12 1-57 1 13 1 38 1-77 1 22 1 43 1-7 1-92 1 110 1-73 1-3 1-3 1-39 1 111 1 13 1-4 1 4 1-68 1-43 1 120 1-21 1-46 1 26 1-19 1-36 1 83 1-120 1 99 1-22 1 39 1 27 1-103 1 113 1-123 1 76 1-50 1 74 1-115 1 141 1-88 1-59 1 106 1-40 1-44 1 91 1-91 1 3 1 120 1-159 1 47 1-35 1 132 1-78 1 15 1-31 1-51 1 51 1 94 1-30 1 15 1 18 1-144 1-13 1 27 1 112 1-30 1 23 1 23 1-168 1 159 1-36 1 24 1 37 1-169 1 142 1-41 1 40 1-45 1-52 1 44 1 44 1 24 1-124 1 67 1-2 1 16 1 0 1-34 1-4 1-27 1 73 1 6 1-76 1-41 1-61 1 97 1 30 1-10 1 75 1 28 1-23 1-51 1-100 1 25 1 80 1-114 1 102 1 61 1-115 1 63 1-26 1-37 1 103 1-19 1 6 1-76 1 105 1 1 1-158 1 18 1 146 1-132 1 124 1-65 1 24 1-48 1-12 1 16 1 57 1 2 1-68 1 70 1-79 1 0 1-45 1 134 1-15 1-81 1-1 1 68 1 64 1-47 1-77 1 72 1-15 1-74 1 43 1 87 1-10 1-58 1 2 1-15 1 60 1-37 1-72 1-11 1-1 1-15 1 72 1-48 1 35 1-67 1 74 1 23 1 36 1 42 1-161 1 118 1-28 1-15 1-61 1 82 1-38 1 2 1-30 1-40 1 87 1-8 1 60 1 1 1-19 1-2 1-45 1 41 1-30 1 57 1-126 1 107 1-21 1 32 1-100 1 8 1 35M0 134l1 13 1 61 1-14 1 67 1-65 1 20 1-11 1 2 1-1 1 114 1-139 1-12 1-31 1 97 1-22 1-60 1 133 1-44 1-42 1 17 1-14 1-52 1-35 1 37 1 109 1-57 1-41 1 113 1-123 1 60 1-70 1 83 1-69 1-4 1-24 1 95 1-94 1 29 1 6 1 21 1-5 1-84 1 152 1 0 1-97 1 69 1-116 1 100 1-80 1 46 1 73 1-50 1-109 1 70 1-15 1 97 1 19 1-116 1 88 1-40 1 41 1-7 1-110 1 4 1 127 1-67 1-88 1 98 1-85 1 162 1-112 1 84 1-38 1-61 1 25 1 90 1-106 1 21 1 13 1 18 1-129 1 195 1-122 1 116 1-166 1 137 1-3 1-75 1 98 1-122 1 141 1-7 1-27 1-46 1 37 1-132 1-36 1 152 1 10 1-48 1 105 1-86 1-73 1 7 1 90 1-50 1 71 1-45 1-34 1 92 1-8 1-43 1-44 1 43 1-104 1 125 1-53 1 50 1-66 1 76 1 78 1-169 1-29 1-27 1 118 1 20 1-51 1 16 1-49 1 62 1 27 1-144 1 50 1 7 1-29 1 136 1-71 1 48 1-8 1-76 1 102 1-74 1-11 1 43 1-12 1 28 1-34 1-56 1 96 1-96 1 107 1-109 1-22 1 66 1 87 1-2 1-133 1 114 1-26 1-26 1 7 1 6 1-54 1 118 1-24 1-85 1-42 1 55 1-11 1 11 1 44 1-87 1 89 1-62 1 8 1 60 1-38 1-22 1 13 1-5 1-41 1 53 1-80 1 153 1-41 1-76 1 22 1-57 1 77 1 85 1-10 1-12 1 30 1-111 1 89 1-35 1 10 1-52 1 72 1-5 1-61 1-18M0 214l1-85 1 51 1 41 1 31 1-64 1-11 1 9 1-63 1 74 1-33 1 46 1-117 1 101 1 28 1-104 1 146 1-164 1 125 1 17 1-77 1 137 1-103 1-86 1 117 1-36 1 43 1-80 1 51 1 30 1-29 1-87 1 91 1 40 1-108 1 8 1 93 1-7 1-119 1 25 1 98 1-21 1-1 1 24 1-142 1 141 1-10 1-58 1-40 1-33 1 17 1 67 1 29 1 1 1-131 1 15 1 152 1-137 1 135 1-21 1-71 1-24 1 29 1-5 1 12 1 40 1-97 1 97 1-6 1-21 1-15 1-25 1 22 1-46 1-25 1 65 1 87 1-125 1 8 1 106 1-39 1 36 1 42 1-124 1 31 1 31 1-1 1-77 1 59 1-93 1-15 1 176 1-194 1 29 1 132 1-76 1 97 1-151 1 70 1-47 1-73 1 121 1-39 1-17 1 66 1 38 1-169 1 153 1-128 1 87 1-45 1 45 1-58 1-5 1 45 1 101 1-30 1-13 1-56 1 73 1-46 1 77 1-21 1-133 1-10 1 51 1-48 1 50 1-43 1 152 1-32 1-18 1-45 1 82 1 1 1-105 1 34 1 74 1-52 1-48 1 98 1-93 1 23 1 24 1 6 1-79 1 87 1 12 1-115 1 110 1-63 1 75 1-108 1 143 1-126 1 65 1-9 1 92 1-45 1-49 1 63 1-48 1 61 1-69 1-91 1 164 1-33 1 20 1-34 1-44 1-13 1-45 1 88 1-12 1 8 1 41 1-113 1 40 1-41 1 101 1 8 1-96 1 25 1 3 1-54 1 12 1-32 1 82 1 10 1-13 1-8 1-41 1-25 1 188 1-215 1 165 1-6 1-38 1 15 1 12 1-28 1-1 1 26M0 101l1 40 1 101 1-72 1-7 1 44 1-1 1-1 1 34 1 5 1-79 1 76 1 14 1-13 1-41 1-43 1 25 1 10 1-41 1 4 1 46 1 10 1-65 1-14 1 19 1 149 1-69 1 22 1-50 1-48 1 59 1 9 1-58 1 3 1-45 1 119 1-68 1 9 1 11 1 25 1-46 1 71 1-14 1-44 1 53 1-31 1-102 1 54 1 57 1-25 1 29 1-53 1 2 1 93 1-171 1 88 1 66 1 8 1-40 1 25 1-68 1 70 1-14 1 9 1-104 1 96 1-58 1 51 1 3 1-88 1 96 1-85 1 63 1 3 1-107 1 140 1-16 1-34 1-51 1 55 1-75 1 56 1 49 1-87 1 28 1 15 1-64 1-4 1 79 1-49 1-4 1 43 1 35 1-76 1-72 1-14 1 68 1-17 1-42 1 4 1 59 1 90 1 18 1-158 1 169 1-50 1-60 1 34 1 23 1 4 1 17 1-17 1-8 1 46 1-40 1-87 1-6 1 106 1-30 1 39 1-42 1 25 1-41 1-71 1 106 1-49 1 12 1 85 1-92 1 86 1-48 1-83 1 48 1 34 1-77 1 10 1 2 1 29 1 95 1-160 1 44 1-37 1 19 1-1 1 61 1-8 1 30 1-75 1-13 1 76 1 22 1-51 1 24 1 8 1 16 1-117 1 118 1 11 1-36 1-19 1 16 1-31 1 78 1-55 1 48 1-24 1 54 1-122 1 25 1-25 1 108 1-46 1 68 1-109 1-3 1 72 1-15 1 17 1-43 1 9 1-40 1 11 1-21 1 72 1 35 1-156 1 132 1 10 1 23 1-4 1-77 1 65 1-24 1 8 1 2 1-113 1 90 1 25 1-35 1-44 1 56 1 36 1-63M0 121l1 106 1-65 1 99 1 6 1-64 1-27 1 89 1-92 1-62 1 77 1-42 1 39 1 32 1-55 1-30 1 31 1 74 1-69 1-65 1 120 1-16 1 19 1-41 1 4 1 46 1-132 1 78 1 45 1 1 1-63 1 29 1-6 1-33 1 52 1 1 1 39 1-65 1 30 1-20 1-10 1 84 1-131 1 72 1-28 1 5 1 6 1 32 1 10 1-51 1 48 1-11 1-41 1 37 1-1 1 4 1 16 1-56 1 3 1-110 1 24 1 42 1 80 1 22 1-24 1-31 1-93 1 156 1-51 1-74 1 38 1 18 1 29 1 21 1 24 1-54 1 1 1-10 1-20 1-27 1-5 1 42 1-57 1 141 1-140 1 56 1 42 1 20 1-4 1 3 1-51 1 3 1-74 1 97 1-52 1 54 1-8 1 32 1-95 1 1 1 20 1 24 1-124 1 66 1-80 1 148 1 12 1 18 1 43 1-203 1 12 1 64 1-61 1 154 1-172 1 124 1 0 1-7 1-14 1 60 1-131 1 109 1-42 1-68 1 148 1-28 1-6 1-1 1 36 1-75 1 21 1-32 1-48 1 32 1-62 1 61 1 57 1-128 1 32 1 103 1-62 1 6 1-16 1 9 1 51 1-16 1 23 1 36 1 6 1 6 1-5 1-37 1-28 1-52 1 50 1 78 1-15 1-90 1 105 1-59 1-46 1-64 1 63 1 38 1-63 1 32 1 85 1-27 1-7 1 23 1 3 1-146 1 44 1 64 1-84 1 73 1 38 1-106 1 115 1-25 1 34 1-87 1-4 1 41 1 47 1 2 1-93 1 30 1 68 1-6 1-109 1 32 1-64 1 40 1 99 1 6 1-20 1-49 1-65 1 81 1 57 1-111 1 33" stroke="url(#cd)" stroke-width="0.3" fill="none" vector-effect="non-scaling-stroke" stroke-linejoin="round" opacity="0.8"/>
<path d="M95 237v75M90 233v53M62 249v40M49 240v71M68 235v75M48 246v55M86 243v72M39 240v80M79 254v39M144 230v75M189 258v21M111 254v52M194 235v75M126 240v64" stroke="#0005ff" stroke-width="0.45" fill="none" vector-effect="non-scaling-stroke" opacity="0.75"/>
<path d="M96.2 41.6L97.47 16L98.73 41.6ZM104.28 43.2L105.54 16L106.81 43.2ZM100.24 36.8L101.5 36L102.77 36.8ZM91.15 55.2L92.42 51.2L93.68 55.2ZM113.37 69.28L114.64 40.8L115.9 69.28ZM120.59 78.24L121.71 58.4L122.82 78.24ZM79.18 78.24L80.3 68.8L81.41 78.24ZM57.97 91.92L59.08 68.8L60.2 91.92ZM47.37 96.16L48.48 89.6L49.59 96.16ZM146.85 94.32L147.97 79.6L149.08 94.32ZM157.46 96.56L158.57 82.8L159.68 96.56ZM85.75 69.92L86.86 56L87.97 69.92ZM108.47 55.2L109.58 36L110.7 55.2ZM-.29 99.96L.51 88L1.3 99.96ZM200.7 99.96L201.5 92L202.29 99.96Z" fill="url(#sd)"/>
<path d="M97.47 0V41.6M105.54 0V43.2M101.5 20V36.8M92.42 35.2V55.2M114.64 24.8V69.28M121.71 42.4V78.24M80.3 52.8V78.24M59.08 52.8V91.92M48.48 73.6V96.16M147.97 63.6V94.32M158.57 66.8V96.56M86.86 40V69.92M109.58 20V55.2M.51 72V99.96M201.5 76V99.96" stroke="url(#sd)" stroke-width="0.7" vector-effect="non-scaling-stroke" fill="none"/>
</g></g>
<path d="M271.15 150.7V248.2" stroke="#7a6a70" stroke-width="0.35" opacity="0.55"/>
<path d="M207.5 148.2H334.8V248.2" stroke="#d2d2d6" stroke-width="0.5" fill="none"/>
<path d="M207.5 148.2V248.2H334.8" stroke="#b4b4bc" stroke-width="0.55" fill="none"/>
<text x="206.3" y="150.1" font-size="4.3" text-anchor="end">0</text>
<text x="206.3" y="162.6" font-size="4.3" text-anchor="end">-10</text>
<text x="206.3" y="175.1" font-size="4.3" text-anchor="end">-20</text>
<text x="206.3" y="187.6" font-size="4.3" text-anchor="end">-30</text>
<text x="206.3" y="200.1" font-size="4.3" text-anchor="end">-40</text>
<text x="206.3" y="212.6" font-size="4.3" text-anchor="end">-50</text>
<text x="206.3" y="225.1" font-size="4.3" text-anchor="end">-60</text>
<text x="206.3" y="237.6" font-size="4.3" text-anchor="end">-70</text>
<text x="206.3" y="250.1" font-size="4.3" text-anchor="end">-80</text>
<text x="207.5" y="254.6" font-size="4.4" text-anchor="middle">-200</text>
<text x="223.41" y="254.6" font-size="4.4" text-anchor="middle">-150</text>
<text x="239.32" y="254.6" font-size="4.4" text-anchor="middle">-100</text>
<text x="255.24" y="254.6" font-size="4.4" text-anchor="middle">-50</text>
<text x="271.15" y="254.6" font-size="4.4" text-anchor="middle">0</text>
<text x="287.06" y="254.6" font-size="4.4" text-anchor="middle">50</text>
<text x="302.98" y="254.6" font-size="4.4" text-anchor="middle">100</text>
<text x="318.89" y="254.6" font-size="4.4" text-anchor="middle">150</text>
<text x="334.8" y="254.6" font-size="4.4" text-anchor="middle">200</text>
<text x="271.55" y="260.1" font-size="5" text-anchor="middle">Doppler/Hz</text>
<text transform="translate(198.1 198.2) rotate(-90)" font-size="4.85" text-anchor="middle">Normalized received power/dB</text>
<text x="268.15" y="274.5" font-size="8.2" text-anchor="middle" fill="#555">(<tspan font-weight="bold" fill="#222">d</tspan>)</text>
<path d="M33.41 287.4V387.5M49.33 287.4V387.5M65.24 287.4V387.5M81.15 287.4V387.5M97.06 287.4V387.5M112.98 287.4V387.5M128.89 287.4V387.5M17.5 374.99H144.8M17.5 362.48H144.8M17.5 349.96H144.8M17.5 337.45H144.8M17.5 324.94H144.8M17.5 312.42H144.8M17.5 299.91H144.8" stroke="#ebebeb" stroke-width="0.5" fill="none"/>
<g filter="url(#bl)"><g transform="translate(17.5 287.4) scale(0.63020 0.31281)">
<path d="M0 1L1 20L2 30L3 38L4 45L5 45L6 46L7 51L8 52L9 56L10 60L11 62L12 64L13 59L14 66L15 61L16 63L17 64L18 68L19 68L20 69L21 71L22 69L23 70L24 71L25 72L26 74L27 77L28 73L29 76L30 78L31 73L32 76L33 74L34 73L35 80L36 77L37 76L38 77L39 78L40 81L41 76L42 75L43 79L44 82L45 77L46 81L47 73L48 82L49 73L50 81L51 86L52 82L53 81L54 84L55 83L56 81L57 82L58 79L59 81L60 80L61 76L62 79L63 79L64 83L65 82L66 77L67 84L68 85L69 81L70 81L71 84L72 85L73 80L74 77L75 85L76 83L77 83L78 86L79 83L80 85L81 82L82 78L83 81L84 79L85 81L86 85L87 86L88 82L89 87L90 81L91 79L92 84L93 83L94 84L95 84L96 80L97 85L98 85L99 86L100 80L101 80L102 81L103 83L104 87L105 83L106 85L107 84L108 79L109 80L110 86L111 87L112 82L113 84L114 85L115 86L116 83L117 85L118 88L119 84L120 81L121 85L122 78L123 79L124 78L125 81L126 80L127 82L128 84L129 85L130 80L131 86L132 89L133 84L134 86L135 83L136 85L137 86L138 78L139 86L140 78L141 81L142 86L143 85L144 80L145 88L146 82L147 82L148 86L149 82L150 87L151 87L152 80L153 86L154 86L155 85L156 81L157 85L158 85L159 85L160 85L161 86L162 87L163 85L164 84L165 88L166 88L167 86L168 86L169 82L170 81L171 79L172 87L173 88L174 87L175 79L176 84L177 88L178 78L179 79L180 87L181 86L182 86L183 85L184 87L185 80L186 82L187 84L188 87L189 82L190 85L191 88L192 86L193 86L194 83L195 86L196 83L197 78L198 88L199 88L200 81L201 82L202 88L202 212L0 212Z" fill="url(#ge)" opacity="0.5"/>
<path d="M0 238v44m1-36v3m1-1v17m1-36v13m1-19v27m1-11v16m1-22v2m1-12v32m1-36v30m1-24v47m1-54v2m1 13v87m1-76v15m1-42v1m1 14v64m1-70v10m1-14v45m1-38v84m1-89v6m1-3v1m1 7v5m1-16v60m1-56v9m1-8v12m1-13v10m1-16v2m1 21v75m1-89v20m2-13v2m1-5v6m1-24v24m2-19v74m1-52v24m2-27v48m1-47v17m1-17v3m1-18v69m1-57v21m1-38v11m1-12v26m1-20v6m1 2v1m1-3v19m1-31v19m1-10v15m1-14v18m2-18v6m1-20v20m1-3v5m1-18v23m1-38v20m1 9v26m1-13v21m1-29v6m1-7v29m1-32v22m1-8v1m1-13v13m1-33v17m1 4v7m1-16v32m1-26v68m1-77v11m1-5v49m1-47v19m1-35v14m1 10v3m1-28v32m1-32v12m1 3v10m1-27v26m1-6v84m1-81v33m1-49v9m1 3v4m1-10v3m1 1v32m1-19v19m1-35v4m1-4v37m1-46v30m1-9v9m1-7v5m1-29v3m1 8v22m1-26v11m1-8v24m1-14v14m1-8v16m1-40v5m1-15v47m1-9v54m1-76v7m1 0v11m1-7v17m1-11v10m1-28v33m1-34v11m1-7v21m1-18v8m1-12v9m1-14v9m1 16v64m2-88v13m1-12v6m1-10v48m1-24v13m1-34v42m1-30v30m1-37v34m1-50v58m1-43v41m1-24v31m1-56v67m1-70v15m1-3v1m1 26v4m1-28v1m1-17v22m1-24v12m1 8v9m1-15v3m1-15v5m1 8v24m1-13v8m1-29v19m1-10v17m1-11v54m1-45v67m2-91v35m1-21v34m1-29v81m1-87v12m1-28v10m1 2v16m1-19v21m1-26v33m1-8v17m1-38v25m1-28v5m1 9v15m1-21v16m1-5v11m1-23v18m1-20v8m1 8v2m1-19v18m1-11v4m1-14v4m1 1v44m1-34v1m1-11v4m1-13v8m1 5v46m1-49v2m1 3v50m1-50v17m1-16v44m1-45v17m1-11v24m1-27v8m1-10v6m1 0v30m1-34v13m1 0v3m1-26v3m1 6v21m1-34v1m1-3v17m1-7v89m1-88v1m1-5v15m1-13v10m1-13v6m1-9v79m1-69v37m1-29v1m1 13v3m1-27v1m2-9v53m1-51v6m1-13v2m1-1v29m1 0v15m1-19v13m1-30v61m1-50v19m1-26v26m1-23v58m1-58v12m1-4v6m1-18v53m1-55v4m1-3v90m1-74v1m1-20v1" stroke="url(#de)" stroke-width="0.45" fill="none" vector-effect="non-scaling-stroke" opacity="0.8"/>
<path d="M24 76v152m6-145v152m2-154v139m1-141v143m3-140v159m2-159v160m1-159v144m2-147v142m4-141v152m1-147v135m3-143v131m3-122v147m2-146v118m1-119v148m7-151v134m4-136v145m3-141v133m3-129v128m5-130v135m1-132v144m1-147v141m3-146v147m10-141v157m7-155v154m5-153v137m6-138v131m7-132v156m4-156v167m6-170v130m7-126v117m6-125v146m1-143v140m2-136v156m2-153v129m5-130v135m2-142v141m6-136v129m3-129v144m7-144v151m10-158v147m11-143v133m2-128v153m3-157v144m4-139v138m3-144v159" stroke="url(#ge)" stroke-width="0.62" fill="none" vector-effect="non-scaling-stroke" opacity="0.75"/>
<path d="M1 25v221m3-196v173m3-167v167m4-156v166m2-169v153m2-151v160m1-159v155m1-154v161m1-156v151m1-151v154m1-153v161m1-159v148m13-146v166m1-159v140m7-145v141m1-137v143m5-140v144m2-145v145m7-144v153m1-156v155m3-159v158m10-149v129m2-133v148m1-151v134m1-126v146m8-150v144m1-146v137m3-130v129m2-129v136m4-139v134m1-133v123m1-123v161m1-165v143m7-141v146m2-146v137m4-139v141m3-139v138m1-136v148m9-155v151m6-145v142m1-140v151m7-151v144m3-143v126m3-126v130m4-134v149m5-145v152m3-152v132m1-133v138m16-144v143m2-134v130m3-134v143m3-148v143m4-137v166m1-164v140m1-147v127m1-125v137m1-135v137m6-135v148m4-156v160m2-150v136m3-136v134" stroke="url(#ge)" stroke-width="0.62" fill="none" vector-effect="non-scaling-stroke" opacity="0.95"/>
<path d="M0 6v232m5-188v189m1-188v182m3-173v165m5-155v162m13-151v150m2-150v157m2-160v139m6-137v162m3-156v153m4-152v148m16-150v165m8-160v145m2-149v157m6-155v151m9-153v156m1-152v154m11-154v145m5-149v144m4-140v159m5-157v154m3-156v140m1-139v123m3-122v129m2-135v144m5-144v149m8-146v155m2-156v132m2-130v149m1-156v150m9-147v144m2-143v142m13-137v142m10-143v145m3-152v147m5-139v132m12-133v137m3-138v145m1-147v147m4-149v144" stroke="url(#we)" stroke-width="0.62" fill="none" vector-effect="non-scaling-stroke" opacity="0.85"/>
<path d="M2 35v213m1-205v186m5-172v162m2-154v153m2-149v175m10-170v154m1-153v154m2-152v145m1-143v166m2-167v156m19-156v152m4-139v126m2-131v135m3-135v162m3-162v150m4-152v155m1-151v142m1-143v149m2-147v144m13-143v143m1-147v160m7-159v144m2-145v144m1-146v156m7-150v149m2-154v142m1-142v141m6-137v135m1-140v141m8-137v141m3-140v129m4-134v133m1-135v133m2-131v145m4-144v135m1-129v138m1-135v141m12-150v140m4-134v150m5-150v142m3-147v152m1-148v138m2-138v142m1-142v139m3-139v145m1-146v145m1-141v147m1-147v144m1-147v145m2-148v150m1-151v164m4-159v130m3-128v135m4-137v143m1-143v151m6-150v127m2-129v159" stroke="url(#ce)" stroke-width="0.62" fill="none" vector-effect="non-scaling-stroke" opacity="0.85"/>
<path d="M0 35l1 200 1-155 1 90 1 19 1 1 1 26 1-42 1-107 1 141 1-98 1 102 1-98 1 86 1-15 1 28 1-22 1 29 1-48 1-38 1-48 1 80 1-25 1 10 1 27 1 27 1-110 1 104 1-5 1-58 1 54 1-37 1 38 1-3 1-27 1-51 1 14 1 75 1-80 1-32 1 92 1 21 1 1 1 20 1-125 1 48 1-8 1 73 1-57 1-70 1 109 1 2 1 34 1-85 1 23 1 49 1-111 1 85 1-19 1 9 1 3 1-12 1-29 1 41 1 47 1-33 1-70 1 25 1 78 1-87 1 82 1-126 1 47 1 24 1-40 1 42 1 16 1-96 1 138 1-115 1 82 1-83 1 109 1-118 1 24 1 34 1-48 1 19 1 85 1-102 1 97 1 20 1-36 1-97 1 16 1 84 1-36 1 24 1-71 1-6 1 67 1 0 1 40 1-14 1-42 1 55 1 23 1-34 1-61 1-22 1-11 1 49 1-28 1 85 1-6 1-43 1 51 1-40 1-63 1 42 1 38 1-56 1 33 1 43 1-72 1 69 1-2 1-102 1 90 1 19 1-19 1-22 1-31 1-56 1 115 1 11 1 3 1-33 1 24 1-61 1 2 1 50 1-15 1-79 1 93 1 9 1-29 1-50 1 28 1-56 1 0 1 171 1-71 1-82 1-13 1 108 1-48 1-49 1 46 1 45 1-22 1 1 1-17 1-25 1 45 1 7 1 1 1-99 1 77 1 20 1 44 1-53 1-22 1 16 1 23 1-33 1-21 1 41 1-28 1-73 1 96 1-35 1 39 1 57 1-99 1-1 1 76 1-69 1-21 1 1 1 50 1-47 1 54 1-42 1 53 1 18 1-83 1 24 1-33 1 63 1-16 1-57 1-30M0 158l1 76 1-57 1-111 1 42 1 102 1-77 1 28 1 57 1-119 1 76 1 3 1 14 1 4 1 15 1-93 1-45 1 143 1-93 1 46 1 63 1-113 1-15 1 184 1-70 1-45 1-95 1 141 1-10 1 0 1-36 1-6 1 13 1-92 1 143 1-13 1-132 1 104 1-51 1 30 1 39 1-1 1-14 1-95 1 8 1 35 1-54 1 7 1 137 1-138 1 121 1-15 1-29 1-65 1-14 1 67 1 43 1-9 1-69 1 69 1 47 1-42 1-22 1 23 1-17 1 27 1-43 1 15 1-21 1 15 1-69 1 78 1 19 1-46 1-2 1-9 1-25 1-26 1 15 1 106 1-11 1 24 1-117 1 100 1-1 1 13 1-100 1 75 1-80 1 94 1-102 1 6 1 117 1-117 1 2 1 119 1-40 1-12 1-4 1 11 1-11 1 42 1-66 1-66 1 4 1 118 1-69 1 36 1-30 1 65 1 6 1-128 1 124 1-70 1 35 1-4 1-67 1 1 1 54 1 18 1 31 1-44 1-83 1 83 1 6 1-48 1-3 1 10 1 87 1 7 1-54 1-5 1-65 1 103 1-28 1-5 1 35 1-40 1-49 1-33 1 39 1 67 1-28 1-65 1 113 1-71 1 66 1-15 1-98 1 103 1-40 1-33 1-39 1 84 1 49 1-60 1 64 1-27 1 0 1-40 1-52 1 117 1 42 1-179 1 146 1-19 1-91 1 50 1 49 1-73 1-61 1 92 1-59 1-9 1 57 1-46 1 3 1 22 1 30 1 25 1-42 1 45 1-108 1 86 1-38 1 48 1-14 1-10 1 85 1-108 1 67 1-55 1 41 1-38 1-7 1-18 1 30 1-19 1 43 1-20 1 24 1-44 1 43M0 173l1-95 1-2 1 58 1-47 1 76 1 44 1-149 1 97 1-92 1 146 1-29 1-45 1 64 1-80 1 45 1-26 1-27 1 52 1 25 1-21 1 50 1-13 1 12 1-85 1 82 1-97 1 74 1-64 1 13 1-11 1 87 1 25 1-39 1-33 1-61 1 18 1 35 1 75 1-111 1 27 1-32 1-25 1 113 1-41 1-19 1 118 1-161 1 83 1-7 1 5 1-36 1-23 1 72 1-1 1-51 1 20 1-2 1 49 1-18 1-79 1 89 1 7 1-71 1 32 1 27 1 1 1-70 1 20 1 24 1-4 1 42 1-46 1 7 1 6 1 24 1-54 1 26 1 41 1-8 1-45 1 24 1 28 1-40 1-51 1 25 1 38 1-87 1 73 1 57 1-46 1 61 1-127 1 27 1 10 1-14 1-41 1 17 1 83 1 1 1-68 1 79 1-5 1 24 1-107 1 95 1 1 1-65 1 3 1 65 1-61 1-37 1-30 1 78 1-24 1-51 1 124 1-33 1-55 1-49 1 106 1-71 1 65 1-57 1-9 1 83 1-93 1 52 1 39 1 5 1-88 1 48 1-65 1 35 1 4 1 45 1-27 1 71 1-141 1 153 1-146 1 108 1-111 1 152 1-67 1 16 1 34 1-1 1-90 1-24 1 28 1 58 1 16 1-32 1-62 1 72 1 73 1-151 1 71 1-18 1 12 1 23 1-44 1 74 1-108 1-14 1 108 1 9 1-25 1 7 1 15 1-27 1 5 1-45 1-16 1 74 1-29 1-75 1 93 1-1 1-10 1 13 1 3 1-58 1 8 1 29 1-75 1 77 1 44 1-123 1 49 1-10 1-57 1 8 1 131 1-84 1 20 1 10 1-39 1 31 1-56 1 81 1-13M0 173l1-142 1 85 1 42 1-27 1 84 1 0 1-47 1-50 1 95 1-51 1 17 1 19 1-100 1 119 1 8 1-41 1 19 1 12 1-28 1-2 1-40 1 60 1 5 1-52 1-14 1 34 1-65 1 88 1-15 1-50 1-11 1 48 1 20 1 44 1-124 1 122 1 3 1-21 1-32 1 20 1-20 1-94 1 120 1-105 1 8 1 73 1-39 1-18 1 28 1-53 1 50 1 103 1-158 1 9 1 50 1 82 1-94 1-27 1 44 1 74 1-35 1-34 1 2 1 13 1 10 1 16 1-31 1 21 1-6 1-84 1 35 1 35 1-28 1 34 1-55 1 101 1-69 1-34 1 86 1-1 1 14 1-39 1-18 1-1 1 60 1-140 1 28 1 14 1 38 1 3 1 0 1-23 1-43 1 8 1 131 1-124 1 110 1-131 1 135 1-97 1 30 1-50 1 41 1 22 1-31 1 40 1-10 1 15 1-73 1 90 1-45 1 2 1 48 1-8 1-122 1 54 1-28 1 94 1-94 1 12 1 51 1-70 1 42 1-50 1 62 1-12 1 12 1 39 1 35 1-113 1 80 1-23 1-43 1 62 1 14 1-23 1 28 1-35 1-43 1 17 1 17 1 22 1 41 1-26 1-54 1 76 1-138 1 122 1-42 1-38 1 75 1-4 1-84 1 81 1-66 1-25 1 69 1 21 1-32 1 47 1-52 1-57 1 111 1-4 1-39 1 57 1-134 1 72 1 18 1-76 1 59 1-29 1 10 1 56 1-31 1 18 1-4 1-35 1-7 1-39 1 24 1 28 1-33 1-1 1 61 1-33 1 68 1-12 1-57 1 81 1-27 1 11 1-85 1-32 1 42 1 19 1-44 1 38 1 12 1 35 1-118 1 88M0 228l1-54 1 44 1-147 1 119 1 30 1-101 1 93 1-43 1 24 1 15 1 12 1-20 1 11 1-13 1 12 1-43 1-77 1 87 1-45 1 68 1-8 1-75 1 45 1 10 1 29 1-52 1 78 1-8 1-81 1 46 1 23 1-88 1 26 1 38 1-59 1 77 1-47 1 4 1-21 1 79 1-19 1-14 1-16 1-38 1 96 1-62 1-42 1 4 1 14 1-17 1 82 1-2 1-36 1 24 1 14 1-89 1 54 1 52 1-20 1 9 1-15 1-23 1 58 1-13 1 27 1-138 1 5 1 105 1-23 1-29 1 40 1-66 1-21 1 65 1 42 1-42 1 6 1 74 1-20 1-87 1 89 1-25 1 11 1-19 1 6 1-45 1 38 1-9 1-27 1 12 1-62 1 68 1 28 1-34 1-63 1 76 1-93 1 79 1-7 1-22 1 68 1-23 1 15 1-25 1 6 1 15 1-28 1 33 1-117 1 89 1-93 1 68 1-20 1-20 1 97 1-113 1 6 1 39 1-47 1 110 1 22 1-49 1-85 1 15 1 0 1 0 1 14 1 92 1-3 1-50 1-20 1 76 1-57 1 31 1-7 1-7 1 11 1-33 1-17 1-7 1 15 1-46 1 115 1-55 1-14 1 13 1 18 1-40 1 81 1-29 1 120 1-108 1 6 1-47 1-15 1 62 1-27 1-7 1-41 1 61 1-28 1 4 1-5 1 42 1 7 1-52 1 9 1-23 1 12 1 53 1-10 1-101 1 66 1 35 1-27 1-85 1 74 1 15 1 2 1 7 1-84 1 123 1 5 1-88 1-16 1 81 1-119 1 78 1 13 1 56 1-95 1 62 1-9 1-121 1 143 1-101 1 10 1-1 1-14 1 101 1-44 1 25M0 146l1 69 1-172 1 57 1 86 1 45 1-21 1 11 1-24 1-112 1 70 1 50 1 31 1-142 1 40 1 72 1-63 1 8 1 29 1-78 1 103 1-7 1-35 1 21 1-21 1-15 1 94 1-58 1-94 1 129 1-7 1-3 1-33 1 27 1 22 1-130 1 40 1-48 1 119 1-60 1-1 1-3 1-62 1 5 1 40 1 64 1-40 1 45 1-58 1 34 1 51 1-37 1-43 1 6 1 41 1-35 1 12 1-25 1 96 1-5 1 12 1-91 1 68 1-5 1-60 1-46 1 20 1 83 1-34 1-67 1 84 1-98 1 85 1 42 1-38 1-93 1 13 1 33 1-10 1-21 1 76 1-99 1 72 1 49 1-1 1 1 1-107 1 12 1 38 1 22 1-31 1 63 1 8 1-46 1-24 1 70 1-78 1 14 1 46 1-93 1 61 1 4 1 37 1 6 1-113 1 123 1-76 1-18 1-42 1 143 1-19 1-111 1 94 1-98 1 39 1 10 1 64 1-79 1 62 1-38 1 63 1-95 1 73 1-55 1 48 1-79 1 12 1 7 1 44 1-5 1 33 1 8 1-7 1 35 1-20 1 2 1-82 1 54 1-8 1-63 1 35 1-37 1 16 1 16 1 80 1-75 1 60 1-61 1-45 1 80 1 18 1 20 1-106 1 107 1-42 1 36 1 6 1-89 1 15 1 72 1-48 1 42 1-11 1-72 1 64 1 38 1-74 1 4 1 46 1 8 1 4 1-105 1 2 1 94 1-4 1-17 1 37 1-21 1 33 1-69 1 34 1 31 1-60 1 47 1-107 1 36 1 48 1-53 1 61 1-88 1 100 1 25 1-86 1 63 1-44 1-7 1 11 1-19 1 5 1-19 1 43 1 44 1-61" stroke="url(#we)" stroke-width="0.3" fill="none" vector-effect="non-scaling-stroke" stroke-linejoin="round" opacity="0.8"/>
<path d="M0 49l1 125 1-20 1 35 1-76 1 76 1 22 1-14 1-125 1 46 1 21 1-28 1 96 1-102 1 53 1 59 1-19 1 22 1 4 1-77 1 78 1-66 1 40 1 113 1-181 1 56 1-37 1 40 1-91 1 59 1 43 1-57 1 58 1-111 1 104 1 47 1-8 1-110 1 99 1-76 1-18 1 90 1-22 1-5 1 31 1-104 1 18 1-29 1 98 1-68 1 80 1-4 1-98 1 86 1-84 1 110 1-28 1-73 1 43 1 32 1-57 1 69 1-114 1 68 1-26 1-55 1 21 1 32 1-11 1 77 1-19 1 1 1 25 1-54 1 0 1-28 1 104 1-122 1 89 1-5 1-65 1 124 1-54 1-35 1 15 1 26 1 9 1-19 1-50 1 57 1 10 1 1 1-3 1-108 1 101 1 18 1-107 1 69 1-20 1 22 1 84 1-126 1-56 1 101 1-60 1 60 1 32 1-43 1-41 1 21 1 19 1 4 1 15 1-27 1 39 1-56 1 73 1-44 1 12 1-35 1 54 1-88 1 97 1-8 1-129 1 140 1-1 1-26 1-89 1 23 1 86 1-106 1 107 1-97 1 60 1-67 1 36 1 87 1-26 1-83 1 46 1 20 1 10 1-21 1-38 1 36 1-17 1-14 1 28 1-9 1 30 1-7 1 29 1-27 1-11 1 31 1-75 1 70 1-65 1 40 1-31 1 55 1-70 1 31 1 72 1-31 1-14 1-67 1 97 1-84 1-14 1 14 1 58 1-16 1-66 1 85 1-96 1 94 1-56 1 8 1 37 1 6 1-88 1 95 1-49 1-28 1 38 1-60 1 88 1-49 1 57 1 40 1-44 1 32 1-1 1-88 1 10 1 64 1-48 1-12 1 56 1 20 1-7M0 57l1 168 1-79 1-40 1 5 1 45 1-40 1 1 1 96 1-10 1 5 1-22 1-18 1 4 1 59 1-22 1-122 1 124 1-31 1-9 1-67 1 42 1 5 1 29 1-49 1-17 1 20 1-27 1 67 1-44 1 103 1-78 1-42 1 78 1-1 1-52 1 3 1 34 1 108 1-185 1 9 1 41 1 3 1-19 1 69 1-2 1-78 1 58 1 63 1-36 1-27 1 3 1-17 1-26 1 53 1 1 1-2 1-29 1-27 1 9 1 53 1 19 1-89 1 41 1-72 1 121 1-99 1 28 1-11 1 15 1 61 1-72 1 62 1-81 1 47 1-21 1 81 1-35 1 14 1 22 1-83 1 78 1-111 1-16 1 57 1 76 1-61 1-31 1 28 1-7 1 31 1-51 1-19 1 38 1 20 1 57 1-16 1-97 1 21 1 78 1-48 1-67 1 92 1 17 1 10 1-51 1-11 1 36 1-49 1 12 1 7 1-35 1 50 1-93 1 91 1 23 1 1 1-110 1 100 1-67 1-17 1 52 1-23 1 66 1 8 1-46 1 25 1-10 1-89 1 52 1 51 1-4 1-81 1 27 1 66 1-50 1-61 1 115 1-50 1-68 1 104 1-27 1 47 1 12 1-122 1 23 1 27 1 56 1-63 1 2 1 61 1-61 1 62 1-100 1 95 1-31 1 2 1-36 1-6 1 79 1-58 1-51 1 97 1-106 1 121 1 2 1 7 1-30 1-29 1 5 1 56 1-14 1-73 1 59 1-89 1 114 1-1 1-41 1 14 1-36 1 49 1-77 1 17 1 31 1-35 1 10 1 62 1-40 1 51 1-53 1-10 1 37 1-22 1 44 1-45 1-47 1-12 1 50 1-13 1 12 1-63 1-3 1 76M0 222l1-78 1 32 1-13 1-15 1 17 1-3 1-13 1-33 1 32 1 35 1-22 1 8 1 17 1-4 1 14 1 11 1 15 1-31 1-25 1-19 1-49 1 40 1 62 1-55 1 20 1-30 1 1 1 76 1-108 1-8 1 26 1 24 1-20 1-26 1 14 1 45 1-8 1-71 1 41 1 83 1-113 1 79 1 38 1-40 1-41 1 47 1-39 1 45 1-71 1 33 1-17 1 64 1-61 1-10 1 21 1 101 1-124 1 3 1-7 1 48 1 20 1 31 1-82 1-21 1 19 1 56 1 46 1-103 1 67 1-42 1 28 1-41 1-20 1 53 1-5 1 37 1 5 1 25 1-34 1-56 1 70 1-10 1-99 1 81 1 41 1-16 1-30 1-19 1-22 1 12 1 71 1-28 1 19 1-118 1 45 1 169 1-112 1-62 1 93 1-12 1-100 1 69 1 9 1-28 1 14 1 42 1-68 1-41 1 60 1-37 1 82 1-106 1 0 1 105 1-59 1-68 1 8 1 30 1 13 1 8 1 85 1 30 1-126 1-28 1 80 1-70 1 39 1 67 1-33 1-67 1 70 1 2 1-100 1 105 1-70 1 6 1 69 1-95 1 62 1-35 1 24 1-1 1-11 1 51 1-33 1-23 1 24 1-65 1 99 1-23 1 45 1-79 1 29 1-55 1 43 1-20 1-3 1 17 1 24 1 17 1-43 1 14 1 41 1-7 1 15 1-92 1-31 1 59 1-13 1 88 1-42 1-7 1-39 1-35 1 112 1-62 1-24 1 38 1 31 1-10 1-68 1 90 1 9 1-104 1 65 1 31 1-114 1 81 1-45 1 108 1-88 1-52 1 62 1 14 1 37 1-51 1-29 1 131 1-42 1-37 1 54 1-104M0 227l1 16 1-35 1-45 1-43 1 46 1-95 1 16 1 54 1-26 1 12 1-10 1 115 1-88 1 76 1-66 1-44 1 78 1-46 1 71 1-31 1 22 1-77 1 94 1-55 1-43 1-22 1 69 1 24 1-85 1 101 1-13 1-99 1 52 1 89 1-43 1-19 1-29 1-35 1 91 1 9 1-106 1 5 1 77 1-84 1 110 1 35 1-132 1 97 1-133 1 103 1-44 1-36 1 71 1-91 1 111 1 25 1-45 1-63 1-10 1 100 1 32 1-98 1 84 1-81 1 88 1-16 1 4 1-83 1 77 1 1 1-95 1 65 1-12 1 40 1 21 1-33 1-42 1 44 1-13 1-1 1-93 1 23 1 54 1-29 1 21 1-6 1-1 1 14 1 18 1-10 1-73 1 47 1 3 1 43 1-78 1 98 1-73 1-2 1-18 1-13 1 41 1 55 1 0 1-22 1-35 1 21 1-36 1 52 1 43 1-84 1 69 1-66 1 60 1 0 1 5 1 5 1 25 1-70 1 10 1 35 1 5 1-55 1 29 1-54 1-17 1 95 1-100 1 81 1 32 1-90 1 71 1-47 1 55 1-83 1-43 1 99 1 12 1-39 1-74 1 147 1-57 1 25 1 35 1-158 1 110 1 16 1 4 1-26 1-37 1 73 1-68 1-33 1 48 1-17 1 38 1-46 1 24 1 7 1-15 1-54 1 3 1 80 1-17 1-86 1 39 1 81 1 18 1 12 1-111 1 129 1-105 1-41 1 63 1-6 1 45 1-35 1-32 1-23 1 37 1-7 1-27 1 91 1-83 1 46 1 27 1-38 1 10 1-11 1-20 1 46 1-60 1-14 1 93 1-11 1-2 1-7 1 39 1-61 1 3 1-10 1-10 1 51M0 61l1 40 1 10 1 118 1-137 1 33 1-21 1 100 1-103 1 116 1-112 1 100 1-40 1 46 1 10 1-109 1 59 1 27 1-50 1 55 1-49 1 28 1-79 1 58 1-6 1 23 1 19 1-73 1-37 1 70 1-51 1 1 1 75 1-70 1 109 1-9 1-77 1 23 1-76 1 41 1 79 1 18 1-125 1 136 1-115 1-12 1 49 1-19 1-36 1 61 1 18 1-83 1 3 1 121 1-71 1 26 1-15 1 36 1-23 1 46 1-16 1-3 1 20 1-51 1-49 1 38 1 35 1 26 1-19 1 20 1-54 1-43 1 90 1 19 1-70 1 50 1-120 1 65 1 13 1-20 1 30 1-91 1 94 1-90 1 107 1 12 1 4 1-67 1-7 1 36 1-9 1 66 1-136 1 103 1-8 1 5 1 19 1-85 1 83 1 29 1-121 1 72 1-42 1-51 1 115 1-11 1-112 1 112 1-80 1 31 1-43 1 37 1 62 1 3 1-11 1-75 1 100 1-7 1-58 1-63 1 120 1-3 1-97 1 35 1-5 1 46 1-103 1 77 1 51 1-1 1-103 1 30 1-25 1 72 1-18 1-46 1-16 1 47 1-57 1 97 1-87 1 104 1-91 1 108 1-37 1-22 1-58 1 4 1 50 1-5 1 13 1 54 1-21 1-10 1-17 1-5 1 22 1 4 1-73 1 36 1-7 1 67 1-17 1-67 1-47 1 51 1-29 1 140 1-107 1 59 1-13 1 21 1-36 1 4 1-19 1 23 1-9 1 9 1 32 1-41 1-51 1 12 1 78 1-92 1-22 1-6 1 85 1 24 1-91 1 19 1 72 1-27 1 26 1-36 1 39 1-81 1-42 1 24 1 109 1-110 1 31 1 35 1-27M0 87l1 1 1 108 1-71 1-29 1 108 1-148 1 145 1-148 1 71 1-16 1-33 1 122 1 0 1-65 1 11 1 63 1-141 1 149 1-69 1 6 1 62 1-71 1 28 1-65 1 15 1 83 1-87 1 95 1-44 1 12 1 7 1 30 1-80 1 90 1-107 1 76 1-4 1-58 1 47 1 48 1-123 1 81 1-24 1 68 1-86 1 24 1-15 1 70 1-6 1-114 1 23 1 55 1-27 1 80 1-30 1-49 1-27 1 96 1-89 1-7 1-13 1-4 1-14 1 75 1-42 1 6 1 47 1-14 1 10 1-38 1 61 1-31 1 31 1-21 1 6 1-27 1 45 1 17 1-8 1-29 1-60 1 42 1-58 1 82 1-39 1 48 1-85 1 56 1-65 1 36 1 68 1-22 1-77 1 98 1 6 1-117 1 94 1-19 1 34 1-25 1-46 1 81 1 6 1-76 1 43 1-68 1 12 1 5 1-58 1 133 1 31 1-146 1 74 1-23 1 56 1 3 1-60 1 70 1-58 1 31 1 37 1-21 1-57 1 50 1 27 1-1 1-74 1 22 1 61 1-35 1-10 1 16 1 14 1-79 1 74 1 14 1-113 1 40 1 47 1 23 1-144 1 33 1 123 1-92 1 30 1-23 1 37 1-42 1 46 1-32 1 63 1-1 1 6 1-56 1 0 1-71 1-13 1 119 1 7 1-21 1-85 1 34 1 77 1-99 1 0 1 22 1 75 1-17 1-80 1 73 1-85 1 71 1-65 1 92 1-84 1 98 1-124 1 52 1 37 1-48 1 62 1 74 1-122 1-2 1-17 1-39 1 41 1-7 1 76 1 86 1-157 1 69 1-6 1-86 1 61 1 11 1 16 1-40 1-15 1 46 1 49 1-87" stroke="url(#ce)" stroke-width="0.3" fill="none" vector-effect="non-scaling-stroke" stroke-linejoin="round" opacity="0.8"/>
<path d="M162 230v88M59 234v72M84 202v75M178 214v93M77 212v73M149 221v63" stroke="#ffb300" stroke-width="0.45" fill="none" vector-effect="non-scaling-stroke" opacity="0.75"/>
<path d="M0 4L1.27 31.8L2.54 232L0 232Z" fill="url(#we)" opacity="0.85"/>
<path d="M0 0L.95 16L1.59 32L2.54 44L4.13 52L4.13 84L0 84Z" fill="url(#ge)"/>
<path d="M84.55 96.38L85.34 68L86.14 96.38ZM99.7 96.98L100.5 68L101.29 96.98Z" fill="url(#se)"/>
<path d="M85.34 52V96.38M100.5 52V96.98" stroke="url(#se)" stroke-width="0.7" vector-effect="non-scaling-stroke" fill="none"/>
</g></g>
<path d="M17.5 287.4H144.8V387.5" stroke="#d2d2d6" stroke-width="0.5" fill="none"/>
<path d="M17.5 287.4V387.5H144.8" stroke="#b4b4bc" stroke-width="0.55" fill="none"/>
<text x="16.3" y="289.3" font-size="4.3" text-anchor="end">0</text>
<text x="16.3" y="301.81" font-size="4.3" text-anchor="end">-10</text>
<text x="16.3" y="314.32" font-size="4.3" text-anchor="end">-20</text>
<text x="16.3" y="326.84" font-size="4.3" text-anchor="end">-30</text>
<text x="16.3" y="339.35" font-size="4.3" text-anchor="end">-40</text>
<text x="16.3" y="351.86" font-size="4.3" text-anchor="end">-50</text>
<text x="16.3" y="364.38" font-size="4.3" text-anchor="end">-60</text>
<text x="16.3" y="376.89" font-size="4.3" text-anchor="end">-70</text>
<text x="16.3" y="389.4" font-size="4.3" text-anchor="end">-80</text>
<text x="17.5" y="393.9" font-size="4.4" text-anchor="middle">0</text>
<text x="33.41" y="393.9" font-size="4.4" text-anchor="middle">50</text>
<text x="49.33" y="393.9" font-size="4.4" text-anchor="middle">100</text>
<text x="65.24" y="393.9" font-size="4.4" text-anchor="middle">150</text>
<text x="81.15" y="393.9" font-size="4.4" text-anchor="middle">200</text>
<text x="97.06" y="393.9" font-size="4.4" text-anchor="middle">250</text>
<text x="112.98" y="393.9" font-size="4.4" text-anchor="middle">300</text>
<text x="128.89" y="393.9" font-size="4.4" text-anchor="middle">350</text>
<text x="144.8" y="393.9" font-size="4.4" text-anchor="middle">400</text>
<text x="81.55" y="399.4" font-size="5" text-anchor="middle">Range cell</text>
<text transform="translate(8.1 337.45) rotate(-90)" font-size="4.85" text-anchor="middle">Normalized received power/dB</text>
<text x="78.15" y="413.8" font-size="8.2" text-anchor="middle" fill="#555">(<tspan font-weight="bold" fill="#222">e</tspan>)</text>
<path d="M223.41 287.4V387.6M239.32 287.4V387.6M255.24 287.4V387.6M271.15 287.4V387.6M287.06 287.4V387.6M302.98 287.4V387.6M318.89 287.4V387.6M207.5 375.08H334.8M207.5 362.55H334.8M207.5 350.02H334.8M207.5 337.5H334.8M207.5 324.98H334.8M207.5 312.45H334.8M207.5 299.92H334.8" stroke="#ebebeb" stroke-width="0.5" fill="none"/>
<g filter="url(#bl)"><g transform="translate(207.5 287.4) scale(0.63020 0.31313)">
<path d="M0 42L1 53L2 57L3 50L4 59L5 52L6 60L7 52L8 40L9 55L10 65L11 53L12 51L13 57L14 61L15 71L16 68L17 65L18 48L19 65L20 64L21 46L22 47L23 40L24 43L25 45L26 59L27 39L28 33L29 29L30 44L31 33L32 47L33 36L34 52L35 29L36 49L37 49L38 32L39 61L40 36L41 53L42 47L43 36L44 58L45 58L46 59L47 49L48 63L49 38L50 39L51 46L52 51L53 33L54 35L55 26L56 41L57 35L58 37L59 24L60 29L61 25L62 38L63 22L64 44L65 23L66 44L67 42L68 35L69 36L70 36L71 41L72 28L73 42L74 43L75 46L76 15L77 22L78 19L79 32L80 16L81 33L82 27L83 2L84 20L85 24L86 10L87 27L88 19L89 19L90 23L91 38L92 46L93 26L94 42L95 57L96 57L97 63L98 62L99 75L100 77L101 79L102 68L103 72L104 75L105 59L106 32L107 57L108 26L109 39L110 28L111 19L112 23L113 11L114 14L115 18L116 10L117 4L118 4L119 25L120 10L121 0L122 7L123 12L124 26L125 16L126 9L127 28L128 1L129 24L130 19L131 23L132 2L133 6L134 19L135 31L136 39L137 37L138 19L139 32L140 33L141 9L142 26L143 22L144 34L145 13L146 19L147 29L148 27L149 28L150 12L151 13L152 39L153 49L154 15L155 28L156 25L157 42L158 48L159 36L160 23L161 43L162 32L163 25L164 43L165 44L166 38L167 32L168 34L169 38L170 40L171 45L172 22L173 35L174 40L175 44L176 40L177 36L178 42L179 39L180 41L181 40L182 60L183 47L184 47L185 48L186 45L187 36L188 42L189 50L190 50L191 41L192 53L193 58L194 37L195 56L196 52L197 53L198 54L199 42L200 41L201 54L202 36L202 224L0 224Z" fill="url(#gf)" opacity="0.5"/>
<path d="M0 257v14m1-31v37m1-53v40m1-16v4m1-2v8m1-20v48m1-51v12m1-2v8m1-16v28m1-26v8m1-6v1m1 11v21m1-15v3m2 1v10m2-29v12m1-15v2m1 1v10m1-17v33m1-18v32m1-45v7m1-8v12m1-5v24m1-44v45m1-26v11m1-9v39m1-41v1m1-16v20m1 4v5m1-28v8m1 9v52m1-55v46m1-49v47m1-52v64m1-42v5m1-28v35m1-28v11m1 18v10m1-30v8m1-24v29m1-12v10m1-4v7m1-41v11m2 0v27m1-28v12m1 11v63m1-85v55m1-49v22m1-26v26m1-19v28m1-27v16m1-22v21m1-26v4m1 18v12m1-18v3m1 9v58m1-70v5m1-16v15m1 1v10m1-31v10m1 4v35m1-47v14m1-12v3m1-5v64m1-52v3m1-17v4m1-1v11m1 16v12m1-25v58m1-62v35m1-40v6m1-24v13m1-3v19m1-14v15m1-10v15m1-2v63m1-74v23m1-23v12m1-29v7m1 8v76m1-75v17m1-38v1m1 19v5m1-1v3m1-16v4m1 13v40m1-57v4m1 17v7m1-30v12m1 6v1m1-16v5m1 15v16m1-37v9m1-17v35m1-3v9m1-23v14m1-23v54m1-38v68m1-72v20m1-38v20m1-17v5m1 14v1m1-12v37m1-41v21m1-19v11m1 1v49m1-42v14m1-33v11m1 3v17m1-23v8m1-11v18m1-25v61m1-65v3m1-1v2m1-1v84m1-76v7m1-1v9m1-29v28m1-16v26m1-31v6m1-13v26m1-39v17m1-3v14m1-10v16m1-8v1m1-1v36m1-46v1m1 17v12m1-2v9m1-25v1m1 11v21m1-30v20m1-29v13m1 0v6m1-16v17m1-31v4m1 15v21m1-27v7m1-14v15m1-13v19m1 9v15m1-55v16m1 12v41m1-53v9m1-10v2m1-3v3m1-3v50m1-40v28m2-43v21m1-4v23m1-34v51m1-28v2m1-39v57m1-21v4m1-34v27m1-8v29m1-34v6m1-2v5m1-22v13m1-5v15m1-35v17m1 5v21m2-27v1m1 16v8m1-32v6m1 3v3m1-7v2m1 10v27m2-28v14m2-27v12m1-5v40m1-40v8m1-7v25m1-27v15m1-21v1m1 31v21m1-37v5m1-10v2m1-2v4m1-11v7m1-4v37m1-45v17m1-6v7m1 17v7m1-20v2m1-4v18m1-18v6m1-25v54m1-41v16m2-23v63m1-64v25m1-23v4m1-3v19m1-18v7m1-4v18m1-24v1" stroke="url(#gf)" stroke-width="0.45" fill="none" vector-effect="non-scaling-stroke" opacity="0.65"/>
<path d="M4 64v186m2-185v170m1-178v188m1-200v192m1-177v179m2-181v195m2-191v177m3-166v171m7-199v200m3-181v182m9-212v224m3-221v234m3-213v194m1-200v206m1-217v183m6-181v198m1-197v193m1-187v194m5-199v205m4-216v221m5-227v208m4-195v223m4-217v177m1-176v186m2-215v225m5-206v206m2-237v217m5-200v211m2-207v205m7-165v177m5-172v160m6-202v227m1-214v195m2-215v223m7-239v242m1-220v200m4-213v200m3-203v229m2-237v227m4-227v251m1-247v238m1-224v215m6-201v196m3-208v198m3-200v215m3-206v215m1-231v209m1-208v215m2-179v185m2-206v192m7-188v203m3-191v214m1-221v194m2-197v190m12-183v186m2-167v183m2-196v191m3-202v190m6-168v169m1-190v203m1-185v185m1-188v181m4-193v196m1-182v185m1-204v198" stroke="url(#gf)" stroke-width="0.62" fill="none" vector-effect="non-scaling-stroke" opacity="0.85"/>
<path d="M0 47v210m5-200v181m7-183v204m8-190v183m4-204v177m4-187v191m1-196v220m1-204v181m6-176v181m4-194v194m5-172v172m2-181v203m1-189v167m4-179v189m1-207v201m5-197v208m6-201v189m4-199v198m3-191v201m6-221v231m2-221v210m6-217v219m6-205v208m1-200v185m2-189v188m5-155v172m2-168v146m2-153v175m4-190v189m3-219v221m4-234v214m2-219v222m4-221v227m1-240v235m3-206v200m1-210v214m2-202v210m9-200v199m2-218v223m9-214v205m9-208v231m5-214v185m14-183v183m8-180v191m16-197v194" stroke="url(#gf)" stroke-width="0.62" fill="none" vector-effect="non-scaling-stroke" opacity="1.0"/>
<path d="M1 58v182m1-178v162m1-170v194m7-179v172m8-189v192m1-174v167m2-186v188m4-189v194m9-187v179m3-182v188m7-180v192m2-190v170m8-194v194m5-205v210m4-212v209m3-187v199m1-202v188m8-183v188m3-215v222m2-225v208m2-198v214m2-220v219m2-229v220m1-203v220m6-221v225m2-194v165m1-165v197m8-179v161m9-225v221m2-215v213m14-206v222m1-227v237m1-233v217m4-209v216m2-210v186m4-214v222m1-205v233m2-225v213m1-234v222m7-196v206m6-197v197m1-209v204m8-208v216m2-210v195m1-193v189m3-194v205m1-201v204m3-208v199m2-195v194m2-193v219m4-211v183m6-190v205" stroke="url(#wf)" stroke-width="0.62" fill="none" vector-effect="non-scaling-stroke" opacity="0.9"/>
<path d="M14 66v197m1-187v163m2-169v171m5-189v186m5-194v200m4-206v209m1-195v192m1-203v200m6-175v185m16-220v225m2-216v222m4-232v204m1-192v206m8-208v211m2-218v209m17-218v232m9-189v169m2-154v166m5-185v174m1-200v202m6-212v217m5-235v235m5-232v218m17-193v204m9-209v206m6-218v242m3-215v184m3-203v221m3-219v190m1-172v194m7-192v196m1-220v223m4-204v194m2-192v193m8-190v189m2-192v195m1-187v211m1-211v198m2-196v194m5-193v179m1-178v180" stroke="url(#cf)" stroke-width="0.62" fill="none" vector-effect="non-scaling-stroke" opacity="0.9"/>
<path d="M0 149l1-61 1 97 1-22 1-27 1 78 1 3 1 26 1-164 1 30 1 1 1 2 1 103 1-64 1-56 1 59 1 90 1-107 1-71 1 108 1-44 1 14 1 29 1 60 1-126 1 55 1 60 1 3 1 3 1-75 1-13 1 100 1-25 1-101 1-21 1 106 1 21 1 15 1-159 1 15 1 95 1-49 1 64 1-52 1-23 1 83 1-123 1 170 1-121 1 39 1 28 1 31 1-124 1 87 1-112 1 55 1-17 1 119 1 18 1-57 1 14 1-27 1 25 1 21 1 3 1-125 1 75 1-71 1 26 1 105 1-46 1-51 1 11 1 60 1-84 1 95 1-194 1 195 1-44 1-56 1 79 1-50 1 12 1 18 1-133 1 164 1-58 1 5 1 58 1-171 1 110 1 48 1-54 1 0 1-92 1 94 1-42 1-17 1 14 1 121 1-33 1-55 1 39 1-79 1 63 1-43 1 35 1-74 1-38 1 152 1-6 1-164 1 127 1 70 1-190 1 119 1 46 1-16 1-27 1-2 1-77 1 92 1-7 1-80 1 75 1 3 1-153 1 69 1 91 1-68 1-63 1 122 1 76 1-147 1 75 1 3 1-6 1-15 1 21 1-4 1 36 1-62 1 16 1-11 1-44 1-11 1-22 1 62 1 82 1-124 1 132 1-78 1 6 1 71 1-36 1 15 1-33 1-94 1 124 1-22 1-143 1 114 1 76 1-136 1 26 1-35 1 101 1-17 1-55 1-41 1 155 1-135 1 122 1-92 1 86 1-31 1 2 1-33 1 43 1 15 1-30 1 75 1-109 1 53 1 32 1-43 1 58 1-40 1-106 1 4 1 41 1 18 1 71 1-4 1-152 1 101 1-92 1 69 1-15 1-33 1 114 1-140 1 76M0 104l1 113 1-121 1 40 1 74 1-12 1-64 1 10 1 82 1-20 1-65 1-7 1-49 1 75 1-41 1 42 1-1 1 13 1 83 1-54 1-7 1-31 1-19 1-96 1 176 1-64 1 83 1-103 1-6 1 10 1 3 1 79 1-100 1 57 1 18 1 9 1-33 1 35 1-50 1-17 1 5 1 89 1-59 1-3 1 9 1 20 1 4 1-2 1 15 1-105 1-51 1 81 1 90 1-7 1-85 1 15 1-94 1 44 1 100 1-14 1-74 1 57 1 8 1 25 1-16 1 20 1-51 1 15 1-48 1 17 1-101 1 189 1-31 1-72 1 74 1-30 1 9 1-73 1 82 1 6 1 17 1-90 1 89 1-148 1 61 1 174 1-141 1 24 1-145 1 8 1 43 1 92 1-74 1 80 1-46 1-60 1 90 1-24 1 53 1-33 1-14 1 20 1 6 1-37 1-17 1-1 1 72 1-65 1 58 1-79 1 96 1-30 1-10 1-42 1 0 1 21 1 29 1-132 1-28 1 136 1 4 1-70 1 74 1-97 1 36 1-66 1 157 1 48 1-212 1 160 1 65 1-49 1-53 1-91 1 87 1-74 1 5 1 112 1 13 1-34 1-73 1 66 1-123 1 170 1-15 1-52 1 67 1-2 1-15 1 26 1-57 1-36 1 81 1-17 1-58 1 83 1-154 1 161 1 20 1-178 1 30 1 30 1 100 1-20 1 27 1-37 1-5 1 29 1-123 1 29 1-5 1 88 1 31 1-39 1 4 1-116 1 119 1-111 1 114 1-101 1 107 1-129 1 70 1-18 1 24 1 73 1-31 1-25 1 111 1-210 1 110 1-113 1 100 1-54 1 94 1-83 1 51 1-1 1-84 1 79 1 42 1-118 1 113M0 143l1 85 1-136 1 14 1 53 1-25 1-61 1-15 1 40 1 150 1-110 1 27 1 74 1-8 1-14 1-84 1 110 1-76 1 34 1-72 1 93 1-43 1-27 1-22 1-22 1 54 1 37 1-156 1 147 1-16 1-11 1-18 1-76 1 68 1 18 1 59 1 17 1-98 1 109 1-41 1 25 1-91 1 107 1-37 1-116 1 14 1 91 1 53 1-118 1 16 1 83 1-9 1 7 1 1 1-89 1 110 1-92 1 100 1-165 1 133 1-152 1 79 1-29 1-27 1 126 1-37 1 40 1-63 1 48 1 66 1-93 1-42 1-62 1 84 1 65 1-23 1-33 1 4 1 61 1-70 1-81 1 63 1 19 1-89 1 117 1-63 1 42 1-7 1 24 1-55 1 52 1-36 1-16 1 43 1 10 1 8 1-58 1 96 1-4 1-70 1-76 1 32 1-7 1 48 1 6 1-31 1-6 1 107 1-120 1 69 1 12 1-10 1-11 1 50 1-105 1-39 1 98 1 42 1-139 1 75 1-9 1 7 1-3 1-34 1-1 1 50 1-28 1-14 1 106 1 9 1-152 1 129 1-91 1 110 1-147 1-19 1 95 1-49 1 11 1 84 1-128 1 95 1 17 1-89 1 96 1-40 1-31 1-26 1 121 1-137 1 81 1 47 1-51 1 34 1-117 1-6 1 26 1 112 1 29 1-58 1-9 1-30 1-77 1-11 1 97 1 88 1-55 1 28 1-16 1 22 1-123 1-23 1 133 1-75 1 35 1 32 1 2 1 28 1-129 1 42 1 32 1 42 1-133 1-10 1 95 1-23 1 22 1-1 1-88 1 17 1 44 1 94 1-76 1 23 1-98 1 127 1-146 1 63 1 4 1-36 1 33 1-13 1-35M0 132l1 85 1 5 1-125 1 118 1-27 1-23 1 29 1-107 1 87 1 41 1-98 1 42 1-69 1 111 1-53 1-63 1-14 1 142 1 1 1-128 1 151 1-68 1 62 1-96 1 88 1 20 1-118 1 56 1-63 1 38 1 67 1-55 1-104 1 105 1 53 1-132 1 67 1-87 1 123 1-59 1-26 1 14 1 94 1-139 1 48 1 80 1 43 1-86 1-65 1 67 1-79 1 157 1-69 1-97 1 158 1-68 1-117 1 123 1 48 1-104 1 10 1 98 1 11 1-18 1-163 1 34 1 126 1-18 1 63 1-44 1 17 1-9 1-93 1 50 1-44 1 80 1-44 1 10 1 20 1-38 1 33 1 27 1-207 1 100 1 17 1 33 1 76 1-102 1-104 1 85 1-53 1 92 1 92 1-19 1-105 1-10 1 102 1-41 1 2 1-66 1 86 1 12 1-22 1 2 1-25 1-43 1 87 1 43 1-58 1 42 1 2 1-36 1-58 1-87 1 100 1-79 1 89 1-106 1 109 1-117 1-22 1-9 1 101 1 47 1-129 1 100 1 76 1-23 1 32 1 23 1-126 1 111 1-149 1 99 1-68 1-7 1-38 1 75 1 72 1-20 1 7 1 27 1-54 1 53 1-4 1-129 1-51 1-9 1 42 1 17 1-9 1 38 1 7 1-11 1-63 1 112 1-21 1 69 1-48 1-21 1-55 1 131 1-146 1 61 1-81 1 51 1 132 1-106 1-56 1 83 1 36 1-82 1 92 1-36 1 0 1 23 1-91 1 103 1 25 1-27 1-61 1 80 1-50 1-47 1 32 1-93 1 21 1-34 1 199 1-111 1-22 1 113 1-52 1 26 1-102 1 11 1 6 1 68 1-66 1 90 1 7 1-1M0 147l1-51 1-14 1 121 1-35 1 52 1-47 1-30 1 19 1-74 1 103 1-23 1 5 1-70 1 94 1-84 1-42 1 38 1-11 1 35 1 96 1-173 1 129 1-72 1 58 1 43 1-42 1 2 1 44 1 19 1-102 1 34 1-9 1 4 1-64 1 67 1-56 1 19 1-68 1 120 1-12 1-12 1 68 1-152 1 148 1-25 1-32 1 90 1-72 1 29 1-27 1-80 1 91 1 36 1-33 1-151 1 71 1 6 1 60 1-24 1 5 1-27 1-91 1 75 1 80 1-10 1 88 1-65 1-10 1-28 1 29 1-11 1-23 1-11 1-57 1 53 1 52 1 58 1-157 1-27 1 30 1-28 1 53 1 17 1-52 1 138 1-120 1 31 1 2 1-6 1-45 1 132 1-29 1-26 1-89 1 7 1 81 1 39 1-89 1 73 1-76 1 41 1-96 1 186 1-92 1 14 1 56 1-57 1 76 1-127 1 107 1-36 1-25 1-30 1 36 1-86 1 39 1 118 1-184 1-22 1 70 1 19 1-49 1 94 1-41 1 84 1-120 1 76 1-164 1 78 1 108 1-37 1-31 1 53 1 27 1-84 1-21 1 59 1-62 1 81 1-48 1 42 1 57 1-54 1 12 1-131 1 123 1 29 1-72 1 14 1-101 1 30 1 93 1-68 1-42 1 101 1-31 1 84 1-27 1 6 1 34 1-51 1-119 1 36 1 49 1 95 1-54 1 55 1-149 1 89 1 40 1-84 1 8 1 45 1-3 1-69 1 92 1-101 1 61 1 56 1-121 1 146 1-161 1 85 1-69 1 105 1-158 1 141 1 15 1-124 1 62 1 121 1-97 1 34 1-120 1 110 1-63 1-13 1 28 1 45 1-80 1-45 1 35M0 167l1-89 1 88 1 44 1-23 1 9 1-78 1 87 1 4 1-90 1 28 1 27 1 75 1-63 1-92 1 113 1-104 1 21 1 50 1-103 1 44 1-59 1 31 1 80 1-82 1-13 1 149 1-48 1-43 1-76 1 113 1 25 1-89 1 43 1-93 1 88 1-34 1 84 1 2 1 34 1-164 1-6 1 167 1-47 1 27 1-64 1-46 1 67 1 69 1-8 1-5 1-109 1 84 1-54 1-26 1 37 1 67 1-21 1-32 1 32 1 9 1-102 1 27 1 105 1-158 1 39 1 46 1-59 1-19 1 46 1-6 1-11 1 11 1 70 1-7 1 14 1 37 1-44 1-136 1 61 1 111 1-59 1 46 1-62 1-84 1 176 1-206 1 162 1-23 1 53 1-89 1 77 1-54 1 29 1-30 1-20 1-53 1 114 1-30 1 14 1-31 1-41 1 9 1 99 1-145 1 21 1 61 1 63 1-167 1 82 1-70 1-46 1 114 1 82 1-30 1 14 1-120 1 76 1 7 1-13 1 39 1-31 1-38 1 67 1 36 1-103 1 48 1 19 1-7 1 35 1-83 1-83 1 183 1-92 1 34 1 11 1-10 1-44 1 83 1-40 1-16 1 2 1 65 1-142 1 150 1-173 1 0 1 135 1-109 1 31 1 42 1-64 1 45 1 12 1 12 1-50 1 67 1-23 1 75 1-189 1 35 1 71 1 41 1-138 1 137 1 9 1-97 1 19 1 32 1 70 1-3 1-158 1 84 1-57 1 129 1-6 1-159 1 70 1 58 1 42 1-57 1 43 1 16 1-133 1 27 1 89 1-122 1 84 1-17 1-28 1 26 1-11 1 56 1-91 1-17 1 43 1 13 1-89 1 65 1 94 1-34 1 51 1-56" stroke="url(#wf)" stroke-width="0.3" fill="none" vector-effect="non-scaling-stroke" stroke-linejoin="round" opacity="0.8"/>
<path d="M0 256l1-60 1-24 1 45 1-125 1 66 1 9 1 15 1-64 1 119 1-55 1-73 1 96 1-25 1-79 1-9 1 43 1-44 1 118 1-108 1 29 1 10 1 86 1-146 1 30 1 95 1-26 1-10 1 53 1 2 1-153 1 73 1-87 1 35 1 106 1-35 1-24 1 10 1-113 1 190 1-41 1 1 1 51 1-81 1 47 1-49 1 66 1-26 1-46 1 80 1-92 1 61 1 47 1-27 1 0 1-6 1-167 1 19 1 165 1-3 1-31 1-27 1-81 1 3 1 143 1-165 1 62 1 94 1-14 1-144 1 145 1-157 1 167 1-157 1 129 1-37 1-29 1 130 1-200 1 136 1-93 1 57 1 78 1-80 1 12 1 87 1-45 1 13 1-27 1 8 1-119 1 63 1-2 1 107 1-30 1 0 1-154 1 2 1 156 1-2 1-76 1-34 1-5 1 76 1 2 1 38 1-32 1-60 1 89 1-48 1-2 1-38 1-31 1 89 1 11 1 23 1-52 1 53 1-70 1-108 1 171 1 28 1-149 1 87 1-13 1 62 1-126 1-58 1 142 1-125 1 45 1 40 1 53 1-70 1 15 1-55 1 45 1-43 1 96 1-17 1 25 1-88 1-50 1 120 1 37 1-117 1 64 1 9 1 54 1-68 1-114 1 126 1 38 1-14 1-158 1 162 1-90 1 110 1 4 1 5 1-102 1 44 1-16 1-25 1 26 1-15 1 21 1-116 1 123 1-65 1 95 1-64 1 48 1-42 1 104 1-173 1 118 1-60 1 97 1-72 1 48 1-102 1-15 1 20 1 73 1-124 1 101 1-60 1 26 1-3 1 64 1-106 1 22 1 40 1-64 1 94 1-16 1-7 1 47 1-58 1 61 1-2 1-70M0 94l1 121 1 7 1-42 1-75 1-7 1 31 1-27 1 89 1-46 1 65 1 7 1 17 1-51 1-50 1 55 1 28 1-93 1-7 1 112 1 6 1-63 1 24 1-6 1 36 1-95 1 47 1 42 1 7 1-11 1-29 1 3 1-102 1 126 1-61 1-2 1 77 1-38 1-118 1 113 1-14 1-79 1 75 1 26 1-39 1 13 1 50 1 3 1-128 1 140 1-147 1 118 1-8 1-67 1 6 1-35 1 142 1-166 1-19 1 71 1-6 1 83 1 22 1-94 1 88 1-143 1 112 1-143 1 170 1 13 1-89 1 5 1 38 1-59 1 58 1-87 1 126 1-29 1-64 1-6 1-20 1 2 1 123 1-175 1 28 1 93 1 36 1 9 1 4 1-40 1-120 1 83 1-53 1 140 1-130 1 65 1-4 1 45 1-19 1-15 1 64 1-86 1 54 1-9 1 42 1-13 1-36 1 60 1-124 1-42 1 130 1-46 1-70 1 85 1-71 1-3 1-66 1 48 1 26 1 1 1 0 1 142 1-183 1 34 1 0 1 118 1-176 1 46 1 111 1-101 1 82 1-14 1-26 1-103 1 188 1-158 1 50 1 31 1-47 1-11 1-25 1-45 1 226 1-74 1-71 1-41 1 2 1 154 1-133 1-26 1 25 1-2 1 88 1-15 1 6 1 55 1-150 1 64 1 61 1 4 1 1 1-111 1 47 1 45 1 17 1 11 1-40 1-94 1 137 1 13 1-12 1-90 1 64 1-47 1-54 1 118 1-39 1-79 1 26 1 99 1-73 1-55 1 132 1-141 1 148 1-157 1 0 1-19 1 190 1-137 1 114 1-39 1 33 1-27 1 34 1-8 1 19 1-100 1 66 1-57 1 89 1-127 1 76M0 79l1 155 1-98 1 101 1-14 1-87 1 101 1-43 1-101 1 42 1 77 1-20 1 65 1-116 1 18 1 43 1 3 1 12 1-147 1 102 1 16 1-86 1 25 1 71 1-29 1-11 1-43 1 86 1-127 1 153 1-32 1 30 1 16 1-7 1-96 1-51 1 125 1-73 1 52 1-12 1-55 1 101 1-3 1-85 1 108 1-170 1 43 1 82 1-14 1-18 1 68 1-100 1 78 1 92 1-127 1 27 1 4 1 30 1-2 1-103 1 26 1-103 1 185 1-54 1-7 1-68 1 91 1 3 1-68 1 109 1-171 1 52 1-7 1 61 1-3 1 35 1-75 1 92 1-88 1 81 1-165 1 76 1-37 1-29 1 139 1-42 1 55 1-53 1 48 1 7 1-77 1 21 1-107 1-8 1 83 1 15 1 53 1-70 1 89 1-2 1-9 1 9 1 5 1-36 1-17 1 28 1-168 1 42 1 45 1-60 1 75 1 101 1-76 1-80 1 11 1 130 1 1 1-49 1-16 1 10 1 35 1 30 1-65 1-98 1 72 1-41 1 27 1-61 1 46 1 0 1 39 1-3 1-72 1 54 1-86 1 178 1-36 1-36 1-79 1 78 1 27 1-8 1-1 1 49 1-155 1 80 1 30 1-137 1 193 1-143 1 9 1 18 1 24 1 4 1-68 1 149 1 29 1-27 1-132 1 132 1-108 1-23 1 111 1-133 1 168 1-69 1-105 1 87 1 45 1-116 1 31 1 32 1 94 1-51 1-71 1 63 1-66 1 64 1 50 1-23 1-92 1 149 1-76 1 21 1-65 1 45 1-133 1 107 1-8 1-3 1-75 1-20 1 12 1 46 1 4 1 112 1 10 1-150 1 26 1-48 1-6 1 138 1-29M0 147l1-16 1 34 1-54 1 95 1-85 1-10 1 105 1-101 1 118 1-15 1 22 1-108 1 108 1-53 1-3 1 37 1-28 1-85 1 112 1 1 1-104 1 40 1 30 1-20 1-7 1-82 1 24 1 64 1-15 1 46 1-41 1 1 1 62 1 15 1-1 1-154 1 161 1-105 1 71 1-32 1 57 1-105 1 39 1-60 1-4 1 130 1-47 1-89 1 26 1 108 1-37 1 35 1 3 1-84 1 69 1-86 1 130 1-31 1-79 1-57 1 120 1 31 1-66 1-74 1 128 1 1 1-56 1 32 1-98 1-48 1 96 1 34 1-4 1-52 1 95 1-36 1-122 1 100 1 9 1-77 1-42 1 74 1-45 1 124 1-104 1 102 1 17 1-106 1 13 1-22 1 79 1-108 1-14 1 43 1-44 1 101 1-96 1 99 1 57 1-113 1-6 1-13 1 64 1-26 1 97 1-15 1-12 1-97 1 119 1 18 1-113 1 29 1 39 1 0 1-3 1-5 1-88 1-40 1 63 1-109 1 100 1-84 1 179 1-172 1 53 1 58 1 101 1-63 1-2 1-54 1 24 1-95 1 71 1 49 1 20 1 1 1-22 1-71 1 39 1 53 1-34 1 70 1-75 1 50 1-94 1 27 1-35 1 65 1 70 1-122 1 80 1 39 1-119 1 7 1-23 1 45 1-45 1 21 1 29 1-33 1 10 1-89 1 23 1 106 1 42 1-26 1 7 1-85 1 38 1 13 1 19 1 30 1-91 1 45 1 13 1-48 1-15 1 34 1-37 1 52 1 77 1-12 1-129 1 59 1-47 1 37 1 15 1 33 1-32 1 24 1-24 1-106 1 55 1 88 1-24 1 18 1-62 1 60 1-153 1 150 1-105 1 116M0 220l1-76 1-40 1 140 1-14 1 4 1-21 1-109 1 126 1-67 1 23 1-16 1-15 1 1 1 96 1-79 1-33 1 40 1-34 1-47 1 25 1 67 1-77 1 1 1 14 1 131 1-45 1 3 1-44 1 66 1-106 1 118 1-24 1-86 1 70 1-125 1 34 1-15 1 124 1-119 1 63 1-77 1 45 1 24 1-40 1 93 1-29 1-41 1 82 1-59 1 37 1-9 1-140 1 77 1 58 1-6 1-102 1 21 1 15 1 5 1 114 1-57 1-42 1 23 1-54 1 48 1 14 1-45 1 76 1-63 1 7 1-40 1 120 1-116 1 69 1 53 1-212 1 183 1-51 1-5 1 52 1-51 1-29 1 94 1-9 1 27 1-52 1-56 1 59 1 1 1-120 1 18 1 142 1-100 1 82 1 14 1 26 1-81 1-24 1 16 1 83 1-72 1-82 1 70 1-49 1 57 1-13 1 11 1 13 1-55 1-43 1 123 1-145 1 21 1 108 1-74 1 119 1-205 1 151 1-60 1 80 1 36 1-63 1-7 1-10 1 19 1-110 1 144 1-50 1 91 1-104 1-31 1 5 1-33 1 74 1-108 1 134 1-19 1-53 1 127 1-96 1 35 1 75 1-68 1-25 1-4 1-4 1-19 1 105 1-95 1 80 1 37 1-110 1-59 1 145 1-89 1-26 1 60 1-8 1 64 1-38 1-11 1-125 1 152 1-125 1 32 1 64 1-23 1 32 1-46 1 29 1-44 1 110 1-72 1-17 1-22 1-25 1 115 1 11 1-47 1 38 1-28 1 26 1-24 1-40 1 1 1 9 1-95 1 127 1-108 1 115 1-31 1 23 1-38 1-5 1-65 1 121 1 23 1-109 1 67 1 11 1-144 1-6M0 204l1-18 1-61 1 118 1-81 1 56 1 7 1-103 1 14 1 100 1-38 1-67 1-5 1 68 1 20 1-9 1-81 1 100 1-6 1 10 1-143 1 99 1-94 1 5 1-27 1 126 1 26 1-22 1-132 1 45 1 7 1 31 1 102 1-30 1-131 1 5 1-9 1 154 1-49 1 20 1-9 1-64 1 63 1-13 1-124 1 67 1 18 1-81 1 23 1 82 1 24 1-87 1 130 1-119 1-7 1 105 1 30 1-3 1-141 1 68 1-116 1 101 1-37 1 8 1 43 1 12 1-111 1-10 1 60 1-30 1-10 1 132 1-69 1 25 1-99 1 87 1-119 1 48 1 123 1-172 1 118 1-28 1 99 1-107 1 71 1-1 1-111 1 121 1-84 1 85 1-12 1 25 1-157 1 175 1-30 1-78 1 93 1-84 1 83 1-108 1 13 1 52 1-43 1 70 1 26 1-102 1 87 1-128 1 35 1 118 1-94 1-114 1 80 1-27 1-15 1 115 1 20 1-124 1 59 1-62 1 157 1-15 1-69 1-26 1-95 1 202 1-101 1 50 1 38 1-108 1 54 1-108 1 148 1-110 1-31 1 45 1 13 1 49 1 33 1 35 1-16 1-111 1 24 1 54 1-14 1 24 1-1 1-13 1 18 1-139 1 100 1-16 1 44 1 18 1 31 1-114 1-17 1 119 1-45 1-11 1-109 1 56 1-15 1 47 1 28 1-19 1 20 1 40 1-74 1-67 1 104 1-58 1 101 1-14 1 12 1-23 1 0 1-108 1 109 1-91 1 37 1-56 1 38 1 71 1 23 1-67 1-23 1 69 1 26 1-88 1 49 1-40 1 91 1-128 1 43 1 29 1-23 1 22 1 2 1-1 1-99 1 132 1-43" stroke="url(#cf)" stroke-width="0.3" fill="none" vector-effect="non-scaling-stroke" stroke-linejoin="round" opacity="0.8"/>
<path d="M178 225v85M200 226v94M125 233v65M115 233v80M20 237v69" stroke="#004dff" stroke-width="0.45" fill="none" vector-effect="non-scaling-stroke" opacity="0.75"/>
<path d="M112.51 24L113.62 18.4L114.74 24ZM79.18 36L80.3 28.4L81.41 36ZM87.26 32L88.38 24.8L89.49 32ZM120.59 30L121.71 24.8L122.82 30ZM130.19 34L131.3 31.2L132.41 34ZM56.46 42L57.57 37.6L58.68 42Z" fill="url(#sf)"/>
<path d="M113.62 2.4V24M80.3 12.4V36M88.38 8.8V32M121.71 8.8V30M131.3 15.2V34M57.57 21.6V42" stroke="url(#sf)" stroke-width="0.7" vector-effect="non-scaling-stroke" fill="none"/>
</g></g>
<path d="M207.5 287.4H334.8V387.6" stroke="#d2d2d6" stroke-width="0.5" fill="none"/>
<path d="M207.5 287.4V387.6H334.8" stroke="#b4b4bc" stroke-width="0.55" fill="none"/>
<text x="206.3" y="289.3" font-size="4.3" text-anchor="end">0</text>
<text x="206.3" y="301.82" font-size="4.3" text-anchor="end">-10</text>
<text x="206.3" y="314.35" font-size="4.3" text-anchor="end">-20</text>
<text x="206.3" y="326.88" font-size="4.3" text-anchor="end">-30</text>
<text x="206.3" y="339.4" font-size="4.3" text-anchor="end">-40</text>
<text x="206.3" y="351.92" font-size="4.3" text-anchor="end">-50</text>
<text x="206.3" y="364.45" font-size="4.3" text-anchor="end">-60</text>
<text x="206.3" y="376.98" font-size="4.3" text-anchor="end">-70</text>
<text x="206.3" y="389.5" font-size="4.3" text-anchor="end">-80</text>
<text x="207.5" y="394" font-size="4.4" text-anchor="middle">-200</text>
<text x="223.41" y="394" font-size="4.4" text-anchor="middle">-150</text>
<text x="239.32" y="394" font-size="4.4" text-anchor="middle">-100</text>
<text x="255.24" y="394" font-size="4.4" text-anchor="middle">-50</text>
<text x="271.15" y="394" font-size="4.4" text-anchor="middle">0</text>
<text x="287.06" y="394" font-size="4.4" text-anchor="middle">50</text>
<text x="302.98" y="394" font-size="4.4" text-anchor="middle">100</text>
<text x="318.89" y="394" font-size="4.4" text-anchor="middle">150</text>
<text x="334.8" y="394" font-size="4.4" text-anchor="middle">200</text>
<text x="271.55" y="399.5" font-size="5" text-anchor="middle">Doppler/Hz</text>
<text transform="translate(198.1 337.5) rotate(-90)" font-size="4.85" text-anchor="middle">Normalized received power/dB</text>
<text x="268.15" y="413.9" font-size="8.2" text-anchor="middle" fill="#555">(<tspan font-weight="bold" fill="#222">f</tspan>)</text>
<path d="M37.43 426.6V518.6M52.05 426.6V518.6M66.68 426.6V518.6M81.3 426.6V518.6M95.93 426.6V518.6M110.55 426.6V518.6M125.18 426.6V518.6M22.8 507.1H139.8M22.8 495.6H139.8M22.8 484.1H139.8M22.8 472.6H139.8M22.8 461.1H139.8M22.8 449.6H139.8M22.8 438.1H139.8" stroke="#ebebeb" stroke-width="0.5" fill="none"/>
<g filter="url(#bl)"><g transform="translate(22.8 426.6) scale(0.62903 0.28750)">
<path d="M0 52L1 58L2 72L3 78L4 84L5 83L6 83L7 82L8 83L9 82L10 82L11 84L12 83L13 83L14 83L15 84L16 85L17 82L18 81L19 84L20 80L21 85L22 77L23 87L24 83L25 83L26 86L27 80L28 85L29 86L30 83L31 83L32 77L33 81L34 80L35 84L36 82L37 82L38 85L39 84L40 79L41 84L42 81L43 78L44 86L45 82L46 85L47 85L48 80L49 83L50 85L51 86L52 83L53 84L54 83L55 81L56 84L57 87L58 77L59 80L60 84L61 77L62 85L63 80L64 83L65 82L66 84L67 77L68 82L69 83L70 79L71 82L72 84L73 84L74 84L75 78L76 81L77 77L78 83L79 77L80 84L81 79L82 83L83 81L84 82L85 83L86 83L87 82L88 84L89 85L90 81L91 87L92 85L93 79L94 85L95 77L96 86L97 86L98 83L99 78L100 86L101 84L102 85L103 79L104 85L105 81L106 83L107 84L108 84L109 83L110 82L111 81L112 83L113 85L114 83L115 83L116 79L117 83L118 79L119 84L120 78L121 85L122 84L123 84L124 82L125 82L126 83L127 82L128 85L129 86L130 83L131 84L132 84L133 83L134 83L135 83L136 84L137 82L138 84L139 78L140 83L141 87L142 83L143 83L144 83L145 85L146 82L147 84L148 82L149 81L150 78L151 85L152 83L153 84L154 85L155 83L156 85L157 85L158 83L159 83L160 84L161 84L162 81L163 83L164 81L165 84L166 83L167 78L168 83L169 82L170 85L171 84L172 85L173 85L174 85L175 82L176 85L177 83L178 82L179 84L180 85L181 86L182 83L183 86L184 85L185 83L186 86L186 212L0 212Z" fill="url(#gg)" opacity="0.5"/>
<path d="M0 239v81m1-70v27m1-47v8m1 4v23m1-32v23m1-23v6m1-9v90m1-81v54m1-71v47m1-41v5m1 9v16m1-27v14m1-20v26m1-26v39m1-35v62m1-65v18m1-10v19m1-29v55m1-55v18m1-22v8m1 0v20m1-23v22m1-4v14m1-27v3m1-8v70m1-64v10m1-13v40m1-39v37m1-40v1m1 6v71m1-84v8m1 5v36m1-39v15m1-24v22m1-31v13m1-3v8m1-3v5m1-1v6m1-13v23m1-10v15m1-35v13m1 1v40m1-34v33m1-37v3m1-5v56m1-52v37m1-31v6m1-11v11m1-26v27m1-27v46m1-25v37m1-52v29m1-28v32m1-10v70m1-99v8m1-12v49m1-35v10m1-21v74m1-85v4m1 3v22m1 14v5m1-33v23m1-14v27m1-15v12m1-29v12m1 3v35m1-61v48m1-32v84m1-83v34m1-34v18m1-25v54m1-64v19m1-3v9m2 2v30m1-64v5m1 17v37m1-43v11m1-17v35m1-35v24m1-20v10m1 5v3m1-18v8m1-1v5m1 9v34m1-42v42m1-57v4m2 20v63m1-76v2m1-8v2m1 6v42m1-51v94m1-88v8m1-12v6m1-4v9m1-5v4m1-11v21m2-26v22m1-20v18m1-6v30m1-40v12m1 8v17m1-35v23m1-28v22m1 0v7m1-37v44m1-35v6m1 24v39m1-81v31m1-13v90m1-101v54m1-56v35m1-23v40m1-38v17m1-20v1m1 2v40m1-36v17m1-18v50m1-57v26m1-24v20m1-4v6m1-11v9m1-19v28m1-32v7m1 9v2m1-10v15m1-20v9m1-16v14m1-11v89m1-95v1m1 24v3m1-11v13m2-16v6m1-28v7m1 16v17m1-28v7m1-4v22m1 0v9m1-34v13m1 3v7m1-20v27m1-27v10m1 7v33m1-54v56m1-49v61m1-60v6m1-9v9m1-14v2m1-1v14m1 2v20m1-44v11m1 2v8m2-4v57m1-77v11m1 0v4m1 3v40m1-42v29m1-4v67m1-95v11m1-21v44m1-11v10m1-22v54m1-64v16m1-26v66m1-58v35m1-25v6m1-13v4m1 0v4m1-4v30m1-17v49m1-54v17m1-35v27m1-23v1m1 6v68m1-55v65m1-86v40m1-18v10m1-32v29m1-37v8m1 8v20m1-23v33m1-33v31m1-16v20" stroke="url(#dg)" stroke-width="0.45" fill="none" vector-effect="non-scaling-stroke" opacity="0.8"/>
<path d="M4 88v145m1-145v145m1-146v143m1-144v153m13-155v144m1-138v135m2-134v139m1-143v138m9-139v135m9-136v152m2-147v141m6-141v152m1-151v136m6-136v129m14-133v130m16-130v144m5-141v136m6-139v135m4-132v136m5-137v126m4-130v145m2-140v127m2-130v144m1-147v144m4-146v145m4-140v143m2-142v154m2-152v139m5-141v148m7-148v160m7-159v140m7-139v138m5-141v143m2-141v164m3-167v162m4-160v136m8-135v136m1-137v144m3-142v156m6-155v153" stroke="url(#gg)" stroke-width="0.62" fill="none" vector-effect="non-scaling-stroke" opacity="0.75"/>
<path d="M0 57v182m11-150v142m8-143v132m3-138v161m8-155v132m5-131v133m3-132v134m20-142v127m1-124v131m2-134v142m4-137v156m15-154v135m4-137v158m1-157v149m3-148v157m1-156v143m4-149v148m3-142v144m1-143v136m4-139v148m3-146v138m2-140v157m2-156v135m1-136v166m3-167v132m13-133v140m2-139v147m2-143v131m2-133v130m4-131v145m6-141v131m2-135v138m3-139v135m4-139v139m1-132v133m4-136v142m3-141v135m2-134v139m7-145v133m6-126v154m5-157v158m1-156v135m4-134v142m1-142v139m1-141v141" stroke="url(#gg)" stroke-width="0.62" fill="none" vector-effect="non-scaling-stroke" opacity="0.95"/>
<path d="M3 83v159m6-155v141m1-141v155m5-154v138m2-139v137m1-138v138m8-134v138m1-143v144m1-140v137m1-135v142m2-145v145m1-151v148m2-145v127m6-128v133m5-130v148m1-145v151m1-151v146m1-151v136m1-133v133m3-133v140m2-140v133m1-136v132m9-129v140m3-146v151m1-146v147m1-146v146m3-145v144m1-144v138m1-138v155m1-161v127m2-128v144m1-139v133m5-134v145m3-144v135m9-140v148m15-143v125m4-124v141m3-141v143m1-147v151m1-146v145m3-145v156m8-157v137m4-137v139m2-138v122m13-125v141m7-137v142m1-142v122m6-125v128m2-126v147m5-146v137m2-137v141m2-141v149" stroke="url(#wg)" stroke-width="0.62" fill="none" vector-effect="non-scaling-stroke" opacity="0.85"/>
<path d="M1 63v187m1-174v154m6-142v134m4-134v137m1-137v137m1-137v141m2-139v144m9-147v144m11-144v140m1-140v144m2-143v149m2-148v142m2-148v150m10-144v161m3-161v142m4-142v163m2-162v143m1-148v160m3-156v128m4-133v143m6-141v146m3-150v138m2-137v156m1-151v136m8-138v141m1-135v143m3-146v139m5-145v139m1-131v133m3-140v162m2-160v137m16-133v139m2-140v151m9-152v156m5-157v147m1-145v134m1-140v143m3-138v151m2-151v138m1-136v153m3-156v143m4-142v151m1-150v126m9-130v140m4-137v138m3-139v147m2-145v142m4-144v134m6-130v133m1-136v128" stroke="url(#cg)" stroke-width="0.62" fill="none" vector-effect="non-scaling-stroke" opacity="0.85"/>
<path d="M0 209l1 2 1-29 1 4 1-59 1-22 1 15 1 34 1 39 1 18 1-63 1-27 1 73 1-27 1-13 1 11 1-59 1 102 1 9 1-72 1 18 1 47 1-32 1 14 1 26 1-8 1-60 1 33 1 32 1-7 1 1 1-9 1 4 1 11 1-17 1-6 1-16 1 49 1-35 1-10 1-81 1 66 1-47 1 68 1-49 1 84 1-79 1-30 1-21 1 122 1 7 1-35 1 23 1-87 1 84 1-87 1 40 1 21 1 3 1 16 1 37 1-33 1 4 1-88 1 54 1 47 1-68 1 20 1-8 1 83 1-32 1-51 1-17 1-36 1 24 1-19 1 27 1 73 1-59 1-40 1 79 1 22 1-101 1-20 1 13 1-12 1 24 1 11 1 55 1-99 1 137 1-119 1 94 1-58 1 7 1-24 1 103 1-32 1-12 1-88 1 72 1-13 1 60 1-68 1 20 1 13 1-60 1 52 1 8 1 5 1-23 1 8 1 21 1-27 1 53 1-97 1 21 1-5 1 56 1-69 1-21 1 80 1 46 1-4 1-6 1-112 1 38 1 46 1 27 1-53 1 49 1-21 1-46 1 83 1-78 1 1 1 20 1-56 1 32 1 22 1-20 1 58 1-23 1-52 1 60 1 32 1-13 1-41 1 32 1 0 1-90 1 74 1 24 1-12 1-45 1 63 1 13 1-23 1-49 1 3 1-55 1 54 1 19 1 29 1 35 1-28 1-84 1 61 1 19 1-117 1 96 1 6 1-17 1 55 1-5 1-87 1 36 1-37 1 1 1 79 1-47 1-20 1 7 1-63 1 79 1-47 1-24M0 74l1 147 1-27 1 9 1 25 1-80 1 81 1-80 1 13 1 43 1-1 1 21 1-22 1 11 1-67 1 9 1 16 1-76 1 67 1 80 1-66 1-65 1 53 1-44 1 58 1 22 1-40 1 2 1 43 1-21 1 7 1-11 1 21 1-15 1-70 1 92 1 14 1-52 1 1 1-39 1-23 1 115 1-51 1-35 1 10 1 47 1 4 1-23 1 7 1-16 1 35 1-59 1 56 1-66 1-7 1 61 1-25 1 43 1-61 1-43 1 125 1-123 1-4 1 5 1 111 1-61 1 6 1 66 1 1 1-59 1 48 1-92 1 83 1 17 1-121 1 37 1 5 1-36 1 86 1-6 1-37 1-9 1 58 1-2 1 3 1-67 1 16 1 45 1 8 1 8 1-42 1 37 1-86 1 44 1 41 1 10 1-20 1-73 1 29 1-50 1 41 1-20 1 70 1 5 1 12 1-74 1 69 1-75 1 42 1-2 1-1 1 29 1-48 1-48 1 99 1 28 1-27 1 5 1-22 1-28 1-69 1 13 1 33 1 70 1-77 1 45 1-28 1 11 1-22 1-1 1 1 1-8 1 18 1 2 1 52 1 8 1-38 1 1 1 20 1-101 1 89 1 25 1 14 1-40 1-15 1-25 1 55 1 9 1-42 1-37 1 90 1-59 1-10 1 67 1-18 1 36 1-5 1-76 1 71 1-47 1-21 1 33 1-78 1 26 1 40 1 41 1 1 1-26 1-23 1-62 1 79 1 2 1 37 1 7 1-9 1-32 1-21 1 2 1 73 1-18 1-4 1-9 1-99 1 116 1-43 1-78 1 169M0 108l1 52 1 49 1 26 1-60 1 21 1-25 1 27 1 12 1-114 1 138 1-70 1-7 1-35 1 62 1-35 1 18 1-37 1 51 1-30 1 77 1-14 1 25 1-39 1-47 1 15 1-49 1 78 1-35 1 0 1-52 1 33 1 42 1-18 1-38 1-25 1 108 1-14 1-56 1 38 1 35 1-19 1-23 1 27 1 8 1-22 1-3 1 21 1-29 1-5 1-21 1 54 1 11 1-50 1-19 1 56 1-77 1 24 1 0 1 60 1 13 1-11 1-66 1 87 1-26 1 2 1-11 1 25 1-8 1-28 1 6 1-88 1 61 1 10 1-20 1-75 1 150 1-34 1 11 1 12 1-4 1-37 1 38 1-122 1 126 1-14 1-27 1-58 1 89 1-39 1-64 1 83 1 16 1-123 1 127 1-9 1-13 1-65 1 57 1-77 1 22 1 105 1-22 1-97 1 19 1-21 1 122 1-40 1-30 1 36 1-59 1-41 1 31 1 14 1 87 1-1 1-6 1-27 1-109 1 113 1-30 1 53 1-74 1-41 1 43 1 17 1 22 1-11 1 40 1-15 1-54 1 39 1-29 1 5 1-23 1 56 1-24 1 4 1-70 1 113 1-42 1-56 1 102 1-6 1-26 1-87 1 109 1-45 1 48 1-49 1-26 1 24 1-3 1-34 1 65 1-25 1-9 1-51 1 46 1 106 1-140 1 87 1 1 1 1 1-62 1 48 1-67 1 35 1-46 1 67 1-13 1-48 1 48 1-4 1 53 1-44 1 9 1 25 1-57 1 16 1 72 1-98 1 39 1-86 1 132 1-30 1-60M0 95l1 132 1-44 1 58 1-73 1 64 1-97 1 39 1 16 1-53 1 92 1-31 1-99 1 66 1 27 1-23 1 0 1 14 1-32 1 53 1-27 1-63 1 47 1-38 1 51 1-27 1 11 1-23 1 53 1-14 1-42 1 86 1-107 1 34 1 65 1-9 1-9 1-85 1 114 1-119 1 36 1-23 1 106 1-120 1 89 1 37 1-19 1-12 1-60 1 59 1 4 1 6 1-103 1 52 1 63 1-29 1-66 1 23 1 59 1 10 1-67 1-41 1 93 1-28 1-69 1 66 1-4 1 7 1 13 1-5 1-21 1-15 1 7 1 39 1-74 1 26 1-38 1 85 1-17 1 46 1-55 1 42 1-22 1 11 1-100 1 74 1 24 1 34 1-14 1-49 1-28 1 67 1-2 1-93 1 25 1 85 1 2 1-89 1 90 1-60 1 30 1-61 1 17 1-29 1-23 1 88 1-4 1-38 1 6 1 83 1-80 1 36 1 25 1-75 1 85 1 10 1-46 1 38 1-80 1 26 1-44 1 4 1 114 1-28 1-92 1 53 1 10 1 45 1-96 1 44 1-50 1 77 1-64 1 77 1-112 1 110 1-101 1 119 1-25 1-7 1-26 1 17 1 6 1 21 1-33 1 37 1-48 1 8 1-85 1 22 1 74 1-51 1 34 1-29 1 60 1-83 1 27 1 38 1 6 1-90 1 16 1 130 1-98 1 62 1-114 1 28 1 88 1-31 1-64 1 84 1-57 1-62 1 94 1-86 1 15 1 91 1 15 1-61 1 74 1-114 1 3 1 40 1-54 1 5 1 68 1-24 1 43M0 234l1-143 1 84 1-92 1 84 1-23 1 81 1 0 1-25 1-80 1-1 1 84 1-116 1 111 1-98 1 92 1-30 1 14 1 4 1 75 1-160 1 2 1 80 1-63 1 60 1-54 1 7 1 76 1-24 1 6 1-1 1-91 1 134 1-85 1 51 1-25 1 70 1-8 1-63 1 80 1-134 1 118 1-121 1-15 1 75 1-34 1 95 1-116 1 36 1 29 1-51 1-17 1 24 1 19 1 23 1 14 1-9 1-2 1 14 1-50 1-16 1 8 1 13 1 44 1-77 1 61 1-32 1 80 1-75 1-8 1 29 1 24 1-71 1-18 1 35 1-48 1 90 1-20 1 33 1-1 1-55 1 47 1 0 1 27 1-34 1 45 1-74 1 32 1-71 1 96 1-49 1 74 1-77 1 64 1-93 1 26 1-34 1 91 1-11 1 21 1-22 1-66 1 61 1-94 1 113 1-21 1-92 1 62 1 17 1-2 1-77 1 115 1-76 1 50 1-53 1 91 1-93 1-17 1 17 1-41 1 111 1 4 1-104 1 135 1-84 1-37 1 87 1 48 1-85 1 32 1 8 1-9 1-69 1 58 1-57 1 39 1 19 1 8 1-13 1 39 1-70 1 20 1 17 1 39 1-102 1 65 1-50 1 85 1-83 1-36 1 175 1-115 1-29 1 10 1-4 1-35 1 12 1 60 1-48 1 41 1-30 1 10 1 53 1 4 1 2 1-32 1 1 1 29 1-26 1-35 1-49 1 47 1-48 1 126 1-33 1-33 1 41 1-59 1-18 1 83 1-25 1-11 1 29 1 17 1-51 1 12 1-28M0 180l1 1 1 32 1-40 1 52 1-23 1 16 1-32 1-55 1 69 1-70 1 67 1-1 1-64 1 7 1 74 1 20 1-42 1-48 1 51 1 9 1 12 1 11 1-33 1-15 1 28 1 21 1-42 1-28 1 9 1-73 1 26 1 80 1-69 1 24 1-56 1 122 1-77 1-41 1 85 1-52 1 116 1-129 1 60 1-28 1 65 1-5 1-9 1-80 1 51 1 12 1-96 1 126 1 5 1-23 1-74 1 82 1-34 1-72 1 71 1 28 1 5 1-37 1-12 1 24 1-81 1 82 1-1 1-59 1 46 1 3 1-87 1 164 1-55 1 47 1-34 1-72 1-1 1-33 1-10 1 94 1 1 1 21 1 12 1-59 1 55 1-59 1-54 1 60 1 35 1 3 1-29 1 35 1 19 1-74 1 47 1-47 1 9 1-42 1 45 1-30 1 188 1-172 1 68 1-19 1-115 1 154 1-90 1 49 1-93 1 68 1 50 1 3 1-28 1 23 1-19 1 10 1 12 1-104 1 89 1 26 1-105 1 55 1-49 1 64 1-19 1 39 1-56 1 33 1-40 1 14 1-1 1-46 1 112 1-11 1 3 1-80 1 12 1 30 1-36 1-6 1 47 1-13 1-15 1-10 1 13 1 8 1-29 1 72 1-115 1 149 1-131 1-13 1 67 1 36 1-51 1 64 1-48 1 2 1-29 1 26 1 32 1 7 1-4 1-53 1-49 1 110 1-50 1 52 1-49 1 18 1-9 1 7 1 8 1 23 1-6 1-35 1-93 1 102 1 16 1-48 1 34 1-48 1 60 1 17 1 2 1-20" stroke="url(#wg)" stroke-width="0.3" fill="none" vector-effect="non-scaling-stroke" stroke-linejoin="round" opacity="0.8"/>
<path d="M0 68l1 45 1 109 1-28 1-40 1 22 1-47 1 44 1 36 1-24 1-18 1 34 1-58 1 5 1 60 1-51 1 7 1-17 1 42 1-81 1 104 1-115 1 83 1 1 1 31 1-84 1 35 1 54 1-52 1-19 1-8 1 35 1-5 1 4 1-55 1 35 1-14 1 41 1-27 1 32 1-59 1 58 1 34 1-104 1-23 1 73 1 74 1-102 1-27 1 62 1 62 1-30 1-1 1 44 1-123 1 91 1 0 1-21 1-104 1 73 1-37 1 61 1 37 1-113 1 76 1-49 1 19 1 4 1-47 1 80 1 27 1-66 1 67 1-85 1 1 1-14 1 12 1 53 1-52 1-6 1 38 1 6 1-23 1 39 1-20 1 47 1 3 1-104 1 96 1-57 1 59 1-42 1-61 1 50 1-20 1 48 1-94 1 118 1-76 1 9 1 79 1-75 1 50 1-54 1-9 1-43 1 108 1-7 1-52 1 108 1-139 1 52 1-17 1-26 1-34 1 106 1-22 1-19 1 27 1 37 1-65 1 55 1-82 1-2 1-37 1 31 1 24 1 22 1 31 1-6 1 21 1-77 1 52 1 51 1-73 1 42 1-12 1-23 1-24 1-51 1 149 1-83 1 51 1-47 1-1 1-55 1 40 1-14 1 58 1 34 1-41 1-83 1 66 1-62 1 117 1-44 1 19 1-26 1 31 1-22 1-75 1 144 1-77 1-50 1 67 1-60 1 34 1 23 1-58 1 47 1 46 1-37 1-21 1 29 1 40 1-67 1-19 1 1 1 75 1-45 1 10 1-75 1 9 1 33 1-60 1 114 1-52M0 210l1-42 1 18 1-85 1 131 1-63 1 25 1-37 1-27 1 75 1-77 1 73 1-11 1 8 1 0 1-85 1 52 1-71 1 42 1-9 1 96 1-34 1-14 1 50 1-9 1-5 1-32 1-57 1 77 1 25 1-101 1 87 1-100 1 6 1 31 1 26 1-29 1 25 1-24 1 80 1-85 1 20 1 49 1-67 1-2 1 11 1 72 1-59 1-36 1 5 1-21 1 38 1-45 1 17 1 78 1-39 1 55 1-44 1-8 1 43 1-24 1-41 1-36 1 106 1-75 1 17 1-16 1 95 1-84 1 72 1-110 1 49 1 17 1-37 1 73 1-48 1 16 1-24 1 54 1-93 1 54 1-18 1-33 1 65 1 50 1-59 1-45 1 13 1 32 1 13 1 23 1 13 1-15 1 9 1-75 1-6 1 93 1-52 1 32 1-16 1-82 1 95 1-26 1-29 1 1 1-29 1 111 1-26 1-23 1 55 1-88 1-37 1 80 1-56 1 26 1-1 1-5 1-60 1 68 1 63 1-100 1 80 1-48 1-6 1 34 1 25 1-113 1 29 1 50 1-13 1-20 1 18 1-71 1 134 1-84 1 27 1 22 1 31 1-139 1 98 1 31 1-82 1-6 1-28 1 42 1 4 1 61 1-94 1 48 1-54 1-21 1 68 1 30 1-8 1 25 1-49 1 64 1-104 1 85 1-101 1 85 1 20 1-12 1-99 1 15 1 57 1-38 1 33 1 38 1-32 1 9 1-33 1 33 1 14 1 74 1-149 1 17 1-27 1 109 1-2 1-39 1-22 1-48 1 24 1 91 1 5 1 17M0 211l1-35 1 36 1-66 1 71 1-109 1 12 1 118 1-86 1 33 1-32 1 22 1-47 1 121 1-52 1 12 1 20 1-19 1-5 1 7 1 15 1-23 1-45 1-55 1 78 1 37 1-83 1 66 1 22 1-26 1-22 1 20 1-88 1 22 1-33 1 95 1-63 1 34 1-20 1-44 1 86 1-30 1-17 1-22 1 31 1 54 1 27 1-18 1-16 1 11 1-25 1-55 1 95 1 3 1-25 1-3 1-92 1 106 1-8 1-39 1-31 1 32 1-58 1 79 1-6 1 29 1-61 1 15 1 4 1 14 1 27 1-90 1-9 1 63 1 62 1-147 1 74 1 45 1-56 1-52 1 87 1 31 1-14 1 19 1-89 1 3 1 21 1-19 1 53 1 2 1-23 1 58 1-52 1-58 1-27 1 97 1-75 1 7 1 82 1-20 1-84 1 107 1-84 1 2 1 103 1-65 1 79 1-94 1-55 1 99 1-65 1-10 1 69 1-5 1 46 1-78 1 73 1-4 1-15 1-9 1 24 1-85 1 113 1-24 1 7 1-28 1 34 1-52 1-36 1 33 1-34 1 65 1-36 1 48 1-110 1 24 1-4 1 26 1 68 1-92 1 43 1-12 1 15 1-61 1-15 1 97 1-88 1 44 1-8 1 3 1 49 1 14 1 2 1-70 1 61 1-88 1-5 1 82 1-61 1 83 1-84 1 94 1-17 1-20 1-75 1 48 1-41 1 19 1 9 1 38 1-51 1 31 1 29 1 37 1-77 1 48 1 7 1 2 1 71 1-137 1-20 1 49 1 9 1 39 1-33 1 22 1-1M0 108l1 62 1 58 1 52 1-111 1 6 1 34 1 9 1-68 1 12 1-13 1-31 1 101 1-66 1 72 1 2 1-115 1 19 1 52 1-59 1 69 1-16 1 41 1-88 1 51 1 21 1-10 1-26 1 27 1 17 1-17 1-41 1-19 1 39 1 38 1-48 1-77 1 63 1-49 1 74 1 1 1 9 1 19 1-72 1-13 1 30 1-54 1 27 1 27 1 23 1-37 1-14 1 7 1-12 1-13 1 56 1 38 1-54 1 47 1-38 1 23 1-6 1 12 1-55 1 90 1 15 1-38 1-43 1-17 1 82 1-102 1 103 1-84 1-23 1 94 1-58 1 60 1-1 1-5 1-14 1-71 1 101 1-22 1-75 1 92 1 20 1-87 1 39 1-38 1 53 1-75 1 96 1-41 1 14 1-82 1 46 1 117 1-73 1 5 1-5 1-1 1-62 1 24 1 52 1-82 1-2 1 92 1-22 1-3 1-38 1 21 1 26 1-38 1-13 1 22 1 3 1 19 1-97 1 131 1 1 1-4 1 0 1-28 1 38 1-16 1-7 1 17 1-47 1 65 1-122 1-11 1 27 1 36 1 38 1-30 1 78 1-80 1-41 1 25 1-18 1 60 1-111 1 35 1 71 1 15 1-12 1-112 1 132 1-69 1-9 1 0 1-16 1 87 1-43 1-21 1 24 1-35 1 9 1 26 1-66 1 39 1 69 1-100 1-6 1 110 1-31 1-97 1 114 1-72 1 9 1 60 1-85 1 36 1 73 1-75 1 27 1 33 1-9 1-104 1 116 1 6 1-48 1 7 1 22 1-60 1 45 1-46M0 142l1 70 1-14 1-40 1 6 1-55 1 5 1 118 1-22 1 12 1 11 1-78 1-53 1 88 1-54 1 79 1-89 1 80 1-5 1-76 1 96 1-113 1 108 1 7 1-55 1-23 1 55 1-84 1 63 1 77 1-107 1 50 1-71 1 38 1 39 1-41 1-43 1 47 1-26 1 54 1 10 1 24 1-101 1 46 1-41 1 34 1-51 1-9 1 105 1-90 1 41 1-55 1 70 1-46 1 55 1-28 1-24 1 46 1-44 1 70 1 43 1-106 1 54 1-3 1-22 1-40 1 131 1-54 1-47 1 8 1 42 1-123 1 90 1-37 1 41 1-88 1 59 1-9 1 60 1-77 1 31 1 62 1-96 1-14 1 25 1 63 1 1 1-58 1 60 1-12 1-42 1 77 1-10 1-66 1 77 1-40 1-4 1-55 1 46 1 46 1-60 1 18 1-49 1 50 1-14 1 28 1-19 1-3 1-24 1-29 1 34 1-10 1 60 1-91 1 53 1 43 1 1 1 37 1-134 1 37 1 72 1-78 1 17 1 2 1-56 1 23 1 51 1 37 1-2 1-2 1-23 1 26 1-34 1-87 1 76 1-38 1 21 1 10 1-13 1 39 1-21 1-53 1 10 1 29 1 70 1-84 1-58 1 138 1-54 1 27 1-61 1 55 1-51 1 73 1-62 1 15 1 17 1-12 1 52 1-35 1 39 1 9 1-25 1-110 1 88 1-82 1 2 1 95 1-31 1 29 1 5 1-109 1 35 1 48 1 52 1-96 1 86 1-57 1-38 1 44 1 5 1 13 1-5 1 49 1-128 1 74 1-12M0 184l1-16 1 28 1-76 1 58 1 32 1-8 1-57 1 58 1 7 1 13 1-28 1-6 1 14 1-49 1-2 1 62 1-26 1-7 1-35 1 43 1-71 1-27 1 22 1 32 1 8 1-15 1 44 1 30 1-87 1 54 1 38 1 6 1-85 1 12 1 20 1-31 1 0 1 75 1 12 1-66 1-18 1 49 1 22 1-45 1-27 1 46 1-87 1 13 1 93 1-12 1-45 1-1 1-40 1 14 1 81 1-92 1 43 1-66 1 118 1-11 1-35 1 17 1 62 1-113 1 29 1 17 1-11 1-16 1-39 1-17 1 47 1 13 1 11 1 19 1 17 1-5 1 4 1-11 1-77 1 15 1 82 1-65 1 71 1 21 1-76 1-53 1 124 1-58 1 20 1-16 1 27 1 14 1-75 1 29 1-69 1 57 1 42 1-3 1-79 1 105 1-85 1 48 1 8 1-8 1 0 1 44 1-45 1-8 1-60 1-17 1 130 1-93 1 2 1-25 1 73 1 30 1-64 1-1 1 68 1-13 1 21 1-80 1-19 1 89 1-34 1-61 1 46 1-3 1 46 1-3 1-33 1 29 1-56 1 35 1-82 1 37 1 23 1 59 1-16 1-23 1 20 1 39 1-71 1-16 1 24 1-16 1-18 1 2 1 70 1-117 1 90 1 20 1-113 1 40 1 64 1-4 1 10 1-6 1-80 1 94 1-69 1 50 1-72 1 108 1-101 1-6 1 20 1 64 1-33 1-13 1 54 1-95 1 79 1-112 1 66 1 17 1 60 1-46 1 18 1-39 1 57 1-61 1-46 1 70 1-66 1 62" stroke="url(#cg)" stroke-width="0.3" fill="none" vector-effect="non-scaling-stroke" stroke-linejoin="round" opacity="0.8"/>
<path d="M30 214v76M162 208v102M25 218v100M56 212v77M100 223v86M23 223v51M169 220v58M73 220v100" stroke="#faff05" stroke-width="0.45" fill="none" vector-effect="non-scaling-stroke" opacity="0.75"/>
<path d="M8.97 96.03L9.76 59.2L10.56 96.03ZM77.79 96.49L78.58 46L79.38 96.49ZM91.74 96.58L92.53 20L93.33 96.58ZM110.34 96.7L111.14 54.8L111.93 96.7Z" fill="url(#sg)"/>
<path d="M9.76 43.2V96.03M78.58 30V96.49M92.53 4V96.58M111.14 38.8V96.7" stroke="url(#sg)" stroke-width="0.7" vector-effect="non-scaling-stroke" fill="none"/>
</g></g>
<path d="M22.8 426.6H139.8V518.6" stroke="#d2d2d6" stroke-width="0.5" fill="none"/>
<path d="M22.8 426.6V518.6H139.8" stroke="#b4b4bc" stroke-width="0.55" fill="none"/>
<text x="20.8" y="428.25" font-size="3.74" text-anchor="end">0</text>
<text x="20.8" y="439.75" font-size="3.74" text-anchor="end">-10</text>
<text x="20.8" y="451.25" font-size="3.74" text-anchor="end">-20</text>
<text x="20.8" y="462.75" font-size="3.74" text-anchor="end">-30</text>
<text x="20.8" y="474.25" font-size="3.74" text-anchor="end">-40</text>
<text x="20.8" y="485.75" font-size="3.74" text-anchor="end">-50</text>
<text x="20.8" y="497.25" font-size="3.74" text-anchor="end">-60</text>
<text x="20.8" y="508.75" font-size="3.74" text-anchor="end">-70</text>
<text x="20.8" y="520.25" font-size="3.74" text-anchor="end">-80</text>
<text x="22.8" y="524.55" font-size="4.09" text-anchor="middle">0</text>
<text x="37.43" y="524.55" font-size="4.09" text-anchor="middle">50</text>
<text x="52.05" y="524.55" font-size="4.09" text-anchor="middle">100</text>
<text x="66.68" y="524.55" font-size="4.09" text-anchor="middle">150</text>
<text x="81.3" y="524.55" font-size="4.09" text-anchor="middle">200</text>
<text x="95.93" y="524.55" font-size="4.09" text-anchor="middle">250</text>
<text x="110.55" y="524.55" font-size="4.09" text-anchor="middle">300</text>
<text x="125.18" y="524.55" font-size="4.09" text-anchor="middle">350</text>
<text x="139.8" y="524.55" font-size="4.09" text-anchor="middle">400</text>
<text x="81.7" y="529.9" font-size="4.65" text-anchor="middle">Range cell</text>
<text transform="translate(13.68 471.4) rotate(-90)" font-size="4.22" text-anchor="middle">Normalized received power/dB</text>
<text x="78.3" y="542.8" font-size="8.2" text-anchor="middle" fill="#555">(<tspan font-weight="bold" fill="#222">g</tspan>)</text>
<path d="M211.84 426.6V518.5M226.47 426.6V518.5M241.11 426.6V518.5M255.75 426.6V518.5M270.39 426.6V518.5M285.02 426.6V518.5M299.66 426.6V518.5M197.2 507.01H314.3M197.2 495.52H314.3M197.2 484.04H314.3M197.2 472.55H314.3M197.2 461.06H314.3M197.2 449.58H314.3M197.2 438.09H314.3" stroke="#ebebeb" stroke-width="0.5" fill="none"/>
<g filter="url(#bl)"><g transform="translate(197.2 426.6) scale(0.62957 0.28719)">
<path d="M0 84L1 82L2 87L3 85L4 88L5 84L6 82L7 85L8 83L9 89L10 88L11 85L12 75L13 81L14 84L15 89L16 89L17 84L18 80L19 84L20 86L21 86L22 81L23 84L24 81L25 84L26 75L27 81L28 88L29 86L30 78L31 85L32 81L33 88L34 77L35 85L36 78L37 75L38 80L39 75L40 78L41 81L42 84L43 83L44 87L45 87L46 85L47 78L48 82L49 86L50 88L51 87L52 85L53 84L54 80L55 75L56 81L57 88L58 83L59 81L60 80L61 86L62 81L63 82L64 83L65 80L66 82L67 78L68 81L69 87L70 81L71 82L72 85L73 84L74 86L75 81L76 82L77 85L78 84L79 86L80 84L81 81L82 88L83 77L84 88L85 85L86 81L87 84L88 86L89 85L90 75L91 77L92 88L93 85L94 83L95 84L96 88L97 88L98 88L99 80L100 77L101 86L102 85L103 82L104 81L105 88L106 82L107 89L108 86L109 89L110 78L111 84L112 76L113 83L114 82L115 79L116 85L117 76L118 89L119 84L120 80L121 86L122 86L123 83L124 86L125 88L126 89L127 79L128 81L129 88L130 85L131 88L132 90L133 82L134 88L135 87L136 79L137 87L138 82L139 87L140 82L141 80L142 88L143 83L144 75L145 75L146 89L147 87L148 89L149 87L150 84L151 87L152 89L153 89L154 81L155 75L156 86L157 84L158 81L159 86L160 83L161 89L162 78L163 88L164 77L165 80L166 82L167 88L168 88L169 85L170 88L171 85L172 80L173 75L174 85L175 87L176 85L177 81L178 82L179 82L180 83L181 80L182 83L183 84L184 85L185 84L186 82L186 220L0 220Z" fill="url(#gh)" opacity="0.5"/>
<path d="M0 235v10m1-23v25m1-6v8m1 33v38m1-87v19m1-18v19m1 2v31m1-50v26m1-10v31m1-65v3m1-4v1m1 17v37m2-47v55m1-25v7m1-23v4m1-11v20m1-2v1m1-11v34m1-48v25m1 1v6m1-13v24m1-38v3m1 16v19m1-39v71m1-52v20m1-35v23m1-24v14m1 9v13m1-47v2m1 36v9m1-34v7m1-10v3m1 7v29m1-48v21m1-3v29m1-37v19m1-11v5m1-14v10m1 7v4m1-18v20m1-26v2m1 14v17m1-29v11m1-13v6m1-8v3m1 23v30m1-39v25m1-42v18m1-9v1m1-15v20m2 21v27m1-55v58m1-41v49m1-59v23m1-38v17m1-9v9m1 5v19m1-32v9m1-11v33m1-34v13m1-7v10m1-10v62m1-66v47m1-43v5m1-12v16m1-4v1m1-20v1m1 0v14m1 5v2m1 4v40m1-52v7m1-26v26m1-10v3m2 9v31m1-22v13m1-33v17m1-26v18m1-13v25m1-23v2m1 3v19m1-41v10m1-7v15m1 12v8m1 5v2m1-28v16m1-16v13m1-16v1m1-3v14m1-10v53m1-55v41m1-44v2m1-11v1m1 1v29m1-24v11m1 18v5m1-16v73m1-90v66m1-58v8m1-13v6m1 18v17m1-30v57m1-59v4m1 2v9m1-17v27m2-21v19m1-38v31m1-7v10m1-35v2m1-1v27m1-12v75m1-81v21m1-28v7m1 0v37m1-41v8m1-12v2m1 13v1m1-26v16m1-4v12m1-4v1m1-4v12m1-12v1m1-4v10m2 1v53m1-58v10m1 0v16m1-29v25m1-9v15m1-36v4m1 2v42m1-32v13m1-42v15m1-6v14m1-1v1m1 14v66m1-92v3m1 9v15m1-10v26m1-18v13m1-25v7m1-8v46m1-70v25m1 4v13m1-19v1m1-14v24m1-15v17m1-20v13m1-2v17m1-27v6m1-1v20m1-22v11m1-16v23m1-19v17m1-20v26m1-21v51m1-46v12m1-23v2m1 20v22m1-52v2m1 24v30m1-37v9m1-6v12m1-27v30m1-21v30m1-28v12m1-17v39m1-19v32m1-53v46m1-47v19m1-6v5m1-14v7m1-20v4m1-4v30m1-16v19m1-28v80m1-77v19m1-20v25m1 0v19m1-39v30m1-1v4m1-42v20m2-20v38" stroke="url(#gh)" stroke-width="0.45" fill="none" vector-effect="non-scaling-stroke" opacity="0.65"/>
<path d="M1 86v136m1-130v149m15-153v162m2-162v138m6-137v160m4-158v131m6-133v152m11-151v165m1-172v163m8-166v164m3-156v163m3-161v145m2-148v154m4-158v163m2-154v136m3-139v152m8-152v146m6-149v177m5-181v154m1-143v141m15-140v136m6-142v154m16-149v155m3-153v135m2-137v153m3-154v147m4-154v160m9-156v143m1-140v151m1-150v140m1-139v144m2-158v151m3-145v151m8-150v143m1-137v146m12-153v147m4-144v177" stroke="url(#gh)" stroke-width="0.62" fill="none" vector-effect="non-scaling-stroke" opacity="0.85"/>
<path d="M9 93v125m2-128v145m12-146v161m3-170v154m1-148v147m4-143v145m2-142v149m4-162v161m2-161v169m3-160v156m3-153v137m4-138v147m1-145v131m3-135v148m3-151v143m10-142v147m2-148v141m5-138v133m3-136v164m2-162v151m4-147v150m7-152v144m1-154v152m9-147v145m1-148v156m2-148v167m1-170v157m1-158v156m1-150v156m3-157v155m6-160v150m3-156v152m2-144v155m3-152v147m1-150v147m3-141v146m1-157v160m4-150v158m7-164v167m1-162v136m3-136v161m1-165v153m3-147v151m2-151v132m6-140v150m5-145v151m5-160v160m8-157v149m2-144v148m1-147v134m3-138v143m2-143v145m1-147v172m5-170v141" stroke="url(#gh)" stroke-width="0.62" fill="none" vector-effect="non-scaling-stroke" opacity="1.0"/>
<path d="M4 93v140m2-146v168m9-161v145m3-154v155m3-150v155m7-152v163m4-170v146m2-150v141m6-140v152m4-143v139m4-144v142m3-137v145m3-152v169m5-168v152m3-152v155m2-153v149m7-151v167m3-162v147m1-152v141m2-137v169m4-173v151m4-147v160m8-160v141m2-142v135m1-132v137m1-137v166m13-175v168m1-162v137m1-146v147m3-144v146m6-139v140m7-144v152m5-151v149m2-144v125m1-133v142m4-139v153m4-160v160m1-160v136m12-127v143m3-144v143m1-137v159m2-160v156m2-164v160m5-152v163m3-176v167m3-157v135m6-137v149m3-149v143" stroke="url(#wh)" stroke-width="0.62" fill="none" vector-effect="non-scaling-stroke" opacity="0.9"/>
<path d="M0 89v146m3-145v192m2-193v145m2-144v146m1-148v164m2-159v124m2-137v168m1-162v139m1-136v166m2-161v138m4-141v161m2-167v146m2-145v144m6-148v178m6-178v151m2-149v148m3-146v143m2-141v145m9-143v175m5-172v144m3-152v151m5-151v156m5-155v161m9-156v139m4-148v138m1-128v131m3-134v148m1-146v146m6-149v134m4-129v154m3-156v142m5-147v154m3-146v133m7-137v146m2-142v134m2-143v133m4-127v144m1-143v140m5-142v145m17-144v148m2-147v143m7-144v144m6-152v140m6-130v148m1-151v146m2-146v145m6-149v153m7-150v139" stroke="url(#ch)" stroke-width="0.62" fill="none" vector-effect="non-scaling-stroke" opacity="0.9"/>
<path d="M0 178l1-28 1-12 1-43 1 78 1 51 1-87 1 71 1-95 1-7 1 61 1 25 1 56 1-145 1 79 1 38 1-19 1-98 1 81 1-61 1 39 1 80 1-37 1 26 1-74 1 14 1 36 1 12 1 18 1-61 1-5 1-58 1 113 1-82 1 68 1-104 1-8 1 132 1-42 1-31 1-34 1 58 1-33 1-30 1 11 1 84 1-65 1 52 1 24 1-50 1 30 1-100 1 39 1 9 1-28 1 82 1 12 1-15 1-39 1 34 1-44 1-2 1 40 1-21 1 22 1-24 1-18 1-65 1 157 1-131 1 14 1 94 1 8 1-103 1 73 1-93 1 134 1-88 1-24 1 50 1-79 1 64 1 23 1-77 1-8 1 87 1 43 1-78 1-10 1 117 1-38 1-9 1-112 1 3 1 115 1-22 1-102 1 71 1-43 1 80 1 61 1-95 1 83 1-40 1-63 1 56 1 14 1-77 1 6 1 14 1 45 1-91 1 107 1-24 1 2 1-36 1-31 1-8 1 56 1-75 1 50 1 5 1 9 1 58 1-7 1-54 1 65 1-17 1-25 1 86 1-47 1-71 1-45 1 2 1 83 1-1 1-36 1-11 1 11 1 20 1 25 1-70 1 93 1-121 1-16 1 33 1 105 1-25 1-25 1-4 1 15 1 63 1-24 1 3 1-26 1-73 1 50 1-40 1-6 1-5 1 74 1-63 1-12 1 79 1-46 1-10 1-6 1-8 1 98 1-52 1 10 1-51 1 25 1 57 1-79 1-23 1 54 1 37 1-44 1 47 1 1 1-54 1 32 1 63 1-94 1-60 1 67M0 214l1-12 1-113 1 101 1-79 1-24 1 44 1 69 1 30 1-135 1-5 1 140 1-43 1-24 1-17 1 67 1 8 1 5 1-89 1 20 1-15 1 83 1-83 1 9 1-34 1 68 1-57 1 46 1-18 1 44 1 21 1 9 1-88 1 87 1-91 1 58 1 5 1 22 1-84 1 1 1 16 1 73 1-16 1-32 1-19 1 64 1-57 1-65 1 113 1-55 1 39 1-18 1-14 1-17 1 9 1 5 1 19 1 54 1-87 1 40 1-56 1 15 1 4 1-59 1 116 1 16 1-50 1 18 1-82 1 27 1 50 1 58 1-51 1-34 1 65 1-95 1 112 1-54 1 67 1-43 1-26 1-24 1 67 1-67 1-46 1 50 1 84 1-70 1-40 1 16 1-64 1 105 1-69 1 68 1-39 1-4 1 5 1-57 1 66 1 27 1 16 1-19 1-85 1 28 1 56 1 31 1 6 1-113 1 34 1 31 1 21 1-40 1 45 1-95 1 52 1-15 1 53 1 4 1-35 1 23 1-91 1 57 1 8 1 7 1 62 1-125 1 118 1-78 1 78 1-74 1-1 1 58 1-96 1 11 1 35 1 31 1-26 1 23 1-72 1 55 1-31 1-36 1 38 1 40 1 33 1-8 1-55 1-17 1 18 1 38 1 36 1-13 1-53 1 10 1-90 1 78 1 66 1-27 1-64 1 20 1 15 1 76 1-37 1 19 1 3 1-65 1 36 1-91 1 21 1-4 1-2 1 31 1 41 1-8 1 21 1-115 1 101 1 11 1-124 1 123 1-60 1 15 1 23 1-61 1 40 1-42 1 84M0 147l1 74 1 14 1-23 1-5 1 6 1-26 1 34 1-2 1-9 1-94 1 52 1 69 1-84 1-49 1 135 1-82 1 49 1-66 1 1 1 75 1 28 1-134 1 30 1 38 1 26 1 15 1-109 1 78 1-39 1 107 1-83 1 33 1-5 1-119 1 46 1 71 1-12 1-52 1 81 1-25 1 10 1-37 1 60 1-57 1 15 1-65 1 123 1-129 1 96 1-68 1 97 1-90 1-31 1 98 1-62 1 5 1-1 1 6 1-48 1 69 1 47 1-103 1 28 1 53 1-33 1 41 1-76 1 43 1 39 1-59 1-39 1 60 1-8 1-23 1-45 1-4 1 77 1 58 1-120 1 58 1 60 1-56 1-9 1 22 1 22 1-66 1 81 1-6 1-41 1 0 1-38 1 22 1 45 1-57 1-37 1 96 1 27 1-66 1-37 1 95 1-85 1 69 1 30 1-157 1 74 1-16 1-10 1 50 1 30 1 9 1-88 1 18 1-18 1 23 1 45 1-14 1-40 1 56 1-51 1 38 1-36 1 52 1-3 1 22 1-7 1-126 1 131 1-93 1-19 1 26 1-18 1 11 1-33 1 96 1-16 1-55 1 53 1 13 1-4 1-48 1 68 1 38 1-44 1-118 1 11 1 38 1-24 1 18 1-26 1 80 1 53 1-46 1-71 1-25 1 48 1 91 1-74 1 41 1-48 1-5 1 66 1-71 1 3 1 47 1 27 1 44 1-137 1-27 1 76 1 71 1-56 1 42 1-140 1 128 1-91 1-23 1 84 1 29 1-24 1 16 1 25 1-82 1 104 1-67 1-4 1-49M0 222l1-89 1 172 1-79 1-64 1 62 1-73 1-1 1 17 1 9 1 38 1-30 1-93 1 106 1 12 1 22 1-125 1 91 1-85 1-16 1 127 1 10 1-37 1-40 1-18 1 31 1-64 1 35 1 21 1 54 1-38 1 11 1-42 1 56 1-115 1 121 1-85 1 69 1-84 1 91 1-27 1 55 1 11 1-54 1 22 1 22 1-41 1 58 1-131 1 45 1 54 1 0 1 5 1-81 1 113 1-103 1 63 1-12 1-5 1 29 1-49 1 28 1-94 1 107 1-42 1 58 1 2 1-90 1 35 1-15 1-63 1 147 1-44 1-57 1 70 1-8 1 18 1-10 1 44 1-57 1-42 1-26 1 100 1-32 1-4 1 12 1 40 1-83 1 4 1 13 1-15 1 12 1 47 1-59 1 38 1-8 1-16 1 37 1-16 1-22 1 41 1-19 1-66 1 117 1-69 1-8 1-65 1 42 1 89 1-25 1-90 1 26 1-21 1 78 1-24 1-67 1 57 1-59 1 68 1 15 1-44 1 38 1-53 1-4 1 32 1-4 1 11 1-44 1 30 1-24 1 36 1 7 1-32 1-51 1 10 1 15 1 56 1-54 1 112 1-48 1 33 1-16 1 29 1-97 1 66 1-15 1-45 1 3 1 62 1-73 1 44 1-58 1 95 1-61 1 57 1-45 1 33 1-62 1-4 1-24 1-5 1 85 1-34 1 50 1-73 1 57 1-52 1 84 1-88 1 69 1-88 1 98 1-6 1-4 1-17 1-63 1 36 1-78 1 126 1-5 1-50 1-68 1 54 1 109 1-58 1 34 1-81M0 187l1 5 1 14 1-91 1 4 1 115 1-83 1 45 1 34 1-121 1 19 1 91 1 38 1-156 1 40 1 43 1-22 1 40 1-91 1 54 1 51 1-52 1-33 1 40 1-38 1 109 1-95 1 68 1-106 1-11 1 56 1 75 1-82 1 3 1 4 1 30 1 41 1-22 1 10 1 11 1-20 1-15 1 49 1-51 1 33 1 1 1 8 1 12 1-59 1-38 1 53 1-104 1 11 1 66 1 14 1 9 1 12 1-45 1 35 1 12 1-88 1 72 1-88 1 116 1-76 1 63 1-34 1-87 1 96 1-9 1 61 1-98 1 94 1-20 1 27 1-79 1 56 1-24 1 14 1-21 1-55 1-9 1-13 1 119 1-24 1-72 1-2 1 99 1-94 1 93 1-98 1-33 1 80 1 18 1-58 1-33 1 40 1 112 1-81 1 6 1 75 1-69 1 61 1-80 1 3 1-1 1-46 1 25 1 85 1-124 1 102 1-29 1 47 1-21 1-28 1-1 1 48 1-64 1 2 1 76 1-44 1 24 1-85 1-13 1 106 1-50 1-36 1 95 1-136 1 84 1-63 1 28 1 76 1-11 1-6 1-76 1 67 1-8 1-19 1-43 1 50 1 42 1-4 1-119 1 75 1 37 1 23 1-8 1-37 1-73 1 102 1 20 1-8 1-48 1-28 1-37 1-17 1 115 1-39 1-85 1 91 1 92 1-50 1-31 1 5 1-8 1-6 1-5 1-28 1 71 1-57 1-12 1 84 1-18 1-102 1 71 1 5 1-15 1-26 1 30 1-58 1 92 1-14 1 2 1-59 1 86 1-131M0 135l1 35 1-9 1 100 1-136 1 60 1 89 1-131 1 59 1-52 1 46 1 35 1-10 1-122 1 14 1 51 1 41 1-1 1 16 1-73 1 64 1 22 1-145 1 92 1-22 1 85 1-72 1 32 1 16 1-83 1 1 1-23 1 118 1-1 1-101 1 68 1-81 1 54 1 38 1-44 1 60 1-135 1 118 1-46 1 14 1-9 1 58 1-91 1-22 1 122 1-27 1 6 1-97 1 70 1 118 1-154 1 62 1-101 1 148 1-175 1 128 1-3 1-70 1 37 1-2 1-14 1 42 1 3 1-99 1 98 1-55 1 33 1-9 1 33 1-28 1-17 1 77 1-137 1 23 1 9 1-5 1 66 1-74 1 53 1-8 1-44 1 38 1 75 1-28 1-61 1 37 1 44 1-20 1-59 1-42 1 118 1-66 1-50 1 30 1-1 1 109 1-24 1-58 1 7 1 39 1 4 1-62 1 42 1 40 1-127 1 59 1-80 1 126 1-18 1-5 1 49 1-16 1-102 1 74 1-87 1 113 1-1 1 12 1-4 1-25 1 18 1 3 1-136 1 149 1-93 1-32 1 117 1-17 1-74 1-2 1-22 1 69 1 27 1 28 1-109 1 3 1 108 1-32 1-93 1 106 1-4 1-10 1 24 1-48 1-8 1-14 1 61 1-13 1-33 1 54 1-111 1 35 1 59 1-49 1 36 1-49 1 36 1-31 1 40 1-42 1 3 1-4 1 19 1 40 1-68 1 85 1-4 1-39 1-4 1-58 1 91 1-40 1-39 1 3 1-19 1-3 1 46 1 53 1 46 1-81 1-23 1-15" stroke="url(#wh)" stroke-width="0.3" fill="none" vector-effect="non-scaling-stroke" stroke-linejoin="round" opacity="0.8"/>
<path d="M0 217l1-96 1 78 1 43 1-133 1 48 1 34 1-48 1 97 1-98 1 71 1-62 1-17 1 36 1 64 1 3 1-38 1-8 1 41 1-40 1-98 1 87 1-64 1 108 1-27 1 0 1-93 1 46 1 68 1-54 1 49 1-98 1 82 1-84 1 80 1-54 1 46 1 33 1 13 1-22 1-51 1 58 1-114 1 28 1 77 1 10 1-93 1 83 1-63 1-42 1 24 1-27 1 153 1-29 1-63 1 69 1-2 1-27 1-11 1-35 1-15 1 81 1-86 1 65 1-58 1 87 1-80 1-26 1 59 1 31 1-47 1 69 1-41 1-80 1 61 1 45 1-78 1 106 1 0 1-66 1-32 1-14 1 33 1 42 1-73 1 111 1-23 1-101 1 85 1-78 1 55 1-78 1 120 1-80 1-58 1 107 1 14 1 6 1-13 1 13 1-135 1 12 1 56 1-3 1 75 1 5 1-103 1-28 1 58 1 58 1-110 1 25 1 70 1-47 1 56 1 12 1-9 1 15 1 1 1-58 1 5 1-78 1 85 1-41 1 83 1-40 1-7 1-58 1 116 1-118 1 87 1-95 1 47 1 60 1-54 1 7 1-25 1 65 1-88 1 8 1 46 1 14 1 58 1-43 1-48 1 61 1-22 1-4 1-18 1-2 1-33 1 78 1-71 1 35 1 60 1-84 1 74 1-92 1 93 1-13 1-52 1 57 1-24 1-67 1 54 1-72 1 58 1-39 1 70 1 20 1-34 1 40 1-9 1-124 1 89 1-60 1-4 1 33 1 70 1-114 1 31 1 3 1 9 1 45 1 7 1 26 1-63M0 219l1-125 1-4 1 152 1-25 1-11 1 28 1-37 1 14 1-31 1-70 1 71 1 21 1 14 1-46 1-31 1 69 1-104 1 5 1 145 1-127 1 110 1-96 1-43 1 132 1-2 1-58 1-41 1-12 1 44 1 90 1-77 1 23 1 25 1-12 1-9 1-110 1 57 1-48 1 17 1 80 1 16 1-56 1 10 1-25 1-21 1-20 1 67 1-39 1 35 1 0 1-2 1-32 1 87 1-46 1 9 1 17 1-26 1-10 1 65 1-71 1-53 1 138 1-142 1 76 1 18 1-108 1 160 1-53 1 69 1-54 1-55 1 36 1 30 1-111 1 19 1-26 1-4 1 94 1-12 1 18 1 28 1-5 1-68 1 13 1-16 1 82 1-99 1 62 1 39 1-90 1 0 1 61 1-22 1-21 1-42 1 31 1 70 1 14 1-76 1 67 1 8 1-9 1-104 1 95 1-59 1 41 1-35 1-37 1 38 1 25 1-16 1-38 1 43 1 41 1 7 1-125 1 44 1-39 1 114 1-22 1-39 1-50 1 97 1 29 1-74 1-23 1 15 1 85 1-55 1-67 1 94 1-65 1 67 1 28 1-134 1 104 1 14 1-49 1-5 1 26 1-25 1 13 1 56 1-30 1-87 1 93 1-75 1-19 1 122 1-120 1 70 1 34 1-28 1-80 1 45 1-58 1 114 1 3 1-88 1 97 1 19 1-53 1-9 1-39 1 72 1-42 1 44 1-3 1-51 1 3 1-2 1-39 1 46 1 15 1 6 1-104 1 37 1-43 1 50 1 34 1 79 1-101 1 43 1 45 1-88 1 77M0 214l1-111 1 31 1-3 1 93 1-13 1 27 1-65 1-9 1 31 1 18 1-71 1 86 1-11 1 16 1-12 1-29 1-42 1 40 1-90 1 45 1 28 1-18 1 21 1-15 1 72 1-70 1 61 1-8 1-38 1-1 1 13 1 79 1-152 1-13 1 118 1-2 1-51 1 51 1-68 1 57 1-89 1 22 1 50 1 19 1-54 1-52 1 123 1-69 1-17 1 71 1-50 1 79 1-108 1-9 1 73 1-15 1-47 1 107 1-12 1-50 1 29 1-85 1-14 1 115 1-26 1 7 1 8 1-66 1 53 1-98 1 16 1 98 1-4 1 10 1-116 1 11 1 20 1 99 1-35 1-86 1 70 1-62 1 89 1-79 1 46 1-12 1-69 1 46 1-39 1 108 1-124 1 85 1-13 1-5 1-18 1-4 1 57 1 3 1-50 1 79 1-29 1-18 1 21 1 2 1-100 1 142 1-24 1-12 1 19 1-119 1 64 1-41 1-29 1 70 1 51 1 10 1-49 1-11 1 64 1-56 1-65 1 58 1 47 1-116 1 105 1 13 1-6 1 4 1-107 1 26 1 95 1-111 1 98 1 16 1-128 1 115 1-1 1 21 1-37 1-62 1 111 1-38 1-105 1 114 1-62 1 20 1 30 1-88 1 79 1-48 1 53 1-94 1-17 1 96 1-61 1 60 1-61 1-12 1 49 1-41 1 88 1-46 1 68 1-159 1 139 1 7 1 10 1-23 1-28 1-61 1 70 1-30 1 8 1-81 1 35 1 2 1-46 1 84 1 47 1-108 1 39 1 75 1 37 1-62 1-56 1 40M0 200l1-22 1 15 1 15 1-26 1-58 1-26 1 13 1 86 1-2 1 18 1 13 1-43 1 24 1-123 1 130 1 9 1-5 1-113 1 29 1 13 1-31 1 86 1 31 1-92 1 77 1-55 1 40 1 15 1-60 1 7 1 5 1-24 1-26 1-27 1 118 1-11 1 28 1-75 1 54 1 8 1-22 1-65 1 0 1 85 1 5 1-66 1 78 1-53 1 35 1 0 1-38 1 11 1-1 1 6 1-105 1 74 1 57 1 34 1-55 1-36 1 30 1 6 1-63 1-31 1 135 1-52 1 41 1-16 1-59 1 26 1 29 1-2 1-3 1-31 1 7 1-14 1 82 1-66 1-27 1 52 1 6 1 11 1-24 1 17 1 6 1-23 1 31 1 5 1-93 1 91 1-32 1-84 1 114 1-101 1 83 1-114 1 182 1-81 1 26 1 4 1-47 1 22 1-105 1 79 1 60 1-85 1 45 1 28 1-63 1-44 1-23 1 94 1-69 1 95 1-22 1 13 1 5 1-12 1-34 1-36 1 16 1-17 1 107 1-16 1-37 1-46 1 98 1-86 1 87 1-39 1-82 1 122 1-3 1 0 1-75 1 28 1-30 1 76 1-55 1-11 1 32 1-29 1 17 1-65 1 83 1-36 1 16 1-52 1 70 1 26 1 12 1-50 1 19 1 7 1-40 1 21 1 12 1-80 1 53 1-7 1 10 1-25 1 59 1-16 1-8 1-33 1 35 1 1 1-90 1 110 1-45 1 54 1-115 1 44 1 54 1-16 1-34 1 26 1-28 1 73 1-120 1 21 1 47 1-83 1 134 1-100M0 107l1 115 1-49 1-6 1 23 1-5 1-39 1 80 1-81 1-45 1 41 1 62 1-76 1 52 1 131 1-109 1-26 1 28 1 35 1-54 1-57 1 101 1-40 1-12 1-32 1 121 1-140 1 76 1 13 1 4 1 14 1-94 1-26 1 121 1-24 1 30 1-111 1 89 1-78 1 86 1-116 1 33 1 68 1-27 1-25 1 34 1 14 1-71 1 59 1-43 1-2 1 11 1 24 1-14 1 53 1 63 1-65 1-121 1 62 1 15 1 38 1 14 1-88 1-1 1-18 1-22 1 74 1 54 1-86 1 47 1 46 1-151 1 112 1 18 1 5 1 4 1-110 1 40 1 81 1-95 1 69 1-43 1 38 1-25 1 35 1 7 1 4 1 9 1-97 1 2 1-35 1 103 1 9 1 12 1-102 1 66 1 30 1 20 1-79 1-52 1 46 1 42 1-13 1-3 1 41 1-82 1 77 1 0 1 3 1 2 1-96 1 62 1-48 1-23 1 116 1-55 1 33 1-44 1-9 1 19 1-36 1 22 1 29 1-39 1 59 1-35 1-41 1 92 1-1 1-18 1-95 1 67 1-18 1-48 1 72 1 20 1-48 1 21 1-84 1 85 1-14 1-25 1 75 1 21 1-15 1-38 1 23 1 16 1-86 1 87 1-113 1 53 1 66 1-122 1 91 1-33 1-16 1 51 1 11 1 21 1-52 1-54 1 61 1-35 1 9 1-49 1 92 1-62 1 78 1-18 1 45 1-23 1-131 1 138 1-4 1-19 1 0 1-80 1 44 1 22 1 5 1 18 1-64 1 59 1-31 1-79 1 64M0 198l1 8 1-2 1 7 1-30 1-69 1 134 1-23 1-60 1-57 1 55 1-48 1 78 1 3 1-56 1 46 1-22 1 73 1 4 1-56 1-6 1-3 1-33 1 69 1 18 1 2 1-16 1-123 1 94 1-41 1 44 1-28 1 40 1-55 1 71 1-103 1 83 1-39 1 40 1-27 1-57 1 94 1 22 1-83 1 60 1 14 1 4 1-43 1-21 1 76 1-87 1 57 1-57 1 57 1-35 1 31 1 20 1-112 1 129 1-92 1-29 1 101 1 11 1-36 1 40 1-57 1 41 1-115 1 135 1-46 1-104 1 155 1-12 1-69 1 41 1-44 1 35 1 14 1-15 1-85 1 118 1-68 1 9 1 48 1-94 1 72 1-3 1 5 1-44 1 22 1-15 1 49 1-28 1-8 1-55 1 68 1 9 1-58 1 36 1 9 1 15 1 26 1-115 1 98 1-53 1-5 1 68 1-51 1-45 1 54 1 71 1-57 1-24 1 4 1 55 1-42 1 15 1-20 1 4 1-59 1 40 1-18 1 47 1-11 1-34 1 57 1 36 1-53 1 53 1-48 1 43 1 16 1-73 1 44 1-35 1-14 1-54 1 53 1 59 1-43 1 49 1-58 1-1 1-8 1 32 1-16 1-5 1 56 1-70 1 4 1 26 1-69 1 66 1-52 1-47 1 53 1 34 1 1 1-62 1 118 1-79 1 32 1 8 1-46 1 56 1-50 1-13 1 83 1-44 1-30 1-30 1 25 1 73 1 14 1-62 1 66 1-34 1 17 1-6 1 3 1-110 1 20 1-20 1 134 1-124 1 51 1 18" stroke="url(#ch)" stroke-width="0.3" fill="none" vector-effect="non-scaling-stroke" stroke-linejoin="round" opacity="0.8"/>
<path d="M68 227v86M158 224v95M109 221v99M124 219v101M75 208v112M98 238v62M147 227v93M125 228v92M21 231v89M26 229v52M125 213v107M105 232v75M162 208v103M171 222v96M115 212v101M19 225v82" stroke="#0000e6" stroke-width="0.45" fill="none" vector-effect="non-scaling-stroke" opacity="0.75"/>
<path d="M81.8 97.2L82.91 16L84.02 97.2ZM83.21 97.2L84.17 72L85.12 97.2ZM80.89 97.2L81.84 76L82.79 97.2ZM94.97 97.2L95.6 54L96.24 97.2ZM118.64 97.2L119.27 59.2L119.91 97.2ZM138.21 97.2L138.85 46L139.48 97.2Z" fill="url(#sh)"/>
<path d="M82.91 0V97.2M84.17 56V97.2M81.84 60V97.2M95.6 38V97.2M119.27 43.2V97.2M138.85 30V97.2" stroke="url(#sh)" stroke-width="0.7" vector-effect="non-scaling-stroke" fill="none"/>
</g></g>
<path d="M197.2 426.6H314.3V518.5" stroke="#d2d2d6" stroke-width="0.5" fill="none"/>
<path d="M197.2 426.6V518.5H314.3" stroke="#b4b4bc" stroke-width="0.55" fill="none"/>
<text x="195.2" y="428.25" font-size="3.74" text-anchor="end">0</text>
<text x="195.2" y="439.74" font-size="3.74" text-anchor="end">-10</text>
<text x="195.2" y="451.23" font-size="3.74" text-anchor="end">-20</text>
<text x="195.2" y="462.72" font-size="3.74" text-anchor="end">-30</text>
<text x="195.2" y="474.2" font-size="3.74" text-anchor="end">-40</text>
<text x="195.2" y="485.69" font-size="3.74" text-anchor="end">-50</text>
<text x="195.2" y="497.18" font-size="3.74" text-anchor="end">-60</text>
<text x="195.2" y="508.67" font-size="3.74" text-anchor="end">-70</text>
<text x="195.2" y="520.15" font-size="3.74" text-anchor="end">-80</text>
<text x="197.2" y="524.45" font-size="4.09" text-anchor="middle">-200</text>
<text x="211.84" y="524.45" font-size="4.09" text-anchor="middle">-150</text>
<text x="226.47" y="524.45" font-size="4.09" text-anchor="middle">-100</text>
<text x="241.11" y="524.45" font-size="4.09" text-anchor="middle">-50</text>
<text x="255.75" y="524.45" font-size="4.09" text-anchor="middle">0</text>
<text x="270.39" y="524.45" font-size="4.09" text-anchor="middle">50</text>
<text x="285.02" y="524.45" font-size="4.09" text-anchor="middle">100</text>
<text x="299.66" y="524.45" font-size="4.09" text-anchor="middle">150</text>
<text x="314.3" y="524.45" font-size="4.09" text-anchor="middle">200</text>
<text x="256.15" y="529.8" font-size="4.65" text-anchor="middle">Doppler/Hz</text>
<text transform="translate(188.08 471.35) rotate(-90)" font-size="4.22" text-anchor="middle">Normalized received power/dB</text>
<text x="252.75" y="542.7" font-size="8.2" text-anchor="middle" fill="#555">(<tspan font-weight="bold" fill="#222">h</tspan>)</text>
<rect x="10" y="0" width="330" height="1.3" fill="#f4f4f4"/>
<path d="M76.3 46.3h5.3v11.1h-5.3zM86.3 39.1h5.8v18.5h-5.8z" stroke="#333" stroke-width="0.5" fill="none"/>
</svg></body></html>
